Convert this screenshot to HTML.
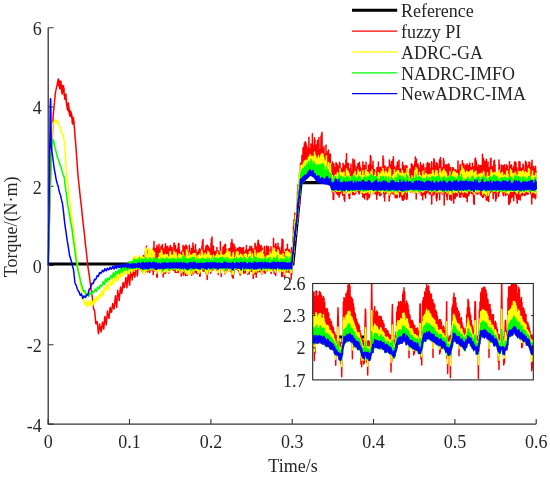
<!DOCTYPE html>
<html lang="en"><head><meta charset="utf-8"><title>Torque response</title>
<style>html,body{margin:0;padding:0;background:#fff}body{width:550px;height:477px;overflow:hidden}svg{display:block}</style></head>
<body>
<svg width="550" height="477" viewBox="0 0 550 477">
<style>text{font-family:"Liberation Serif","Times New Roman",serif;font-size:18px;fill:#262626}.ln{fill:none;stroke-width:1.5;stroke-linejoin:round}</style>
<rect width="550" height="477" fill="#fff"/>
<path d="M48.2 27.7V424.1H536.2" fill="none" stroke="#333" stroke-width="1.3"/>
<path d="M48.2 424.1v-5M129.5 424.1v-5M210.9 424.1v-5M292.2 424.1v-5M373.5 424.1v-5M454.9 424.1v-5M536.2 424.1v-5M48.2 27.7h5.4M48.2 107.0h5.4M48.2 186.3h5.4M48.2 265.5h5.4M48.2 344.8h5.4M48.2 424.1h5.4" fill="none" stroke="#333" stroke-width="1.1"/>
<polyline fill="none" stroke="#000" stroke-width="3.2" stroke-linejoin="miter" points="48.2,264.0 292.9,264.0 301.0,182.6 536.2,182.6"/>
<polyline class="ln" stroke="#ff0000" points="48.2,265.5 48.5,256.2 48.7,246.9 49.0,237.6 49.2,228.3 49.5,219.0 49.7,209.7 50.0,200.4 50.2,191.2 50.5,181.9 50.7,175.2 51.0,169.1 51.2,163.1 51.5,157.0 51.7,151.0 52.0,144.9 52.2,138.9 52.5,132.8 52.7,126.8 53.0,120.7 53.2,114.7 53.5,112.2 53.7,109.8 54.0,107.3 54.2,104.8 54.5,102.4 54.7,99.9 55.0,97.4 55.2,95.0 55.5,92.5 55.7,91.1 56.0,89.9 56.2,88.8 56.5,87.7 56.7,86.5 57.0,85.4 57.2,84.6 57.5,82.3 57.7,82.5 58.0,79.6 58.2,82.8 58.5,79.0 58.7,86.1 59.0,80.5 59.2,86.8 59.5,83.9 59.7,88.8 60.0,83.1 60.2,87.5 60.5,81.0 60.7,86.0 61.0,81.6 61.2,89.6 61.5,84.3 61.7,92.3 62.0,89.2 62.2,94.3 62.5,87.4 62.7,92.0 63.0,85.5 63.2,90.4 63.5,86.1 63.7,92.4 64.0,88.1 64.2,95.5 64.5,93.3 64.7,99.1 65.0,94.4 65.2,99.2 65.5,94.5 65.7,98.1 66.0,94.2 66.2,102.4 66.5,99.4 66.7,105.8 67.0,103.0 67.2,109.0 67.5,104.3 67.7,110.2 68.0,106.0 68.2,109.0 68.5,103.1 68.7,111.5 69.0,107.0 69.2,113.5 69.5,109.9 69.7,115.9 70.0,111.5 70.2,115.8 70.5,111.1 70.7,116.4 71.0,112.1 71.2,115.3 71.5,113.3 71.7,118.3 72.0,115.5 72.2,123.0 72.5,119.7 72.7,123.9 73.0,119.0 73.2,123.7 73.5,117.8 73.7,123.5 74.0,121.3 74.2,126.9 74.5,127.0 74.7,132.5 75.0,134.6 75.2,138.9 75.5,141.2 75.7,144.2 76.0,147.3 76.2,150.5 76.5,154.0 76.7,157.7 77.0,161.0 77.2,164.7 77.5,168.2 77.7,171.6 78.0,174.8 78.2,177.9 78.5,180.2 78.7,182.3 79.0,184.5 79.2,187.0 79.5,189.3 79.7,191.8 80.0,194.2 80.2,196.8 80.5,198.8 80.7,200.9 81.0,203.1 81.2,205.0 81.5,207.2 81.7,209.3 82.0,212.0 82.2,214.5 82.5,217.2 82.7,219.7 83.0,221.9 83.2,223.8 83.5,225.8 83.7,227.9 84.0,229.7 84.2,232.1 84.5,234.7 84.7,237.2 85.0,239.8 85.2,242.3 85.5,244.8 85.7,246.6 86.0,248.6 86.2,250.8 86.5,252.8 86.7,254.8 87.0,257.5 87.2,259.9 87.5,262.5 87.7,264.7 88.0,266.9 88.2,268.8 88.5,270.4 88.7,272.0 89.0,273.6 89.2,275.3 89.5,276.8 89.7,279.1 90.0,281.0 90.2,283.2 90.5,285.2 90.7,287.0 91.0,288.7 91.2,290.1 91.5,291.7 91.7,293.0 92.0,294.7 92.2,296.7 92.5,298.8 92.7,301.4 93.0,303.9 93.2,306.4 93.5,307.8 93.7,308.9 94.0,309.8 94.2,309.6 94.5,310.1 94.7,311.8 95.0,314.7 95.2,316.7 95.5,320.2 95.7,323.3 96.0,323.8 96.2,323.5 96.5,323.6 96.7,323.2 97.0,321.6 97.2,321.8 97.5,324.4 97.7,326.1 98.0,328.4 98.2,332.2 98.5,333.7 98.7,332.3 99.0,329.3 99.2,328.6 99.5,326.4 99.7,324.1 100.0,326.4 100.2,328.7 100.5,327.9 100.7,329.1 101.0,332.1 101.2,331.5 101.5,329.2 101.7,326.7 102.0,326.2 102.2,324.7 102.5,321.9 102.7,322.7 103.0,325.6 103.2,327.5 103.5,328.5 103.7,329.1 104.0,326.6 104.2,324.2 104.5,320.2 104.7,317.5 105.0,316.4 105.2,318.2 105.5,320.2 105.7,321.4 106.0,323.3 106.2,325.0 106.5,322.3 106.7,319.0 107.0,316.9 107.2,314.3 107.5,310.9 107.7,314.5 108.0,314.0 108.2,315.1 108.5,316.2 108.7,317.6 109.0,318.4 109.2,315.6 109.5,313.1 109.7,311.4 110.0,308.2 110.2,307.4 110.5,310.1 110.7,310.1 111.0,311.3 111.2,312.3 111.5,311.8 111.7,312.0 112.0,308.0 112.2,307.8 112.5,304.9 112.7,303.5 113.0,304.1 113.2,305.3 113.5,306.1 113.7,308.2 114.0,309.0 114.2,308.2 114.5,304.4 114.7,304.0 115.0,299.5 115.2,299.1 115.5,295.7 115.7,299.2 116.0,300.0 116.2,303.4 116.5,306.1 116.7,307.5 117.0,302.1 117.2,298.8 117.5,295.2 117.7,290.3 118.0,292.7 118.2,294.0 118.5,293.8 118.7,295.5 119.0,297.2 119.2,300.6 119.5,297.0 119.7,295.8 120.0,291.4 120.2,289.3 120.5,287.8 120.7,286.9 121.0,289.7 121.2,291.2 121.5,293.3 121.7,293.1 122.0,292.1 122.2,290.6 122.5,289.3 122.7,285.8 123.0,282.8 123.2,282.7 123.5,284.1 123.7,284.1 124.0,285.4 124.2,287.7 124.5,286.8 124.7,287.2 125.0,282.7 125.2,283.1 125.5,280.4 125.7,278.1 126.0,277.5 126.2,281.3 126.5,282.7 126.7,283.3 127.0,287.7 127.2,283.6 127.5,282.5 127.7,279.0 128.0,276.3 128.2,275.2 128.5,272.9 128.7,275.7 128.9,277.2 129.2,280.0 129.5,285.1 129.7,285.0 129.9,281.1 130.2,279.0 130.5,274.6 130.7,271.5 131.0,270.9 131.2,271.5 131.5,275.6 131.7,274.9 132.0,277.0 132.2,279.9 132.4,276.5 132.7,275.7 133.0,273.7 133.2,270.5 133.4,269.5 133.7,265.9 134.0,268.7 134.2,273.3 134.4,275.4 134.7,277.2 135.0,275.8 135.2,274.2 135.4,268.6 135.7,267.8 136.0,264.0 136.2,264.1 136.5,266.4 136.7,270.6 137.0,271.2 137.2,275.9 137.5,272.8 137.7,273.7 137.9,266.1 138.2,267.1 138.5,262.7 138.7,263.5 138.9,261.2 139.2,267.8 139.5,263.7 139.7,269.1 139.9,264.6 140.2,269.5 140.5,264.4 140.7,269.1 140.9,262.5 141.2,266.7 141.5,257.7 141.7,267.6 142.0,261.9 142.2,271.7 142.5,263.2 142.7,272.0 143.0,258.5 143.2,270.1 143.5,255.6 143.7,268.6 144.0,258.2 144.2,269.9 144.4,256.4 144.7,268.2 145.0,260.6 145.2,269.3 145.4,251.7 145.7,271.8 146.0,250.0 146.2,267.3 146.4,246.2 146.7,267.2 147.0,250.3 147.2,271.3 147.5,250.8 147.7,272.1 148.0,255.9 148.2,269.5 148.5,259.8 148.7,269.7 149.0,252.5 149.2,270.3 149.5,252.4 149.7,272.6 150.0,254.0 150.2,268.7 150.5,252.8 150.7,268.5 150.9,254.8 151.2,267.9 151.4,254.8 151.7,268.4 152.0,256.4 152.2,270.7 152.5,255.8 152.7,270.4 152.9,249.5 153.2,274.7 153.5,247.7 153.7,271.5 154.0,241.4 154.2,268.0 154.5,254.8 154.7,269.1 154.9,258.5 155.2,269.6 155.5,248.5 155.7,267.7 156.0,251.8 156.2,267.7 156.4,249.0 156.7,276.7 156.9,245.2 157.2,277.6 157.5,246.7 157.7,268.3 158.0,252.6 158.2,268.6 158.4,253.1 158.7,268.0 159.0,244.2 159.2,268.5 159.5,249.1 159.7,268.6 160.0,252.2 160.2,268.3 160.4,249.2 160.7,269.5 161.0,246.3 161.2,267.9 161.5,248.1 161.7,267.7 161.9,252.6 162.2,272.9 162.4,244.6 162.7,274.3 163.0,248.6 163.2,276.9 163.5,248.9 163.7,268.6 163.9,254.6 164.2,268.5 164.5,249.6 164.7,273.6 165.0,247.1 165.2,270.9 165.5,243.8 165.7,273.0 165.9,250.8 166.2,268.6 166.5,250.5 166.7,269.2 167.0,246.3 167.2,269.5 167.4,248.7 167.7,268.5 167.9,247.0 168.2,269.1 168.5,248.2 168.7,272.9 169.0,256.8 169.2,272.8 169.4,254.6 169.7,269.9 170.0,246.0 170.2,270.2 170.5,245.6 170.7,269.5 171.0,251.5 171.2,268.7 171.4,248.2 171.7,268.8 172.0,247.6 172.2,269.0 172.5,258.2 172.7,269.6 173.0,257.4 173.2,268.5 173.4,249.7 173.7,270.5 174.0,243.1 174.2,268.8 174.5,243.3 174.7,267.8 174.9,251.4 175.2,272.5 175.5,245.8 175.7,271.4 176.0,250.0 176.2,272.0 176.4,256.2 176.7,272.6 176.9,249.8 177.2,270.1 177.5,249.6 177.7,272.1 177.9,247.7 178.2,272.4 178.4,243.6 178.7,268.7 179.0,243.4 179.2,268.9 179.5,249.3 179.7,268.3 179.9,256.0 180.2,270.2 180.4,253.2 180.7,270.7 181.0,253.9 181.2,276.0 181.5,252.6 181.7,268.2 181.9,251.6 182.2,268.0 182.4,251.6 182.7,268.6 183.0,245.2 183.2,274.8 183.4,253.5 183.7,275.3 183.9,251.7 184.2,268.5 184.5,246.4 184.7,267.8 185.0,253.7 185.2,268.5 185.4,248.8 185.7,275.5 185.9,245.0 186.2,270.3 186.5,246.9 186.7,274.4 187.0,246.2 187.2,275.4 187.4,251.4 187.7,273.3 187.9,251.9 188.2,269.2 188.5,254.2 188.7,269.0 189.0,259.9 189.2,272.8 189.4,245.2 189.7,273.4 190.0,254.2 190.2,270.0 190.5,252.4 190.7,269.9 190.9,254.4 191.2,269.1 191.4,248.2 191.7,275.3 192.0,255.0 192.2,270.9 192.5,253.8 192.7,271.9 192.9,243.1 193.2,272.7 193.4,246.3 193.7,273.7 194.0,251.2 194.2,272.4 194.5,255.0 194.7,271.0 194.9,250.6 195.2,272.1 195.5,244.6 195.7,268.4 196.0,249.5 196.2,272.5 196.4,259.0 196.7,273.3 196.9,254.3 197.2,273.7 197.5,252.3 197.7,272.4 198.0,253.3 198.2,271.9 198.4,253.8 198.7,272.6 198.9,250.0 199.2,270.2 199.5,248.7 199.7,276.2 200.0,249.1 200.2,276.1 200.4,250.0 200.7,267.9 201.0,251.6 201.2,268.3 201.5,250.9 201.7,267.5 201.9,246.0 202.2,269.3 202.4,241.2 202.7,269.8 203.0,239.4 203.2,271.2 203.5,249.7 203.7,269.3 203.9,250.3 204.2,270.8 204.4,250.8 204.7,270.7 205.0,252.7 205.2,271.4 205.5,248.5 205.7,270.8 205.9,245.9 206.2,273.5 206.5,250.9 206.7,272.8 207.0,245.2 207.2,279.4 207.4,245.3 207.7,274.2 207.9,250.3 208.2,270.8 208.5,246.7 208.7,268.4 209.0,248.5 209.2,267.7 209.4,248.4 209.7,269.4 209.9,250.9 210.2,269.5 210.5,249.7 210.7,273.3 211.0,243.4 211.2,270.9 211.4,238.9 211.7,270.2 212.0,237.0 212.2,267.5 212.5,250.8 212.7,269.9 212.9,250.1 213.2,269.8 213.4,245.9 213.7,267.7 214.0,252.5 214.2,268.2 214.5,252.0 214.7,268.2 214.9,253.2 215.2,267.7 215.4,251.3 215.7,270.6 216.0,253.6 216.2,270.4 216.5,254.7 216.7,269.0 216.9,247.6 217.2,270.1 217.5,253.2 217.7,272.5 218.0,254.6 218.2,274.5 218.4,251.1 218.7,268.3 218.9,252.7 219.2,268.6 219.5,258.0 219.7,268.4 220.0,258.6 220.2,268.3 220.4,241.7 220.7,268.2 220.9,249.7 221.2,276.6 221.5,251.7 221.7,268.3 222.0,252.0 222.2,269.4 222.4,252.1 222.7,267.6 223.0,246.9 223.2,268.5 223.5,251.5 223.7,267.6 224.0,252.6 224.2,271.0 224.4,244.9 224.7,271.1 225.0,247.3 225.2,274.1 225.5,244.3 225.7,273.0 225.9,251.7 226.2,269.9 226.4,249.4 226.7,270.6 227.0,252.1 227.2,267.4 227.5,249.6 227.7,268.6 227.9,251.5 228.2,269.9 228.5,253.2 228.7,270.8 229.0,248.5 229.2,270.8 229.5,253.8 229.7,268.1 229.9,253.8 230.2,268.1 230.5,247.7 230.7,268.6 231.0,243.1 231.2,271.8 231.4,246.7 231.7,272.4 231.9,239.4 232.2,276.7 232.5,243.1 232.7,277.4 233.0,245.9 233.2,278.2 233.4,246.8 233.7,274.2 234.0,244.3 234.2,270.4 234.5,254.1 234.7,269.6 235.0,246.7 235.2,269.1 235.4,250.3 235.7,268.7 236.0,251.5 236.2,268.5 236.5,253.8 236.7,269.3 236.9,249.4 237.2,268.8 237.4,248.3 237.7,269.1 238.0,255.7 238.2,270.5 238.5,248.2 238.7,269.6 238.9,255.3 239.2,272.0 239.5,247.3 239.7,273.3 240.0,252.4 240.2,275.3 240.5,247.7 240.7,268.2 240.9,247.7 241.2,274.0 241.5,252.4 241.7,269.2 242.0,248.7 242.2,269.1 242.4,251.1 242.7,268.5 243.0,247.7 243.2,267.7 243.5,247.6 243.7,273.3 244.0,255.3 244.2,268.4 244.4,253.0 244.7,272.6 245.0,252.8 245.2,273.1 245.5,250.7 245.7,269.6 246.0,249.4 246.2,268.3 246.4,245.6 246.7,268.6 247.0,250.1 247.2,268.7 247.5,256.0 247.7,274.2 247.9,255.7 248.2,270.3 248.5,249.8 248.7,272.7 249.0,251.7 249.2,274.1 249.5,248.2 249.7,269.9 249.9,246.3 250.2,271.1 250.5,258.9 250.7,268.4 251.0,253.2 251.2,271.3 251.5,246.4 251.7,270.3 252.0,249.7 252.2,269.0 252.5,250.9 252.7,271.2 253.0,248.8 253.2,278.5 253.5,253.9 253.7,271.3 253.9,250.8 254.2,273.9 254.4,251.4 254.7,274.1 255.0,243.3 255.2,268.6 255.5,244.2 255.7,269.3 256.0,249.9 256.2,277.2 256.5,247.0 256.7,273.1 257.0,247.6 257.2,271.4 257.4,247.4 257.7,272.0 257.9,241.1 258.2,270.2 258.4,240.2 258.7,268.5 259.0,245.9 259.2,268.4 259.5,244.4 259.7,271.4 260.0,249.2 260.2,268.2 260.5,250.2 260.7,268.2 260.9,246.3 261.2,273.0 261.4,245.7 261.7,274.4 261.9,247.5 262.2,268.3 262.5,248.4 262.7,268.4 263.0,257.4 263.2,267.7 263.5,252.2 263.7,271.0 264.0,255.1 264.2,272.8 264.5,246.6 264.7,271.0 264.9,253.7 265.2,273.2 265.4,254.7 265.7,270.0 266.0,254.9 266.2,271.4 266.5,246.1 266.7,271.2 267.0,247.1 267.2,268.0 267.5,252.7 267.7,269.9 268.0,248.8 268.2,269.9 268.4,246.5 268.7,268.1 268.9,248.7 269.2,269.7 269.4,254.2 269.7,269.7 270.0,252.1 270.2,270.8 270.5,250.5 270.7,272.2 271.0,246.8 271.2,273.5 271.5,254.0 271.7,270.8 271.9,251.0 272.2,268.7 272.4,256.3 272.7,268.7 272.9,254.9 273.2,268.1 273.5,238.2 273.7,269.4 274.0,247.3 274.2,273.3 274.5,246.7 274.7,272.7 275.0,247.2 275.2,274.3 275.5,244.1 275.7,275.5 275.9,243.7 276.2,270.6 276.4,250.3 276.7,267.6 277.0,247.7 277.2,268.2 277.5,246.5 277.7,268.0 278.0,243.3 278.2,267.7 278.5,251.9 278.7,269.4 279.0,247.5 279.2,271.2 279.4,248.6 279.7,269.0 279.9,254.2 280.2,270.1 280.5,250.9 280.7,268.1 281.0,253.8 281.2,268.3 281.5,246.7 281.7,276.3 282.0,239.1 282.2,276.4 282.5,243.9 282.7,276.4 283.0,239.9 283.2,269.8 283.4,255.2 283.7,268.6 283.9,258.3 284.2,268.5 284.5,252.6 284.7,277.5 285.0,252.5 285.2,269.1 285.5,249.4 285.7,268.9 286.0,254.1 286.2,270.0 286.5,251.3 286.7,271.9 286.9,248.5 287.2,271.3 287.4,244.3 287.7,271.8 288.0,252.6 288.2,271.5 288.5,258.4 288.7,272.1 289.0,249.5 289.2,272.7 289.5,250.0 289.7,267.7 290.0,256.3 290.2,272.5 290.4,253.0 290.7,270.4 290.9,254.5 291.2,279.0 291.5,247.7 291.7,274.4 292.0,254.7 292.2,268.1 292.5,247.9 292.7,263.0 293.0,236.5 293.2,260.7 293.5,226.8 293.7,254.0 294.0,220.0 294.2,252.0 294.4,224.0 294.7,244.2 294.9,212.9 295.2,237.0 295.5,219.6 295.7,235.1 296.0,219.3 296.2,228.1 296.5,214.0 296.7,224.3 297.0,204.4 297.2,218.7 297.5,192.1 297.7,213.6 297.9,185.0 298.2,218.7 298.4,185.3 298.7,208.1 299.0,186.9 299.2,203.7 299.5,173.0 299.7,204.1 300.0,174.1 300.2,188.3 300.5,163.2 300.7,185.0 301.0,164.4 301.2,184.4 301.4,171.7 301.7,183.8 301.9,155.4 302.2,183.3 302.5,157.1 302.7,182.7 303.0,148.2 303.2,182.1 303.5,147.2 303.7,181.5 304.0,147.7 304.2,180.9 304.4,143.2 304.7,180.5 304.9,157.2 305.2,180.0 305.4,141.8 305.7,179.5 305.9,142.7 306.2,179.0 306.5,145.1 306.7,178.4 307.0,147.3 307.2,177.9 307.5,149.4 307.7,177.3 307.9,154.8 308.2,176.7 308.4,148.6 308.7,176.2 308.9,137.3 309.2,175.6 309.4,148.5 309.7,175.0 310.0,150.7 310.2,174.5 310.5,149.3 310.7,173.9 311.0,144.1 311.2,173.5 311.4,152.5 311.7,173.5 311.9,152.9 312.2,173.5 312.4,133.7 312.7,173.5 312.9,145.2 313.2,173.5 313.5,155.1 313.7,173.5 314.0,156.0 314.2,173.5 314.5,137.8 314.7,173.5 315.0,140.1 315.2,173.5 315.4,155.7 315.7,173.5 315.9,150.8 316.2,173.5 316.4,145.0 316.7,173.5 316.9,144.9 317.2,173.5 317.5,140.4 317.7,173.5 318.0,147.3 318.2,173.5 318.5,144.5 318.7,173.6 318.9,137.4 319.2,173.6 319.4,154.7 319.7,173.6 319.9,157.2 320.2,173.6 320.4,149.6 320.7,173.6 321.0,136.2 321.2,173.6 321.5,134.5 321.7,173.6 322.0,132.2 322.2,173.8 322.4,148.3 322.7,174.3 322.9,153.3 323.2,174.9 323.4,155.5 323.7,175.4 323.9,146.5 324.2,176.0 324.5,155.2 324.7,176.5 325.0,154.5 325.2,177.0 325.5,156.8 325.7,177.5 326.0,145.0 326.2,177.9 326.4,153.0 326.7,178.3 326.9,153.5 327.2,178.7 327.4,156.0 327.7,179.2 327.9,151.4 328.2,179.6 328.5,150.0 328.7,180.0 329.0,154.2 329.2,180.5 329.5,165.0 329.7,180.9 329.9,159.5 330.2,181.4 330.4,154.1 330.7,183.1 330.9,171.8 331.2,187.2 331.4,164.6 331.7,189.4 332.0,170.3 332.2,191.2 332.5,161.9 332.7,192.4 333.0,177.6 333.2,199.5 333.4,174.8 333.7,199.4 333.9,164.1 334.2,191.3 334.4,171.1 334.7,190.6 334.9,167.8 335.2,191.4 335.5,167.9 335.7,191.6 336.0,162.7 336.2,192.8 336.5,163.3 336.7,193.5 337.0,164.6 337.2,193.3 337.4,165.0 337.7,194.8 337.9,166.9 338.2,194.8 338.4,166.4 338.7,190.3 339.0,166.0 339.2,197.3 339.5,162.3 339.7,194.4 340.0,163.5 340.2,192.6 340.5,168.7 340.7,192.9 340.9,172.2 341.2,192.2 341.4,173.3 341.7,191.4 341.9,168.6 342.2,189.7 342.4,168.0 342.7,195.2 343.0,163.3 343.2,194.5 343.5,165.3 343.7,194.4 344.0,165.2 344.2,199.4 344.5,165.6 344.7,201.2 344.9,166.1 345.2,191.0 345.4,178.9 345.7,192.4 345.9,160.1 346.2,192.6 346.5,153.7 346.7,190.3 347.0,163.0 347.2,190.7 347.5,168.0 347.7,190.3 348.0,170.3 348.2,191.2 348.4,163.4 348.7,195.2 348.9,171.1 349.2,198.4 349.4,175.5 349.7,198.5 350.0,168.8 350.2,191.3 350.5,175.3 350.7,189.6 351.0,163.9 351.2,191.2 351.5,174.3 351.7,190.4 351.9,177.6 352.2,191.1 352.4,171.7 352.7,194.8 352.9,158.9 353.2,193.0 353.4,167.8 353.7,194.2 354.0,169.2 354.2,194.7 354.5,159.9 354.7,192.8 355.0,164.7 355.2,189.4 355.5,173.0 355.7,193.8 355.9,169.8 356.2,189.9 356.4,174.4 356.7,191.3 356.9,166.7 357.2,189.9 357.5,166.1 357.7,190.7 358.0,163.6 358.2,191.1 358.5,168.5 358.7,193.1 359.0,170.3 359.2,194.1 359.4,162.3 359.7,192.7 359.9,165.8 360.2,191.3 360.4,168.0 360.7,190.8 361.0,168.2 361.2,191.6 361.5,174.3 361.7,193.0 362.0,172.4 362.2,191.3 362.5,171.3 362.7,196.8 362.9,161.8 363.2,197.3 363.4,168.5 363.7,194.5 363.9,169.7 364.2,197.1 364.4,165.3 364.7,199.1 365.0,170.9 365.2,191.3 365.5,173.0 365.7,191.4 366.0,162.3 366.2,194.6 366.5,172.2 366.7,193.6 366.9,171.1 367.2,199.8 367.4,170.6 367.7,199.5 367.9,173.1 368.2,192.2 368.5,165.2 368.7,192.3 369.0,171.1 369.2,197.7 369.5,178.4 369.7,196.6 370.0,163.0 370.2,190.7 370.4,155.6 370.7,190.5 370.9,156.7 371.2,190.8 371.4,165.0 371.7,190.7 372.0,172.4 372.2,190.0 372.5,172.0 372.7,193.0 373.0,161.3 373.2,192.1 373.5,170.4 373.7,194.0 374.0,171.9 374.2,191.4 374.4,169.5 374.7,192.1 374.9,171.1 375.2,193.2 375.4,177.4 375.7,192.1 376.0,172.8 376.2,194.7 376.5,172.0 376.7,199.2 377.0,167.6 377.2,193.2 377.5,169.6 377.7,194.5 377.9,170.9 378.2,191.5 378.4,162.0 378.7,192.3 378.9,171.8 379.2,192.4 379.5,167.5 379.7,195.6 380.0,171.0 380.2,195.8 380.5,176.0 380.7,193.0 381.0,167.0 381.2,194.8 381.4,169.2 381.7,191.0 381.9,176.0 382.2,190.1 382.4,175.7 382.7,191.3 383.0,155.9 383.2,190.3 383.5,158.7 383.7,193.6 384.0,166.1 384.2,197.2 384.5,174.8 384.7,200.9 385.0,166.1 385.2,193.4 385.4,173.2 385.7,193.7 385.9,169.7 386.2,191.8 386.4,170.5 386.7,189.4 387.0,167.3 387.2,192.7 387.5,174.3 387.7,192.4 388.0,174.7 388.2,190.1 388.5,167.6 388.7,190.1 388.9,166.7 389.2,201.0 389.4,160.0 389.7,196.6 389.9,169.9 390.2,193.8 390.5,165.7 390.7,193.6 391.0,164.3 391.2,189.4 391.5,161.4 391.7,192.6 392.0,170.4 392.2,192.1 392.4,175.6 392.7,192.6 392.9,159.5 393.2,194.3 393.4,156.8 393.7,189.6 394.0,170.2 394.2,189.7 394.5,171.6 394.7,191.4 395.0,166.7 395.2,197.7 395.5,171.5 395.7,197.6 396.0,171.5 396.2,194.1 396.4,169.2 396.7,191.2 396.9,165.5 397.2,197.7 397.4,161.9 397.7,191.2 398.0,174.3 398.2,189.9 398.5,165.0 398.7,192.1 399.0,160.3 399.2,191.6 399.5,176.1 399.7,197.2 399.9,176.7 400.2,195.4 400.4,169.1 400.7,195.5 400.9,172.5 401.2,190.5 401.5,175.9 401.7,197.1 402.0,175.7 402.2,200.1 402.5,162.3 402.7,194.8 403.0,164.9 403.2,200.3 403.4,165.6 403.7,192.0 403.9,165.6 404.2,192.9 404.4,167.2 404.7,199.0 405.0,167.5 405.2,192.8 405.5,174.1 405.7,191.6 406.0,165.5 406.2,192.7 406.5,168.5 406.7,199.5 407.0,166.1 407.2,198.3 407.4,173.7 407.7,191.4 407.9,177.2 408.2,191.0 408.5,173.8 408.7,191.1 409.0,179.2 409.2,190.5 409.5,171.7 409.7,191.2 410.0,168.9 410.2,191.1 410.5,170.4 410.7,191.9 410.9,172.9 411.2,191.4 411.4,163.7 411.7,190.3 411.9,167.4 412.2,190.8 412.5,164.9 412.7,191.3 413.0,166.4 413.2,192.5 413.5,172.5 413.7,190.8 414.0,171.7 414.2,192.9 414.5,164.7 414.7,189.9 414.9,161.6 415.2,190.8 415.4,156.9 415.7,191.1 416.0,162.7 416.2,198.9 416.5,159.2 416.7,191.2 417.0,173.9 417.2,191.3 417.5,176.0 417.7,190.1 418.0,163.9 418.2,191.4 418.4,166.5 418.7,193.0 418.9,168.2 419.2,191.8 419.5,172.3 419.7,191.4 420.0,170.0 420.2,191.2 420.5,162.5 420.7,191.0 421.0,164.9 421.2,195.3 421.5,172.8 421.7,193.5 421.9,165.4 422.2,195.8 422.4,167.5 422.7,199.7 422.9,169.5 423.2,190.7 423.5,164.0 423.7,190.8 424.0,167.4 424.2,194.7 424.5,177.9 424.7,192.6 425.0,178.4 425.2,195.0 425.5,175.3 425.7,198.0 425.9,167.8 426.2,193.5 426.4,170.1 426.7,190.6 427.0,163.7 427.2,192.3 427.5,162.5 427.7,191.1 428.0,162.9 428.2,191.7 428.5,168.1 428.7,191.4 429.0,164.0 429.2,194.1 429.4,163.8 429.7,191.4 429.9,168.2 430.2,192.5 430.5,175.0 430.7,193.7 431.0,177.8 431.2,195.8 431.5,161.7 431.7,204.1 432.0,169.9 432.2,191.9 432.5,169.9 432.7,190.5 432.9,167.9 433.2,195.1 433.4,162.3 433.7,195.1 433.9,158.7 434.2,193.7 434.5,160.1 434.7,191.4 435.0,165.4 435.2,191.3 435.5,169.7 435.7,190.1 436.0,167.4 436.2,198.6 436.5,162.8 436.7,200.8 436.9,164.4 437.2,198.1 437.4,163.8 437.7,193.0 438.0,166.7 438.2,192.5 438.5,167.3 438.7,190.2 439.0,169.1 439.2,191.1 439.5,160.0 439.7,199.7 440.0,169.3 440.2,192.5 440.4,157.5 440.7,191.0 440.9,160.2 441.2,191.9 441.5,170.4 441.7,191.5 442.0,170.1 442.2,194.3 442.5,168.1 442.7,190.6 443.0,171.8 443.2,190.6 443.5,158.4 443.7,190.3 444.0,161.1 444.2,204.9 444.4,169.8 444.7,190.4 444.9,166.1 445.2,191.2 445.5,173.0 445.7,193.1 446.0,164.4 446.2,194.0 446.5,171.0 446.7,196.6 447.0,165.1 447.2,199.8 447.5,171.2 447.7,195.0 447.9,169.7 448.2,190.5 448.4,164.1 448.7,190.9 449.0,164.3 449.2,190.6 449.5,170.5 449.7,199.2 450.0,171.2 450.2,192.1 450.5,167.6 450.7,194.7 451.0,171.6 451.2,200.5 451.4,176.3 451.7,199.9 451.9,175.3 452.2,194.3 452.5,167.7 452.7,190.7 453.0,170.2 453.2,191.1 453.5,167.9 453.7,203.2 454.0,173.7 454.2,198.2 454.5,174.3 454.7,194.6 455.0,169.8 455.2,198.5 455.4,170.2 455.7,196.5 455.9,170.1 456.2,196.0 456.4,173.1 456.7,193.2 456.9,173.9 457.2,196.1 457.4,171.1 457.7,192.2 458.0,160.9 458.2,192.5 458.5,169.6 458.7,191.4 459.0,173.5 459.2,190.5 459.5,178.3 459.7,197.3 460.0,164.4 460.2,196.1 460.5,165.8 460.7,197.1 461.0,172.0 461.2,192.1 461.5,174.1 461.7,194.0 462.0,173.0 462.2,190.2 462.4,160.7 462.7,190.0 462.9,163.4 463.2,197.1 463.4,171.4 463.7,193.7 463.9,164.1 464.2,194.7 464.4,173.8 464.7,196.7 464.9,172.9 465.2,197.0 465.5,165.5 465.7,192.3 466.0,173.8 466.2,197.7 466.5,166.1 466.7,197.2 467.0,163.7 467.2,201.8 467.5,165.5 467.7,191.4 468.0,168.5 468.2,192.1 468.5,170.8 468.7,195.8 469.0,164.9 469.2,194.0 469.5,164.8 469.7,193.2 469.9,162.9 470.2,192.3 470.4,177.1 470.7,191.5 470.9,167.6 471.2,191.2 471.4,168.5 471.7,193.5 471.9,170.9 472.2,193.2 472.5,163.3 472.7,193.1 473.0,175.5 473.2,194.9 473.5,167.1 473.7,203.3 474.0,168.1 474.2,204.6 474.5,170.9 474.7,191.1 475.0,159.0 475.2,191.2 475.5,158.0 475.7,191.7 476.0,160.6 476.2,193.7 476.5,162.1 476.7,193.2 477.0,167.4 477.2,192.4 477.4,175.6 477.7,194.3 477.9,176.3 478.2,192.0 478.4,165.1 478.7,191.7 478.9,170.0 479.2,191.4 479.4,171.8 479.7,189.4 480.0,165.5 480.2,194.6 480.5,170.3 480.7,194.5 481.0,165.6 481.2,195.4 481.5,166.2 481.7,195.4 482.0,165.8 482.2,196.8 482.5,154.3 482.7,197.6 483.0,164.6 483.2,195.7 483.5,158.5 483.7,196.7 484.0,164.8 484.2,193.2 484.5,161.3 484.7,194.2 484.9,172.8 485.2,194.0 485.4,166.3 485.7,195.5 485.9,161.0 486.2,199.8 486.4,159.2 486.7,200.2 486.9,169.3 487.2,191.2 487.5,168.2 487.7,193.4 488.0,162.0 488.2,200.5 488.5,173.8 488.7,201.4 489.0,167.7 489.2,195.1 489.5,174.1 489.7,191.7 490.0,170.7 490.2,192.7 490.5,158.4 490.7,192.1 491.0,158.2 491.2,189.4 491.5,171.9 491.7,191.3 491.9,176.1 492.2,191.3 492.4,166.6 492.7,190.8 492.9,167.2 493.2,198.7 493.4,169.7 493.7,189.5 493.9,161.1 494.2,189.8 494.5,160.2 494.7,192.4 495.0,164.6 495.2,194.0 495.5,172.8 495.7,201.1 496.0,177.7 496.2,198.8 496.5,178.1 496.7,198.0 497.0,176.2 497.2,190.7 497.5,172.7 497.7,190.3 498.0,172.3 498.2,190.9 498.5,174.3 498.7,196.2 499.0,159.9 499.2,192.6 499.4,164.6 499.7,189.7 499.9,174.7 500.2,190.4 500.4,177.9 500.7,189.8 500.9,171.0 501.2,191.2 501.4,164.9 501.7,190.3 502.0,168.8 502.2,192.5 502.5,172.5 502.7,193.2 503.0,165.4 503.2,195.3 503.5,166.3 503.7,195.7 504.0,171.0 504.2,190.7 504.5,164.8 504.7,191.4 505.0,168.2 505.2,189.6 505.5,169.1 505.7,195.6 506.0,172.6 506.2,192.8 506.5,164.8 506.7,193.4 506.9,176.7 507.2,194.3 507.4,166.1 507.7,191.4 507.9,169.3 508.2,191.8 508.4,173.0 508.7,204.0 508.9,170.6 509.2,204.4 509.5,161.7 509.7,202.1 510.0,171.6 510.2,202.5 510.5,165.4 510.7,195.5 511.0,173.2 511.2,192.5 511.5,165.0 511.7,197.7 512.0,168.6 512.2,196.5 512.5,176.2 512.7,191.2 513.0,173.1 513.2,196.0 513.5,166.9 513.7,200.7 514.0,173.3 514.2,190.9 514.5,162.1 514.7,191.0 515.0,161.7 515.2,194.0 515.5,172.4 515.7,192.3 516.0,162.9 516.2,196.0 516.5,170.9 516.7,198.4 517.0,168.1 517.2,203.2 517.5,174.7 517.7,193.5 518.0,173.7 518.2,199.5 518.5,173.2 518.7,192.2 519.0,161.5 519.2,193.7 519.5,163.2 519.7,199.2 520.0,162.0 520.2,200.1 520.5,171.9 520.7,191.6 521.0,168.3 521.2,194.5 521.5,173.5 521.7,195.3 522.0,169.1 522.2,195.8 522.5,167.7 522.7,191.2 523.0,164.1 523.2,191.0 523.5,165.7 523.7,194.4 524.0,172.6 524.2,194.5 524.5,177.5 524.7,195.5 525.0,170.5 525.2,195.6 525.5,161.3 525.7,194.1 526.0,161.7 526.2,193.8 526.5,163.2 526.7,192.2 527.0,170.8 527.2,194.1 527.5,170.3 527.7,194.4 528.0,166.1 528.2,194.1 528.5,172.2 528.7,192.0 529.0,162.0 529.2,190.5 529.5,162.2 529.7,191.4 530.0,167.6 530.2,189.9 530.5,173.7 530.7,193.5 531.0,171.7 531.2,193.1 531.5,163.1 531.7,204.1 532.0,160.3 532.2,197.8 532.5,171.4 532.7,191.5 533.0,174.7 533.2,194.7 533.5,166.6 533.7,197.3 534.0,169.0 534.2,191.6 534.5,169.5 534.7,191.6 535.0,168.2 535.2,198.8 535.5,166.3 535.7,198.0 536.0,171.0 536.2,190.0"/>
<polyline class="ln" stroke="#ffff00" points="48.2,265.5 48.5,255.0 48.7,244.5 49.0,234.0 49.2,223.6 49.5,213.1 49.7,202.6 50.0,192.1 50.2,184.4 50.5,177.5 50.7,170.5 51.0,163.6 51.2,156.6 51.5,149.7 51.7,142.7 52.0,135.7 52.2,128.8 52.5,125.4 52.7,124.5 53.0,123.6 53.2,122.8 53.5,122.2 53.7,122.5 54.0,122.1 54.2,121.6 54.5,121.2 54.7,120.4 55.0,120.1 55.2,120.5 55.5,120.9 55.7,121.8 56.0,122.4 56.2,123.0 56.5,122.6 56.7,122.0 57.0,121.6 57.2,120.6 57.5,120.3 57.7,121.2 58.0,122.4 58.2,123.2 58.5,124.2 58.7,125.2 59.0,126.2 59.2,126.2 59.5,126.3 59.7,126.4 60.0,126.6 60.2,126.9 60.5,128.0 60.7,129.4 61.0,130.3 61.2,131.8 61.5,133.0 61.7,133.1 62.0,133.3 62.2,133.5 62.5,133.7 62.7,133.7 63.0,134.7 63.2,136.0 63.5,137.1 63.7,138.1 64.0,139.6 64.2,139.9 64.5,143.1 64.7,146.7 65.0,150.0 65.2,153.6 65.5,157.6 65.7,161.6 66.0,165.7 66.2,169.5 66.5,173.4 66.7,177.3 67.0,179.2 67.2,181.0 67.5,182.9 67.7,184.7 68.0,186.3 68.2,188.5 68.5,190.7 68.7,192.9 69.0,195.0 69.2,197.2 69.5,199.0 69.7,200.8 70.0,202.5 70.2,204.4 70.5,206.3 70.7,208.5 71.0,211.0 71.2,213.2 71.5,215.5 71.7,217.9 72.0,220.1 72.2,222.0 72.5,223.9 72.7,225.8 73.0,227.6 73.2,229.7 73.5,231.9 73.7,234.0 74.0,236.1 74.2,238.2 74.5,240.4 74.7,242.1 75.0,244.0 75.2,245.7 75.5,247.5 75.7,249.4 76.0,251.3 76.2,253.5 76.5,255.8 76.7,258.0 77.0,260.1 77.2,262.0 77.5,263.8 77.7,265.5 78.0,266.9 78.2,268.6 78.5,270.2 78.7,272.3 79.0,274.2 79.2,276.3 79.5,278.4 79.7,280.2 80.0,281.9 80.2,283.4 80.5,284.9 80.7,286.3 81.0,287.4 81.2,289.6 81.5,291.9 81.7,294.1 82.0,296.7 82.2,298.4 82.5,298.9 82.7,298.8 83.0,298.4 83.2,297.9 83.5,297.5 83.7,299.8 84.0,300.8 84.2,302.5 84.5,303.8 84.7,304.4 85.0,304.6 85.2,304.5 85.5,303.9 85.7,302.9 86.0,302.0 86.2,301.2 86.5,301.4 86.7,302.7 87.0,304.5 87.2,305.7 87.5,306.9 87.7,306.0 88.0,305.3 88.2,303.8 88.5,302.0 88.7,300.9 89.0,301.9 89.2,302.6 89.5,303.6 89.7,304.5 90.0,305.6 90.2,305.2 90.5,304.6 90.7,303.7 91.0,302.2 91.2,301.4 91.5,300.4 91.7,301.1 92.0,303.2 92.2,304.2 92.5,304.4 92.7,305.5 93.0,304.1 93.2,303.1 93.5,301.7 93.7,299.7 94.0,298.7 94.2,300.3 94.5,301.2 94.7,301.3 95.0,301.9 95.2,302.6 95.5,302.7 95.7,301.1 96.0,299.3 96.2,298.5 96.5,297.1 96.7,296.8 97.0,297.9 97.2,299.1 97.5,299.3 97.7,300.3 98.0,300.5 98.2,298.8 98.5,298.0 98.7,296.9 99.0,294.7 99.2,294.5 99.5,294.8 99.7,296.1 100.0,296.8 100.2,297.6 100.5,297.5 100.7,297.2 101.0,294.9 101.2,293.8 101.5,293.0 101.7,291.0 102.0,290.7 102.2,292.2 102.5,293.3 102.7,293.8 103.0,295.5 103.2,295.1 103.5,293.2 103.7,290.8 104.0,288.9 104.2,287.0 104.5,288.2 104.7,289.0 105.0,288.9 105.2,289.9 105.5,290.6 105.7,290.5 106.0,289.7 106.2,288.4 106.5,287.0 106.7,286.4 107.0,284.7 107.2,285.2 107.5,286.2 107.7,286.8 108.0,288.2 108.2,289.9 108.5,288.9 108.7,286.8 109.0,285.0 109.2,282.9 109.5,281.1 109.7,283.3 110.0,283.4 110.2,283.9 110.5,284.2 110.7,284.7 111.0,285.2 111.2,284.0 111.5,283.6 111.7,281.8 112.0,281.2 112.2,278.0 112.5,279.4 112.7,281.2 113.0,282.5 113.2,283.0 113.5,284.6 113.7,283.3 114.0,280.8 114.2,279.5 114.5,277.3 114.7,275.5 115.0,276.3 115.2,278.4 115.5,278.7 115.7,279.9 116.0,281.3 116.2,281.3 116.5,279.1 116.7,278.1 117.0,276.5 117.2,275.0 117.5,274.0 117.7,275.0 118.0,276.2 118.2,277.9 118.5,279.2 118.7,280.4 119.0,278.0 119.2,276.9 119.5,273.5 119.7,272.7 120.0,270.5 120.2,274.0 120.5,272.6 120.7,275.7 121.0,274.4 121.2,277.2 121.5,274.9 121.7,274.4 122.0,272.0 122.2,272.8 122.5,270.2 122.7,270.3 123.0,270.1 123.2,272.5 123.5,271.1 123.7,276.0 124.0,271.4 124.2,274.1 124.5,268.9 124.7,270.5 125.0,265.2 125.2,268.4 125.5,266.3 125.7,270.6 126.0,268.2 126.2,274.2 126.5,271.3 126.7,272.9 127.0,268.1 127.2,271.1 127.5,265.9 127.7,268.5 128.0,264.5 128.2,270.6 128.5,267.6 128.7,273.6 128.9,269.1 129.2,273.6 129.5,266.9 129.7,269.9 129.9,264.0 130.2,267.9 130.5,261.9 130.7,270.4 131.0,264.4 131.2,271.6 131.5,266.2 131.7,273.0 132.0,264.2 132.2,271.4 132.4,262.7 132.7,267.6 133.0,258.7 133.2,267.9 133.4,257.9 133.7,268.7 134.0,257.0 134.2,271.2 134.4,256.7 134.7,269.1 135.0,260.1 135.2,267.7 135.4,256.1 135.7,267.3 136.0,256.7 136.2,269.3 136.5,257.9 136.7,269.4 137.0,259.7 137.2,268.5 137.5,260.6 137.7,267.4 137.9,258.6 138.2,267.3 138.5,255.5 138.7,268.6 138.9,256.0 139.2,268.7 139.5,261.1 139.7,268.5 139.9,257.4 140.2,267.5 140.5,258.0 140.7,268.2 140.9,259.6 141.2,270.1 141.5,256.5 141.7,270.5 142.0,259.2 142.2,271.0 142.5,259.3 142.7,269.4 143.0,258.1 143.2,273.3 143.5,257.2 143.7,271.8 144.0,257.5 144.2,274.3 144.4,259.4 144.7,269.8 145.0,258.0 145.2,268.1 145.4,248.9 145.7,271.5 146.0,253.0 146.2,268.2 146.4,248.0 146.7,269.0 147.0,258.4 147.2,270.4 147.5,255.0 147.7,270.3 148.0,257.0 148.2,269.3 148.5,249.6 148.7,268.9 149.0,248.2 149.2,268.2 149.5,255.7 149.7,269.4 150.0,256.6 150.2,267.8 150.5,249.4 150.7,268.3 150.9,255.0 151.2,268.8 151.4,258.2 151.7,268.3 152.0,256.1 152.2,268.0 152.5,250.3 152.7,268.0 152.9,250.4 153.2,270.2 153.5,252.0 153.7,270.2 154.0,254.9 154.2,268.2 154.5,252.5 154.7,268.1 154.9,260.1 155.2,267.9 155.5,260.6 155.7,268.1 156.0,261.3 156.2,268.5 156.4,262.4 156.7,273.4 156.9,259.7 157.2,271.8 157.5,259.3 157.7,268.0 158.0,260.6 158.2,268.4 158.4,257.8 158.7,267.9 159.0,259.4 159.2,270.8 159.5,253.6 159.7,271.0 160.0,258.3 160.2,269.6 160.4,256.3 160.7,267.3 161.0,252.3 161.2,268.9 161.5,250.1 161.7,268.9 161.9,252.1 162.2,272.4 162.4,256.7 162.7,273.6 163.0,255.4 163.2,271.7 163.5,256.1 163.7,268.2 163.9,255.0 164.2,268.5 164.5,255.6 164.7,271.9 165.0,257.6 165.2,270.5 165.5,254.2 165.7,271.4 165.9,257.1 166.2,269.3 166.5,255.1 166.7,269.0 167.0,256.1 167.2,270.1 167.4,254.8 167.7,268.4 167.9,256.8 168.2,267.5 168.5,257.5 168.7,272.2 169.0,259.9 169.2,271.7 169.4,257.1 169.7,269.5 170.0,251.8 170.2,269.1 170.5,251.7 170.7,268.7 171.0,256.5 171.2,270.5 171.4,257.6 171.7,270.0 172.0,254.9 172.2,267.8 172.5,255.4 172.7,268.0 173.0,257.3 173.2,267.3 173.4,255.5 173.7,268.9 174.0,251.1 174.2,269.4 174.5,259.5 174.7,268.8 174.9,259.3 175.2,268.0 175.5,252.9 175.7,269.2 176.0,252.7 176.2,269.2 176.4,255.2 176.7,271.5 176.9,258.3 177.2,268.9 177.5,259.0 177.7,268.4 177.9,258.8 178.2,269.9 178.4,255.9 178.7,269.5 179.0,254.1 179.2,267.8 179.5,260.7 179.7,267.8 179.9,260.3 180.2,268.6 180.4,254.4 180.7,269.5 181.0,260.0 181.2,272.8 181.5,255.7 181.7,269.2 181.9,257.8 182.2,270.5 182.4,256.8 182.7,268.7 183.0,252.2 183.2,271.2 183.4,257.9 183.7,270.5 183.9,255.7 184.2,269.1 184.5,257.4 184.7,268.1 185.0,257.5 185.2,268.9 185.4,258.9 185.7,272.4 185.9,260.4 186.2,272.0 186.5,249.7 186.7,274.0 187.0,251.4 187.2,271.8 187.4,252.0 187.7,274.2 187.9,256.3 188.2,268.5 188.5,257.7 188.7,268.4 189.0,259.3 189.2,273.8 189.4,252.9 189.7,274.2 190.0,255.8 190.2,268.0 190.5,259.9 190.7,268.5 190.9,255.6 191.2,268.5 191.4,255.6 191.7,273.8 192.0,255.2 192.2,269.3 192.5,255.7 192.7,270.4 192.9,253.9 193.2,269.4 193.4,253.6 193.7,272.7 194.0,254.5 194.2,270.4 194.5,253.8 194.7,268.0 194.9,255.8 195.2,267.7 195.5,253.2 195.7,269.6 196.0,259.8 196.2,270.2 196.4,259.0 196.7,269.3 196.9,258.2 197.2,268.8 197.5,255.9 197.7,272.4 198.0,258.8 198.2,271.1 198.4,255.7 198.7,272.0 198.9,257.2 199.2,269.7 199.5,254.2 199.7,273.1 200.0,256.3 200.2,271.8 200.4,258.3 200.7,268.0 201.0,258.2 201.2,268.5 201.5,251.3 201.7,267.8 201.9,250.1 202.2,268.5 202.4,252.7 202.7,267.9 203.0,257.0 203.2,268.6 203.5,256.8 203.7,268.1 203.9,255.8 204.2,269.6 204.4,254.6 204.7,268.7 205.0,253.3 205.2,269.9 205.5,255.2 205.7,271.7 205.9,257.2 206.2,272.5 206.5,259.9 206.7,272.6 207.0,254.5 207.2,274.5 207.4,257.9 207.7,271.1 207.9,251.2 208.2,268.0 208.5,255.5 208.7,269.5 209.0,252.6 209.2,269.4 209.4,258.0 209.7,271.8 209.9,255.0 210.2,270.8 210.5,257.9 210.7,271.3 211.0,259.8 211.2,270.5 211.4,255.8 211.7,270.0 212.0,258.5 212.2,268.4 212.5,259.8 212.7,267.6 212.9,259.2 213.2,267.6 213.4,255.1 213.7,268.8 214.0,257.3 214.2,268.3 214.5,256.6 214.7,268.2 214.9,260.6 215.2,268.6 215.4,261.0 215.7,270.4 216.0,255.9 216.2,269.2 216.5,254.8 216.7,268.3 216.9,255.2 217.2,268.6 217.5,251.9 217.7,272.8 218.0,255.5 218.2,272.6 218.4,257.2 218.7,267.8 218.9,255.1 219.2,267.7 219.5,257.7 219.7,268.8 220.0,256.5 220.2,268.5 220.4,256.7 220.7,267.9 220.9,251.3 221.2,272.7 221.5,256.2 221.7,268.3 222.0,255.9 222.2,267.9 222.4,255.0 222.7,270.1 223.0,257.4 223.2,269.1 223.5,257.7 223.7,269.8 224.0,255.3 224.2,268.4 224.4,257.3 224.7,268.4 225.0,254.8 225.2,272.8 225.5,257.7 225.7,273.4 225.9,253.5 226.2,268.4 226.4,256.9 226.7,267.4 227.0,250.8 227.2,268.3 227.5,249.5 227.7,267.3 227.9,256.3 228.2,269.0 228.5,254.5 228.7,270.8 229.0,251.7 229.2,270.2 229.5,255.0 229.7,267.5 229.9,252.3 230.2,268.7 230.5,258.0 230.7,267.8 231.0,257.3 231.2,269.6 231.4,258.9 231.7,269.5 231.9,257.9 232.2,274.0 232.5,255.7 232.7,272.6 233.0,253.7 233.2,274.6 233.4,252.6 233.7,269.4 234.0,259.4 234.2,269.4 234.5,261.3 234.7,268.8 235.0,257.9 235.2,268.2 235.4,258.2 235.7,267.4 236.0,255.0 236.2,267.8 236.5,251.8 236.7,267.8 236.9,254.9 237.2,268.2 237.4,255.9 237.7,269.6 238.0,251.8 238.2,268.9 238.5,260.1 238.7,268.7 238.9,256.3 239.2,269.9 239.5,255.8 239.7,272.4 240.0,257.0 240.2,271.8 240.5,254.0 240.7,267.4 240.9,258.2 241.2,274.3 241.5,255.8 241.7,269.6 242.0,255.0 242.2,268.6 242.4,257.3 242.7,268.5 243.0,261.0 243.2,267.7 243.5,258.4 243.7,268.2 244.0,258.6 244.2,268.6 244.4,254.3 244.7,270.2 245.0,254.4 245.2,269.1 245.5,253.7 245.7,267.9 246.0,256.2 246.2,270.1 246.4,254.6 246.7,269.2 247.0,259.7 247.2,268.1 247.5,257.7 247.7,273.0 247.9,258.5 248.2,269.7 248.5,254.8 248.7,271.4 249.0,259.3 249.2,270.7 249.5,251.7 249.7,270.6 249.9,251.9 250.2,270.4 250.5,251.7 250.7,268.8 251.0,255.8 251.2,268.5 251.5,259.3 251.7,267.9 252.0,258.2 252.2,267.7 252.5,253.8 252.7,268.2 253.0,257.9 253.2,274.0 253.5,259.3 253.7,270.7 253.9,259.4 254.2,272.6 254.4,257.4 254.7,270.8 255.0,250.3 255.2,268.5 255.5,255.1 255.7,269.8 256.0,256.3 256.2,272.1 256.5,258.1 256.7,270.5 257.0,256.4 257.2,269.3 257.4,253.3 257.7,269.6 257.9,256.3 258.2,270.5 258.4,253.2 258.7,268.4 259.0,255.9 259.2,268.5 259.5,257.0 259.7,268.1 260.0,252.8 260.2,270.2 260.5,256.5 260.7,269.7 260.9,252.0 261.2,269.3 261.4,256.9 261.7,274.1 261.9,256.9 262.2,270.1 262.5,250.6 262.7,269.2 263.0,254.3 263.2,270.3 263.5,254.5 263.7,268.5 264.0,257.3 264.2,269.6 264.5,258.9 264.7,269.2 264.9,257.2 265.2,270.1 265.4,259.4 265.7,268.4 266.0,261.1 266.2,271.3 266.5,257.2 266.7,270.8 267.0,255.7 267.2,268.5 267.5,255.5 267.7,267.7 268.0,258.6 268.2,267.4 268.4,255.5 268.7,270.2 268.9,258.7 269.2,270.1 269.4,255.7 269.7,269.5 270.0,251.8 270.2,270.1 270.5,253.8 270.7,271.4 271.0,258.5 271.2,271.4 271.5,254.6 271.7,268.5 271.9,255.4 272.2,268.3 272.4,250.7 272.7,267.7 272.9,251.0 273.2,268.4 273.5,254.7 273.7,268.3 274.0,248.1 274.2,268.5 274.5,249.0 274.7,270.2 275.0,258.1 275.2,272.2 275.5,258.4 275.7,270.8 275.9,252.3 276.2,269.7 276.4,255.8 276.7,268.3 277.0,255.4 277.2,268.4 277.5,252.3 277.7,268.1 278.0,249.8 278.2,270.8 278.5,251.4 278.7,270.3 279.0,257.3 279.2,272.0 279.4,255.1 279.7,269.7 279.9,255.2 280.2,270.4 280.5,255.7 280.7,268.9 281.0,255.1 281.2,267.6 281.5,258.4 281.7,270.4 282.0,256.1 282.2,271.6 282.5,256.9 282.7,271.3 283.0,253.4 283.2,269.9 283.4,259.8 283.7,268.6 283.9,260.4 284.2,268.2 284.5,257.6 284.7,274.4 285.0,259.9 285.2,267.9 285.5,253.5 285.7,268.9 286.0,251.6 286.2,269.0 286.5,252.0 286.7,269.3 286.9,252.9 287.2,271.1 287.4,251.1 287.7,270.1 288.0,252.9 288.2,269.1 288.5,255.8 288.7,269.0 289.0,252.3 289.2,268.8 289.5,253.4 289.7,268.4 290.0,253.8 290.2,272.8 290.4,258.1 290.7,268.5 290.9,254.5 291.2,272.5 291.5,260.1 291.7,269.7 292.0,255.4 292.2,266.2 292.5,251.2 292.7,262.2 293.0,243.0 293.2,256.6 293.5,235.5 293.7,252.5 294.0,233.6 294.2,248.0 294.4,229.7 294.7,240.3 294.9,221.3 295.2,238.6 295.5,215.5 295.7,234.3 296.0,215.9 296.2,227.4 296.5,209.9 296.7,224.0 297.0,210.6 297.2,217.7 297.5,203.0 297.7,213.8 297.9,195.1 298.2,210.8 298.4,186.1 298.7,205.4 299.0,177.8 299.2,201.0 299.5,173.2 299.7,195.6 300.0,172.8 300.2,187.1 300.5,171.2 300.7,183.7 301.0,165.6 301.2,182.9 301.4,170.4 301.7,182.1 301.9,165.0 302.2,181.4 302.5,169.8 302.7,180.6 303.0,168.7 303.2,179.8 303.5,163.1 303.7,179.0 304.0,167.9 304.2,178.3 304.4,161.1 304.7,177.8 304.9,162.4 305.2,177.2 305.4,161.3 305.7,176.6 305.9,160.2 306.2,175.9 306.5,164.3 306.7,175.5 307.0,160.3 307.2,174.9 307.5,162.0 307.7,174.4 307.9,164.0 308.2,173.8 308.4,157.5 308.7,173.2 308.9,156.9 309.2,172.7 309.4,158.3 309.7,172.1 310.0,154.6 310.2,171.5 310.5,156.7 310.7,171.0 311.0,158.2 311.2,170.6 311.4,156.3 311.7,170.6 311.9,156.8 312.2,170.7 312.4,156.3 312.7,170.7 312.9,159.1 313.2,170.7 313.5,160.4 313.7,170.7 314.0,157.0 314.2,170.7 314.5,152.0 314.7,170.7 315.0,155.2 315.2,170.4 315.4,155.3 315.7,170.8 315.9,156.9 316.2,170.8 316.4,161.4 316.7,170.8 316.9,159.3 317.2,170.8 317.5,161.0 317.7,170.9 318.0,157.8 318.2,170.9 318.5,155.7 318.7,170.9 318.9,161.5 319.2,170.9 319.4,160.4 319.7,170.9 319.9,158.7 320.2,170.9 320.4,156.9 320.7,171.0 321.0,154.7 321.2,171.0 321.5,159.4 321.7,170.9 322.0,153.5 322.2,171.2 322.4,156.7 322.7,171.8 322.9,154.2 323.2,172.3 323.4,156.6 323.7,172.9 323.9,158.2 324.2,173.5 324.5,161.0 324.7,174.0 325.0,164.5 325.2,174.6 325.5,161.0 325.7,175.1 326.0,161.3 326.2,175.7 326.4,155.8 326.7,176.3 326.9,165.9 327.2,176.9 327.4,166.4 327.7,177.1 327.9,167.2 328.2,178.3 328.5,162.6 328.7,179.0 329.0,167.5 329.2,179.7 329.5,167.8 329.7,180.4 329.9,168.5 330.2,181.1 330.4,163.5 330.7,183.1 330.9,172.6 331.2,187.5 331.4,177.5 331.7,190.3 332.0,175.7 332.2,190.4 332.5,175.8 332.7,190.1 333.0,180.8 333.2,191.8 333.4,177.5 333.7,191.7 333.9,181.2 334.2,190.1 334.4,180.5 334.7,190.8 334.9,175.7 335.2,190.0 335.5,174.7 335.7,190.0 336.0,175.2 336.2,190.2 336.5,177.5 336.7,191.1 337.0,176.8 337.2,191.4 337.4,172.6 337.7,191.3 337.9,177.3 338.2,190.9 338.4,176.6 338.7,189.5 339.0,173.6 339.2,191.0 339.5,174.9 339.7,190.9 340.0,168.8 340.2,191.3 340.5,175.9 340.7,190.3 340.9,173.4 341.2,189.4 341.4,172.6 341.7,190.4 341.9,179.1 342.2,190.1 342.4,172.9 342.7,189.8 343.0,176.5 343.2,189.5 343.5,173.5 343.7,193.6 344.0,171.9 344.2,190.5 344.5,177.0 344.7,192.9 344.9,179.7 345.2,189.2 345.4,176.6 345.7,191.4 345.9,176.5 346.2,192.0 346.5,168.9 346.7,189.3 347.0,173.3 347.2,189.2 347.5,171.9 347.7,190.0 348.0,171.0 348.2,189.1 348.4,174.0 348.7,193.2 348.9,173.3 349.2,193.0 349.4,176.9 349.7,191.4 350.0,176.7 350.2,191.7 350.5,178.3 350.7,190.8 351.0,180.4 351.2,191.7 351.5,179.4 351.7,190.5 351.9,176.5 352.2,190.2 352.4,176.9 352.7,191.2 352.9,177.3 353.2,190.1 353.4,177.3 353.7,190.8 354.0,173.7 354.2,191.7 354.5,174.9 354.7,192.5 355.0,171.4 355.2,189.4 355.5,175.7 355.7,191.6 355.9,175.6 356.2,190.4 356.4,178.7 356.7,190.6 356.9,176.7 357.2,190.2 357.5,174.2 357.7,189.3 358.0,169.7 358.2,189.7 358.5,175.0 358.7,190.1 359.0,172.6 359.2,190.1 359.4,176.1 359.7,189.6 359.9,172.6 360.2,189.6 360.4,171.7 360.7,189.2 361.0,180.4 361.2,192.4 361.5,175.8 361.7,191.0 362.0,180.5 362.2,190.3 362.5,175.2 362.7,192.3 362.9,170.8 363.2,192.7 363.4,175.7 363.7,189.8 363.9,175.9 364.2,193.2 364.4,176.0 364.7,192.6 365.0,175.1 365.2,189.9 365.5,170.0 365.7,189.1 366.0,169.7 366.2,192.5 366.5,171.8 366.7,191.2 366.9,181.9 367.2,191.8 367.4,178.9 367.7,191.3 367.9,172.1 368.2,190.6 368.5,173.4 368.7,189.6 369.0,174.8 369.2,193.4 369.5,177.4 369.7,192.1 370.0,175.8 370.2,189.5 370.4,174.0 370.7,190.4 370.9,171.9 371.2,189.4 371.4,175.5 371.7,192.0 372.0,169.7 372.2,190.1 372.5,176.2 372.7,192.4 373.0,177.7 373.2,189.8 373.5,178.2 373.7,194.1 374.0,176.6 374.2,189.3 374.4,178.9 374.7,189.7 374.9,175.1 375.2,191.5 375.4,172.2 375.7,191.3 376.0,178.4 376.2,190.5 376.5,178.8 376.7,190.5 377.0,178.7 377.2,190.3 377.5,179.9 377.7,190.3 377.9,176.7 378.2,190.4 378.4,172.5 378.7,191.0 378.9,174.9 379.2,190.8 379.5,177.9 379.7,191.1 380.0,174.1 380.2,191.4 380.5,174.2 380.7,190.7 381.0,179.1 381.2,193.0 381.4,171.4 381.7,190.6 381.9,173.4 382.2,192.1 382.4,175.9 382.7,190.5 383.0,168.6 383.2,191.3 383.5,174.6 383.7,190.4 384.0,171.9 384.2,189.9 384.5,176.7 384.7,192.1 385.0,178.2 385.2,188.9 385.4,174.3 385.7,190.5 385.9,171.0 386.2,190.6 386.4,173.5 386.7,190.4 387.0,173.1 387.2,192.3 387.5,173.5 387.7,192.5 388.0,178.8 388.2,190.6 388.5,178.7 388.7,190.4 388.9,171.2 389.2,194.8 389.4,167.9 389.7,192.3 389.9,177.1 390.2,190.6 390.5,169.5 390.7,192.6 391.0,181.2 391.2,190.4 391.5,181.3 391.7,189.9 392.0,181.9 392.2,190.4 392.4,176.2 392.7,191.7 392.9,177.0 393.2,192.0 393.4,174.4 393.7,189.4 394.0,175.3 394.2,189.2 394.5,169.8 394.7,190.2 395.0,173.0 395.2,193.5 395.5,175.6 395.7,194.1 396.0,172.4 396.2,190.6 396.4,172.5 396.7,189.8 396.9,174.0 397.2,194.3 397.4,170.7 397.7,190.5 398.0,171.6 398.2,190.5 398.5,170.4 398.7,188.9 399.0,178.2 399.2,190.5 399.5,177.5 399.7,191.5 399.9,173.1 400.2,191.5 400.4,175.0 400.7,190.2 400.9,174.1 401.2,189.8 401.5,179.2 401.7,191.3 402.0,173.2 402.2,195.1 402.5,171.0 402.7,192.9 403.0,179.1 403.2,193.7 403.4,174.2 403.7,189.6 403.9,173.8 404.2,189.9 404.4,178.5 404.7,192.0 405.0,176.1 405.2,189.6 405.5,173.2 405.7,190.0 406.0,176.7 406.2,190.1 406.5,175.1 406.7,192.6 407.0,168.4 407.2,191.1 407.4,172.6 407.7,191.0 407.9,176.4 408.2,190.4 408.5,172.7 408.7,191.4 409.0,176.3 409.2,190.4 409.5,179.6 409.7,191.6 410.0,181.5 410.2,190.6 410.5,179.2 410.7,191.3 410.9,179.2 411.2,190.9 411.4,178.8 411.7,190.4 411.9,175.7 412.2,189.8 412.5,177.8 412.7,190.3 413.0,180.5 413.2,192.4 413.5,181.9 413.7,190.9 414.0,180.4 414.2,192.9 414.5,175.8 414.7,190.6 414.9,170.8 415.2,189.4 415.4,171.7 415.7,189.5 416.0,167.6 416.2,192.4 416.5,170.8 416.7,190.8 417.0,169.0 417.2,189.4 417.5,177.0 417.7,190.7 418.0,177.4 418.2,192.5 418.4,178.3 418.7,191.9 418.9,175.4 419.2,191.4 419.5,172.3 419.7,189.5 420.0,178.8 420.2,189.8 420.5,175.7 420.7,190.0 421.0,177.8 421.2,191.3 421.5,179.7 421.7,191.1 421.9,176.3 422.2,191.2 422.4,176.0 422.7,192.2 422.9,171.0 423.2,191.7 423.5,175.7 423.7,191.5 424.0,176.1 424.2,189.1 424.5,175.6 424.7,189.8 425.0,178.9 425.2,190.5 425.5,173.2 425.7,189.2 425.9,176.1 426.2,189.1 426.4,174.1 426.7,190.1 427.0,181.7 427.2,189.9 427.5,178.3 427.7,190.5 428.0,175.1 428.2,190.3 428.5,177.7 428.7,189.6 429.0,174.6 429.2,190.0 429.4,174.8 429.7,191.6 429.9,179.2 430.2,190.0 430.5,176.8 430.7,189.7 431.0,174.3 431.2,191.4 431.5,176.2 431.7,193.7 432.0,174.2 432.2,190.3 432.5,171.0 432.7,190.3 432.9,170.3 433.2,191.4 433.4,173.7 433.7,190.7 433.9,175.8 434.2,190.6 434.5,176.9 434.7,190.2 435.0,175.3 435.2,190.6 435.5,172.0 435.7,189.6 436.0,170.5 436.2,191.9 436.5,175.2 436.7,191.3 436.9,170.7 437.2,192.2 437.4,174.2 437.7,190.6 438.0,177.9 438.2,191.4 438.5,177.5 438.7,191.5 439.0,179.5 439.2,189.9 439.5,172.4 439.7,192.1 440.0,168.7 440.2,191.7 440.4,173.3 440.7,190.5 440.9,171.7 441.2,191.5 441.5,173.5 441.7,190.7 442.0,181.1 442.2,193.0 442.5,180.5 442.7,190.5 443.0,170.8 443.2,190.3 443.5,170.8 443.7,189.0 444.0,169.2 444.2,191.6 444.4,173.1 444.7,189.7 444.9,172.2 445.2,191.4 445.5,171.4 445.7,189.3 446.0,174.4 446.2,190.0 446.5,173.4 446.7,189.5 447.0,178.8 447.2,193.1 447.5,180.0 447.7,191.8 447.9,177.0 448.2,189.0 448.4,178.3 448.7,190.6 449.0,176.2 449.2,189.7 449.5,178.5 449.7,194.2 450.0,171.6 450.2,189.9 450.5,175.6 450.7,189.6 451.0,176.4 451.2,194.3 451.4,177.4 451.7,194.6 451.9,176.7 452.2,189.2 452.5,173.7 452.7,190.3 453.0,172.2 453.2,190.5 453.5,171.3 453.7,192.3 454.0,171.0 454.2,192.4 454.5,176.1 454.7,192.4 455.0,174.2 455.2,191.7 455.4,172.3 455.7,189.3 455.9,175.4 456.2,190.9 456.4,176.8 456.7,192.6 456.9,173.6 457.2,192.6 457.4,173.7 457.7,189.4 458.0,178.7 458.2,189.3 458.5,176.9 458.7,189.3 459.0,176.5 459.2,188.9 459.5,179.2 459.7,191.8 460.0,175.7 460.2,190.8 460.5,172.7 460.7,192.1 461.0,170.8 461.2,190.1 461.5,170.5 461.7,189.8 462.0,166.3 462.2,190.2 462.4,172.3 462.7,192.1 462.9,172.1 463.2,192.7 463.4,168.9 463.7,190.3 463.9,169.7 464.2,190.5 464.4,172.1 464.7,191.5 464.9,173.9 465.2,191.7 465.5,176.3 465.7,192.3 466.0,172.7 466.2,191.0 466.5,171.2 466.7,190.3 467.0,171.9 467.2,193.1 467.5,172.2 467.7,189.9 468.0,172.0 468.2,190.2 468.5,174.5 468.7,190.6 469.0,174.1 469.2,190.7 469.5,172.2 469.7,190.6 469.9,173.4 470.2,189.9 470.4,171.1 470.7,190.7 470.9,170.5 471.2,190.3 471.4,174.3 471.7,191.3 471.9,172.5 472.2,190.5 472.5,169.9 472.7,191.8 473.0,174.4 473.2,191.9 473.5,173.9 473.7,192.0 474.0,173.0 474.2,194.2 474.5,175.5 474.7,189.0 475.0,172.1 475.2,189.7 475.5,175.0 475.7,191.3 476.0,171.1 476.2,191.8 476.5,174.6 476.7,190.1 477.0,175.1 477.2,192.2 477.4,180.3 477.7,190.9 477.9,178.0 478.2,190.7 478.4,178.4 478.7,189.7 478.9,174.3 479.2,191.6 479.4,175.9 479.7,189.8 480.0,173.7 480.2,189.0 480.5,175.9 480.7,190.3 481.0,175.0 481.2,189.7 481.5,173.0 481.7,188.9 482.0,174.6 482.2,191.7 482.5,175.8 482.7,194.4 483.0,179.4 483.2,191.0 483.5,171.3 483.7,191.8 484.0,172.7 484.2,192.8 484.5,175.4 484.7,193.3 484.9,176.4 485.2,191.8 485.4,178.8 485.7,194.3 485.9,178.9 486.2,195.1 486.4,177.5 486.7,195.7 486.9,177.7 487.2,190.4 487.5,172.5 487.7,189.7 488.0,180.9 488.2,192.1 488.5,181.0 488.7,195.1 489.0,176.5 489.2,189.4 489.5,178.1 489.7,191.8 490.0,176.6 490.2,189.4 490.5,175.1 490.7,189.6 491.0,169.7 491.2,188.9 491.5,171.2 491.7,189.1 491.9,172.4 492.2,190.6 492.4,174.2 492.7,189.6 492.9,175.7 493.2,191.5 493.4,173.1 493.7,190.4 493.9,174.5 494.2,191.0 494.5,176.6 494.7,189.2 495.0,172.5 495.2,190.6 495.5,172.4 495.7,190.2 496.0,177.8 496.2,191.6 496.5,172.7 496.7,191.8 497.0,181.1 497.2,190.6 497.5,172.6 497.7,191.4 498.0,176.2 498.2,191.3 498.5,177.7 498.7,190.1 499.0,170.2 499.2,190.2 499.4,170.8 499.7,189.6 499.9,177.7 500.2,190.6 500.4,173.8 500.7,190.6 500.9,175.2 501.2,191.3 501.4,180.1 501.7,192.9 502.0,172.5 502.2,190.3 502.5,172.6 502.7,190.8 503.0,176.6 503.2,190.3 503.5,179.2 503.7,191.4 504.0,175.8 504.2,189.9 504.5,175.0 504.7,190.8 505.0,175.8 505.2,190.0 505.5,177.2 505.7,191.6 506.0,178.2 506.2,192.7 506.5,172.7 506.7,192.4 506.9,171.1 507.2,192.9 507.4,171.1 507.7,189.9 507.9,174.3 508.2,189.8 508.4,180.7 508.7,194.0 508.9,181.0 509.2,192.7 509.5,179.4 509.7,189.9 510.0,177.2 510.2,191.1 510.5,169.3 510.7,191.1 511.0,171.0 511.2,189.4 511.5,170.8 511.7,191.3 512.0,174.4 512.2,191.5 512.5,174.8 512.7,189.0 513.0,173.5 513.2,190.7 513.5,178.5 513.7,190.2 514.0,177.5 514.2,189.2 514.5,174.0 514.7,190.1 515.0,173.3 515.2,191.2 515.5,172.0 515.7,191.8 516.0,178.5 516.2,190.5 516.5,179.1 516.7,192.5 517.0,175.2 517.2,193.6 517.5,180.8 517.7,190.1 518.0,181.1 518.2,190.6 518.5,172.0 518.7,190.7 519.0,173.0 519.2,189.8 519.5,171.4 519.7,191.4 520.0,178.0 520.2,194.3 520.5,171.7 520.7,189.0 521.0,175.1 521.2,192.6 521.5,172.0 521.7,192.0 522.0,181.3 522.2,192.1 522.5,176.2 522.7,189.8 523.0,170.6 523.2,190.4 523.5,171.7 523.7,193.1 524.0,176.3 524.2,192.8 524.5,173.6 524.7,192.2 525.0,177.7 525.2,191.1 525.5,171.6 525.7,191.6 526.0,179.0 526.2,189.8 526.5,182.2 526.7,190.6 527.0,172.9 527.2,190.4 527.5,178.9 527.7,191.5 528.0,178.0 528.2,192.2 528.5,168.3 528.7,190.4 529.0,169.6 529.2,189.3 529.5,169.5 529.7,189.5 530.0,176.7 530.2,189.0 530.5,177.6 530.7,190.8 531.0,178.5 531.2,191.7 531.5,179.3 531.7,192.9 532.0,174.9 532.2,191.2 532.5,170.9 532.7,190.6 533.0,176.4 533.2,191.2 533.5,176.2 533.7,192.3 534.0,176.0 534.2,191.9 534.5,178.6 534.7,191.4 535.0,175.8 535.2,193.0 535.5,179.5 535.7,193.4 536.0,173.1 536.2,191.1"/>
<polyline class="ln" stroke="#00ff00" points="48.2,265.5 48.5,253.8 48.7,242.1 49.0,230.4 49.2,218.7 49.5,207.1 49.7,197.3 50.0,190.1 50.2,183.0 50.5,175.8 50.7,168.6 51.0,161.4 51.2,154.4 51.5,147.4 51.7,145.4 52.0,144.5 52.2,143.9 52.5,143.0 52.7,141.9 53.0,140.8 53.2,139.8 53.5,140.7 53.7,141.8 54.0,143.0 54.2,144.3 54.5,145.5 54.7,146.8 55.0,147.9 55.2,148.7 55.5,149.5 55.7,150.4 56.0,151.3 56.2,152.1 56.5,153.4 56.7,154.5 57.0,155.5 57.2,156.6 57.5,157.5 57.7,158.1 58.0,158.6 58.2,158.9 58.5,159.6 58.7,160.0 59.0,161.0 59.2,161.9 59.5,163.1 59.7,164.1 60.0,164.9 60.2,165.7 60.5,166.1 60.7,166.6 61.0,167.1 61.2,167.6 61.5,168.6 61.7,169.5 62.0,170.6 62.2,171.5 62.5,172.5 62.7,173.5 63.0,174.2 63.2,174.7 63.5,175.4 63.7,176.0 64.0,176.5 64.2,177.6 64.5,179.7 64.7,181.9 65.0,184.1 65.2,186.2 65.5,187.9 65.7,189.6 66.0,191.2 66.2,193.0 66.5,194.5 66.7,196.3 67.0,198.5 67.2,200.8 67.5,203.0 67.7,204.9 68.0,206.3 68.2,207.6 68.5,208.7 68.7,209.9 69.0,211.1 69.2,212.6 69.5,214.3 69.7,216.0 70.0,217.7 70.2,219.4 70.5,221.2 70.7,222.4 71.0,223.5 71.2,224.8 71.5,226.1 71.7,227.5 72.0,229.2 72.2,231.1 72.5,233.4 72.7,235.4 73.0,237.4 73.2,239.2 73.5,240.9 73.7,242.2 74.0,243.8 74.2,245.3 74.5,247.2 74.7,249.1 75.0,251.4 75.2,253.4 75.5,255.4 75.7,257.3 76.0,259.0 76.2,260.6 76.5,262.0 76.7,263.6 77.0,265.0 77.2,266.4 77.5,267.8 77.7,269.0 78.0,270.2 78.2,271.7 78.5,272.4 78.7,273.3 79.0,274.0 79.2,275.0 79.5,275.8 79.7,277.0 80.0,278.3 80.2,279.4 80.5,280.7 80.7,281.8 81.0,283.1 81.2,283.8 81.5,284.9 81.7,285.4 82.0,286.4 82.2,286.3 82.5,287.2 82.7,288.3 83.0,289.0 83.2,290.2 83.5,291.4 83.7,291.2 84.0,291.3 84.2,290.6 84.5,290.9 84.7,290.5 85.0,291.7 85.2,292.3 85.5,293.6 85.7,294.4 86.0,296.0 86.2,295.9 86.5,294.9 86.7,294.6 87.0,294.3 87.2,293.4 87.5,293.9 87.7,294.2 88.0,294.7 88.2,295.3 88.5,296.0 88.7,296.4 89.0,295.6 89.2,294.7 89.5,294.3 89.7,293.4 90.0,292.8 90.2,293.0 90.5,293.3 90.7,294.0 91.0,294.2 91.2,294.8 91.5,294.4 91.7,293.3 92.0,292.9 92.2,291.8 92.5,291.1 92.7,291.1 93.0,291.6 93.2,292.1 93.5,292.5 93.7,292.3 94.0,292.3 94.2,291.4 94.5,290.9 94.7,290.5 95.0,289.2 95.2,289.2 95.5,289.6 95.7,289.6 96.0,290.4 96.2,290.8 96.5,291.3 96.7,290.2 97.0,289.3 97.2,288.8 97.5,287.6 97.7,286.9 98.0,287.3 98.2,288.0 98.5,288.0 98.7,288.3 99.0,288.6 99.2,288.4 99.5,287.4 99.7,286.8 100.0,286.2 100.2,285.2 100.5,285.7 100.7,285.3 101.0,285.4 101.2,286.2 101.5,286.1 101.7,285.8 102.0,285.6 102.2,284.7 102.5,284.3 102.7,283.4 103.0,281.7 103.2,282.6 103.5,282.6 103.7,283.1 104.0,283.6 104.2,284.6 104.5,283.8 104.7,282.4 105.0,281.5 105.2,280.2 105.5,279.6 105.7,278.9 106.0,280.3 106.2,280.8 106.5,281.2 106.7,281.9 107.0,281.8 107.2,280.7 107.5,280.2 107.7,278.6 108.0,277.8 108.2,278.0 108.5,278.2 108.7,278.3 109.0,279.3 109.2,279.5 109.5,279.8 109.7,279.0 110.0,278.0 110.2,277.2 110.5,277.0 110.7,275.7 111.0,275.9 111.2,276.4 111.5,276.5 111.7,277.3 112.0,278.1 112.2,277.7 112.5,276.4 112.7,275.4 113.0,274.6 113.2,273.4 113.5,272.9 113.7,274.1 114.0,274.4 114.2,275.8 114.5,275.8 114.7,276.7 115.0,274.6 115.2,274.2 115.5,272.3 115.7,272.0 116.0,271.4 116.2,272.5 116.5,272.0 116.7,273.7 117.0,272.5 117.2,273.9 117.5,272.6 117.7,272.7 118.0,271.0 118.2,271.7 118.5,270.1 118.7,271.2 119.0,270.1 119.2,272.4 119.5,270.8 119.7,273.7 120.0,270.7 120.2,272.4 120.5,268.8 120.7,270.5 121.0,267.4 121.2,268.3 121.5,266.6 121.7,270.3 122.0,268.3 122.2,272.5 122.5,269.8 122.7,271.6 123.0,268.6 123.2,269.1 123.5,265.6 123.7,267.0 124.0,264.5 124.2,268.3 124.5,266.6 124.7,269.8 125.0,268.6 125.2,270.3 125.5,266.5 125.7,268.8 126.0,264.4 126.2,266.3 126.5,264.2 126.7,267.4 127.0,264.2 127.2,269.9 127.5,267.0 127.7,270.6 128.0,266.4 128.2,269.0 128.5,265.0 128.7,267.0 128.9,261.7 129.2,267.0 129.5,263.0 129.7,268.6 129.9,263.4 130.2,269.2 130.5,265.0 130.7,268.5 131.0,261.6 131.2,267.5 131.5,261.4 131.7,265.7 132.0,261.8 132.2,268.2 132.4,263.4 132.7,267.8 133.0,262.4 133.2,268.3 133.4,260.5 133.7,266.6 134.0,259.0 134.2,267.1 134.4,260.1 134.7,266.8 135.0,259.7 135.2,268.2 135.4,260.2 135.7,268.1 136.0,260.2 136.2,266.9 136.5,260.2 136.7,267.0 137.0,261.0 137.2,268.1 137.5,262.5 137.7,267.9 137.9,259.6 138.2,268.2 138.5,259.3 138.7,267.3 138.9,260.7 139.2,266.9 139.5,257.6 139.7,267.7 139.9,260.5 140.2,267.7 140.5,260.4 140.7,267.2 140.9,260.8 141.2,268.0 141.5,259.1 141.7,267.9 142.0,260.5 142.2,269.4 142.5,259.3 142.7,269.9 143.0,259.1 143.2,269.5 143.5,261.5 143.7,268.1 144.0,259.2 144.2,269.6 144.4,262.2 144.7,268.8 145.0,259.1 145.2,268.4 145.4,257.7 145.7,269.6 146.0,257.8 146.2,267.7 146.4,259.9 146.7,268.0 147.0,260.1 147.2,268.5 147.5,260.7 147.7,267.9 148.0,260.2 148.2,268.9 148.5,260.2 148.7,269.5 149.0,259.7 149.2,268.4 149.5,257.9 149.7,268.1 150.0,260.1 150.2,268.2 150.5,260.8 150.7,268.1 150.9,258.3 151.2,268.5 151.4,259.8 151.7,268.0 152.0,260.8 152.2,267.4 152.5,261.6 152.7,267.7 152.9,260.5 153.2,269.6 153.5,257.7 153.7,268.9 154.0,257.9 154.2,268.5 154.5,260.7 154.7,268.3 154.9,258.9 155.2,267.2 155.5,259.7 155.7,267.9 156.0,259.7 156.2,268.3 156.4,260.7 156.7,268.8 156.9,258.3 157.2,269.5 157.5,258.9 157.7,267.2 158.0,260.3 158.2,268.3 158.4,259.6 158.7,268.2 159.0,259.1 159.2,267.9 159.5,261.3 159.7,268.1 160.0,262.2 160.2,268.5 160.4,261.4 160.7,268.4 161.0,258.2 161.2,268.6 161.5,258.7 161.7,268.5 161.9,259.8 162.2,268.3 162.4,259.2 162.7,270.7 163.0,258.5 163.2,270.8 163.5,262.6 163.7,268.6 163.9,260.0 164.2,268.7 164.5,261.3 164.7,268.6 165.0,259.4 165.2,268.7 165.5,258.7 165.7,268.6 165.9,260.8 166.2,267.9 166.5,260.8 166.7,268.2 167.0,257.8 167.2,269.1 167.4,258.9 167.7,267.5 167.9,261.7 168.2,268.5 168.5,259.4 168.7,270.3 169.0,262.1 169.2,270.3 169.4,259.0 169.7,268.3 170.0,259.0 170.2,268.7 170.5,261.0 170.7,268.4 171.0,260.3 171.2,268.4 171.4,260.0 171.7,267.9 172.0,258.3 172.2,267.4 172.5,259.1 172.7,268.3 173.0,262.0 173.2,268.0 173.4,260.2 173.7,268.2 174.0,258.2 174.2,267.9 174.5,259.7 174.7,267.5 174.9,259.4 175.2,269.7 175.5,259.4 175.7,269.4 176.0,259.4 176.2,268.7 176.4,261.0 176.7,268.4 176.9,259.6 177.2,268.4 177.5,259.2 177.7,267.6 177.9,261.4 178.2,268.6 178.4,258.2 178.7,267.9 179.0,258.2 179.2,267.8 179.5,261.7 179.7,268.7 179.9,260.0 180.2,267.3 180.4,259.1 180.7,268.2 181.0,259.3 181.2,268.5 181.5,260.2 181.7,268.1 181.9,260.3 182.2,268.2 182.4,259.9 182.7,268.9 183.0,255.7 183.2,269.6 183.4,256.8 183.7,269.7 183.9,258.7 184.2,268.1 184.5,257.0 184.7,267.9 185.0,257.9 185.2,268.1 185.4,259.3 185.7,269.0 185.9,258.8 186.2,269.5 186.5,258.4 186.7,269.8 187.0,262.4 187.2,268.5 187.4,259.6 187.7,270.3 187.9,259.4 188.2,268.0 188.5,259.9 188.7,268.4 189.0,259.1 189.2,269.4 189.4,258.9 189.7,268.6 190.0,259.4 190.2,268.4 190.5,257.9 190.7,268.3 190.9,260.6 191.2,268.2 191.4,261.4 191.7,270.5 192.0,258.8 192.2,268.1 192.5,257.8 192.7,269.1 192.9,260.4 193.2,268.9 193.4,259.2 193.7,269.5 194.0,257.2 194.2,269.3 194.5,257.9 194.7,268.7 194.9,259.6 195.2,268.0 195.5,261.3 195.7,268.1 196.0,260.3 196.2,267.4 196.4,261.5 196.7,267.8 196.9,260.5 197.2,267.7 197.5,258.7 197.7,268.6 198.0,258.5 198.2,268.9 198.4,261.0 198.7,269.0 198.9,260.9 199.2,269.3 199.5,262.6 199.7,269.6 200.0,259.9 200.2,268.7 200.4,260.3 200.7,267.9 201.0,258.9 201.2,267.9 201.5,259.1 201.7,267.6 201.9,260.2 202.2,268.0 202.4,258.4 202.7,268.0 203.0,258.3 203.2,267.7 203.5,258.8 203.7,267.5 203.9,262.2 204.2,269.4 204.4,262.9 204.7,268.3 205.0,259.8 205.2,268.5 205.5,259.0 205.7,268.7 205.9,259.6 206.2,268.9 206.5,261.4 206.7,269.3 207.0,259.7 207.2,268.3 207.4,261.6 207.7,269.8 207.9,257.8 208.2,268.0 208.5,260.2 208.7,267.9 209.0,259.4 209.2,268.3 209.4,259.1 209.7,269.3 209.9,260.4 210.2,268.6 210.5,260.9 210.7,268.8 211.0,260.6 211.2,267.7 211.4,260.0 211.7,268.4 212.0,258.7 212.2,268.3 212.5,260.9 212.7,267.9 212.9,261.9 213.2,268.3 213.4,260.3 213.7,268.1 214.0,258.0 214.2,267.5 214.5,256.9 214.7,268.4 214.9,260.7 215.2,268.4 215.4,258.6 215.7,268.7 216.0,260.0 216.2,268.4 216.5,259.4 216.7,267.3 216.9,258.1 217.2,267.5 217.5,260.8 217.7,269.2 218.0,259.5 218.2,269.2 218.4,262.0 218.7,268.0 218.9,259.2 219.2,268.2 219.5,258.7 219.7,268.0 220.0,257.9 220.2,268.3 220.4,257.8 220.7,267.4 220.9,258.4 221.2,268.7 221.5,259.5 221.7,268.2 222.0,257.0 222.2,267.3 222.4,257.2 222.7,268.5 223.0,258.1 223.2,268.7 223.5,261.2 223.7,268.1 224.0,259.2 224.2,267.7 224.4,259.7 224.7,268.6 225.0,258.0 225.2,270.3 225.5,259.1 225.7,269.9 225.9,259.8 226.2,268.9 226.4,260.2 226.7,267.6 227.0,259.2 227.2,267.8 227.5,257.6 227.7,268.2 227.9,258.0 228.2,267.8 228.5,261.7 228.7,267.9 229.0,260.8 229.2,268.5 229.5,261.7 229.7,267.7 229.9,259.3 230.2,267.9 230.5,261.2 230.7,267.9 231.0,261.6 231.2,269.0 231.4,261.3 231.7,269.1 231.9,259.5 232.2,270.2 232.5,260.6 232.7,270.6 233.0,260.5 233.2,270.2 233.4,258.4 233.7,268.8 234.0,261.0 234.2,267.6 234.5,261.2 234.7,267.9 235.0,258.7 235.2,268.6 235.4,260.9 235.7,267.8 236.0,260.7 236.2,267.4 236.5,257.6 236.7,268.3 236.9,259.8 237.2,268.7 237.4,260.0 237.7,268.3 238.0,259.0 238.2,267.7 238.5,259.3 238.7,268.3 238.9,262.0 239.2,268.1 239.5,258.8 239.7,268.2 240.0,261.1 240.2,268.6 240.5,257.3 240.7,268.2 240.9,261.1 241.2,270.5 241.5,258.2 241.7,267.4 242.0,261.4 242.2,267.9 242.4,258.7 242.7,268.0 243.0,260.4 243.2,267.5 243.5,261.9 243.7,269.2 244.0,259.2 244.2,267.9 244.4,257.7 244.7,268.2 245.0,260.4 245.2,269.5 245.5,258.1 245.7,267.4 246.0,260.6 246.2,269.0 246.4,260.6 246.7,267.9 247.0,259.9 247.2,267.6 247.5,261.6 247.7,268.8 247.9,261.6 248.2,267.9 248.5,258.4 248.7,268.3 249.0,257.8 249.2,268.4 249.5,258.7 249.7,269.2 249.9,256.5 250.2,268.1 250.5,258.2 250.7,268.3 251.0,260.2 251.2,268.7 251.5,258.7 251.7,268.1 252.0,260.7 252.2,268.7 252.5,260.9 252.7,268.3 253.0,262.5 253.2,269.3 253.5,259.5 253.7,268.5 253.9,258.4 254.2,269.1 254.4,256.3 254.7,268.8 255.0,260.1 255.2,267.7 255.5,257.4 255.7,268.6 256.0,259.3 256.2,268.2 256.5,257.5 256.7,268.9 257.0,258.4 257.2,268.7 257.4,261.1 257.7,268.5 257.9,261.4 258.2,268.7 258.4,260.4 258.7,268.6 259.0,259.3 259.2,267.7 259.5,258.3 259.7,268.2 260.0,261.0 260.2,267.8 260.5,263.1 260.7,267.5 260.9,259.5 261.2,268.8 261.4,259.5 261.7,270.2 261.9,258.8 262.2,267.8 262.5,259.5 262.7,268.4 263.0,261.6 263.2,268.7 263.5,262.2 263.7,268.1 264.0,259.0 264.2,269.3 264.5,258.7 264.7,268.2 264.9,260.6 265.2,267.9 265.4,257.7 265.7,268.1 266.0,261.1 266.2,268.1 266.5,261.2 266.7,268.6 267.0,261.7 267.2,268.0 267.5,259.0 267.7,268.9 268.0,261.2 268.2,269.1 268.4,260.7 268.7,268.5 268.9,257.7 269.2,268.8 269.4,260.5 269.7,267.9 270.0,257.4 270.2,268.8 270.5,261.6 270.7,268.8 271.0,261.2 271.2,268.1 271.5,262.2 271.7,268.1 271.9,260.1 272.2,268.4 272.4,261.2 272.7,268.5 272.9,261.3 273.2,268.9 273.5,258.1 273.7,268.8 274.0,257.9 274.2,267.9 274.5,261.6 274.7,268.1 275.0,258.5 275.2,268.8 275.5,260.2 275.7,268.2 275.9,258.8 276.2,268.1 276.4,259.5 276.7,267.7 277.0,257.1 277.2,267.4 277.5,255.7 277.7,267.9 278.0,262.0 278.2,268.2 278.5,261.2 278.7,268.8 279.0,261.3 279.2,269.7 279.4,261.9 279.7,268.3 279.9,260.2 280.2,267.9 280.5,261.6 280.7,268.9 281.0,258.6 281.2,267.6 281.5,261.9 281.7,268.9 282.0,260.6 282.2,268.4 282.5,259.5 282.7,269.4 283.0,259.8 283.2,268.9 283.4,260.1 283.7,268.1 283.9,259.0 284.2,269.0 284.5,261.5 284.7,269.1 285.0,260.0 285.2,268.2 285.5,259.4 285.7,267.4 286.0,256.8 286.2,268.2 286.5,257.2 286.7,269.2 286.9,256.8 287.2,269.6 287.4,261.4 287.7,269.1 288.0,263.3 288.2,269.4 288.5,260.5 288.7,268.6 289.0,261.9 289.2,268.4 289.5,258.1 289.7,267.8 290.0,259.6 290.2,268.8 290.4,260.1 290.7,268.8 290.9,256.4 291.2,269.6 291.5,258.7 291.7,268.2 292.0,253.4 292.2,262.7 292.5,250.6 292.7,258.0 293.0,248.7 293.2,254.9 293.5,245.2 293.7,248.8 294.0,237.2 294.2,244.2 294.4,231.5 294.7,240.1 294.9,228.9 295.2,235.9 295.5,223.3 295.7,232.5 296.0,223.4 296.2,227.3 296.5,218.2 296.7,222.3 297.0,211.4 297.2,218.5 297.5,206.6 297.7,213.3 297.9,200.5 298.2,208.3 298.4,191.8 298.7,204.7 299.0,192.2 299.2,199.7 299.5,183.0 299.7,194.2 300.0,180.1 300.2,188.2 300.5,174.4 300.7,185.0 301.0,172.5 301.2,184.4 301.4,172.3 301.7,183.8 301.9,169.8 302.2,183.2 302.5,172.1 302.7,182.6 303.0,168.6 303.2,182.0 303.5,169.7 303.7,181.2 304.0,169.8 304.2,180.9 304.4,166.5 304.7,180.4 304.9,170.2 305.2,179.9 305.4,167.9 305.7,179.1 305.9,169.6 306.2,178.2 306.5,163.7 306.7,178.3 307.0,166.9 307.2,177.9 307.5,167.5 307.7,177.4 307.9,164.8 308.2,176.9 308.4,161.6 308.7,176.4 308.9,167.1 309.2,175.9 309.4,166.4 309.7,175.4 310.0,164.0 310.2,174.8 310.5,160.9 310.7,174.0 311.0,159.3 311.2,174.1 311.4,161.4 311.7,174.3 311.9,164.9 312.2,174.6 312.4,166.6 312.7,174.8 312.9,166.1 313.2,174.3 313.5,161.5 313.7,174.8 314.0,164.7 314.2,174.9 314.5,163.5 314.7,175.4 315.0,163.8 315.2,175.9 315.4,164.9 315.7,176.1 315.9,165.5 316.2,176.3 316.4,167.0 316.7,176.5 316.9,165.4 317.2,176.2 317.5,168.0 317.7,176.7 318.0,164.6 318.2,177.2 318.5,165.5 318.7,177.4 318.9,167.3 319.2,177.6 319.4,165.7 319.7,177.9 319.9,164.8 320.2,178.1 320.4,166.0 320.7,177.8 321.0,164.6 321.2,178.7 321.5,165.7 321.7,179.0 322.0,167.9 322.2,179.2 322.4,163.4 322.7,179.5 322.9,165.0 323.2,179.8 323.4,164.5 323.7,180.1 323.9,166.3 324.2,180.4 324.5,171.0 324.7,180.3 325.0,171.5 325.2,180.8 325.5,171.8 325.7,181.2 326.0,170.4 326.2,181.4 326.4,166.4 326.7,181.7 326.9,174.1 327.2,182.0 327.4,173.2 327.7,182.2 327.9,169.5 328.2,182.8 328.5,171.1 328.7,183.2 329.0,172.7 329.2,183.6 329.5,175.2 329.7,184.0 329.9,173.1 330.2,184.4 330.4,173.5 330.7,185.6 330.9,177.8 331.2,188.0 331.4,176.1 331.7,189.4 332.0,178.8 332.2,188.9 332.5,182.3 332.7,190.6 333.0,181.0 333.2,190.2 333.4,180.5 333.7,190.3 333.9,178.7 334.2,189.3 334.4,177.2 334.7,190.2 334.9,177.3 335.2,190.1 335.5,176.8 335.7,188.9 336.0,180.5 336.2,189.2 336.5,181.8 336.7,189.3 337.0,182.2 337.2,190.2 337.4,182.7 337.7,190.3 337.9,178.7 338.2,189.9 338.4,181.2 338.7,189.8 339.0,173.9 339.2,189.1 339.5,175.8 339.7,190.2 340.0,180.4 340.2,189.0 340.5,179.0 340.7,189.5 340.9,176.5 341.2,189.3 341.4,178.5 341.7,190.2 341.9,176.9 342.2,189.4 342.4,179.8 342.7,190.4 343.0,181.6 343.2,189.1 343.5,177.3 343.7,190.5 344.0,178.9 344.2,191.4 344.5,180.6 344.7,191.4 344.9,180.8 345.2,188.8 345.4,177.4 345.7,189.6 345.9,179.6 346.2,190.1 346.5,179.7 346.7,189.4 347.0,176.1 347.2,189.6 347.5,181.3 347.7,190.1 348.0,177.1 348.2,189.2 348.4,178.1 348.7,190.0 348.9,177.4 349.2,190.8 349.4,178.9 349.7,191.1 350.0,181.0 350.2,189.6 350.5,182.6 350.7,189.2 351.0,180.4 351.2,189.2 351.5,176.8 351.7,190.6 351.9,181.1 352.2,190.0 352.4,176.1 352.7,190.4 352.9,176.6 353.2,190.2 353.4,179.9 353.7,189.6 354.0,175.4 354.2,190.2 354.5,176.3 354.7,190.5 355.0,180.9 355.2,189.2 355.5,177.9 355.7,190.6 355.9,179.8 356.2,188.8 356.4,181.5 356.7,189.0 356.9,178.8 357.2,189.1 357.5,177.8 357.7,189.5 358.0,179.4 358.2,189.7 358.5,176.0 358.7,190.0 359.0,178.0 359.2,189.9 359.4,176.5 359.7,189.5 359.9,181.0 360.2,190.5 360.4,177.2 360.7,190.6 361.0,179.7 361.2,189.4 361.5,179.5 361.7,189.4 362.0,180.7 362.2,189.9 362.5,179.9 362.7,190.9 362.9,179.7 363.2,190.5 363.4,177.9 363.7,190.5 363.9,180.0 364.2,189.4 364.4,177.5 364.7,191.1 365.0,177.1 365.2,189.1 365.5,175.7 365.7,189.3 366.0,180.9 366.2,189.8 366.5,180.5 366.7,189.7 366.9,179.1 367.2,190.5 367.4,177.8 367.7,190.5 367.9,176.7 368.2,189.5 368.5,181.2 368.7,189.9 369.0,180.8 369.2,189.3 369.5,176.2 369.7,190.3 370.0,182.1 370.2,189.4 370.4,174.3 370.7,189.0 370.9,176.0 371.2,189.1 371.4,174.7 371.7,188.9 372.0,178.5 372.2,189.8 372.5,176.8 372.7,188.9 373.0,175.9 373.2,188.8 373.5,176.4 373.7,189.4 374.0,179.7 374.2,190.0 374.4,181.4 374.7,189.9 374.9,176.7 375.2,189.4 375.4,181.5 375.7,191.0 376.0,176.4 376.2,191.0 376.5,178.6 376.7,189.7 377.0,177.8 377.2,189.1 377.5,180.5 377.7,190.2 377.9,179.1 378.2,190.2 378.4,180.2 378.7,188.7 378.9,180.4 379.2,190.5 379.5,179.4 379.7,190.6 380.0,179.8 380.2,189.3 380.5,176.6 380.7,189.3 381.0,179.4 381.2,190.2 381.4,177.5 381.7,189.7 381.9,177.0 382.2,189.5 382.4,179.6 382.7,189.6 383.0,176.3 383.2,188.8 383.5,178.1 383.7,190.4 384.0,180.7 384.2,189.3 384.5,181.4 384.7,190.4 385.0,179.4 385.2,188.7 385.4,177.2 385.7,190.1 385.9,176.4 386.2,190.2 386.4,178.4 386.7,190.1 387.0,180.8 387.2,191.0 387.5,183.1 387.7,190.6 388.0,181.7 388.2,190.2 388.5,177.4 388.7,188.7 388.9,176.7 389.2,191.5 389.4,181.7 389.7,190.9 389.9,180.4 390.2,190.3 390.5,180.4 390.7,190.4 391.0,178.8 391.2,190.2 391.5,177.4 391.7,189.8 392.0,178.8 392.2,189.9 392.4,178.7 392.7,190.8 392.9,180.5 393.2,190.8 393.4,182.2 393.7,190.0 394.0,181.1 394.2,190.5 394.5,181.7 394.7,189.8 395.0,178.7 395.2,190.4 395.5,177.6 395.7,189.3 396.0,177.8 396.2,190.5 396.4,181.5 396.7,189.9 396.9,178.6 397.2,191.5 397.4,177.9 397.7,190.4 398.0,174.0 398.2,190.2 398.5,176.2 398.7,189.8 399.0,178.3 399.2,189.2 399.5,177.1 399.7,189.5 399.9,175.8 400.2,189.8 400.4,176.0 400.7,190.5 400.9,178.9 401.2,190.2 401.5,178.3 401.7,189.4 402.0,178.5 402.2,191.0 402.5,176.2 402.7,191.7 403.0,177.6 403.2,191.3 403.4,179.5 403.7,190.2 403.9,177.8 404.2,189.5 404.4,179.2 404.7,190.7 405.0,179.1 405.2,189.4 405.5,183.8 405.7,190.6 406.0,179.6 406.2,189.8 406.5,174.1 406.7,190.4 407.0,179.1 407.2,191.2 407.4,179.0 407.7,189.1 407.9,176.0 408.2,189.8 408.5,182.5 408.7,189.7 409.0,181.7 409.2,189.7 409.5,181.0 409.7,189.4 410.0,182.5 410.2,190.0 410.5,182.0 410.7,189.3 410.9,182.5 411.2,188.7 411.4,178.2 411.7,189.6 411.9,180.6 412.2,189.4 412.5,179.1 412.7,189.3 413.0,177.4 413.2,189.2 413.5,180.7 413.7,190.7 414.0,181.0 414.2,190.7 414.5,178.7 414.7,189.6 414.9,180.3 415.2,189.1 415.4,178.6 415.7,190.1 416.0,174.3 416.2,190.8 416.5,177.4 416.7,190.1 417.0,179.1 417.2,189.7 417.5,178.1 417.7,189.3 418.0,177.5 418.2,190.0 418.4,180.9 418.7,191.5 418.9,176.9 419.2,191.3 419.5,176.7 419.7,189.1 420.0,177.1 420.2,188.8 420.5,178.2 420.7,190.2 421.0,180.5 421.2,190.1 421.5,177.8 421.7,190.5 421.9,181.8 422.2,189.4 422.4,179.6 422.7,189.3 422.9,179.8 423.2,189.9 423.5,179.5 423.7,189.8 424.0,178.6 424.2,189.2 424.5,179.9 424.7,190.1 425.0,180.2 425.2,189.9 425.5,178.8 425.7,189.9 425.9,180.7 426.2,190.3 426.4,179.8 426.7,189.7 427.0,176.7 427.2,189.2 427.5,180.8 427.7,189.6 428.0,180.9 428.2,189.1 428.5,179.6 428.7,189.4 429.0,180.0 429.2,190.2 429.4,177.6 429.7,190.2 429.9,181.0 430.2,189.2 430.5,182.4 430.7,190.8 431.0,180.9 431.2,190.6 431.5,177.8 431.7,191.6 432.0,176.6 432.2,189.6 432.5,176.5 432.7,190.9 432.9,177.4 433.2,190.4 433.4,178.0 433.7,189.7 433.9,177.5 434.2,189.7 434.5,177.3 434.7,189.7 435.0,177.2 435.2,189.5 435.5,178.2 435.7,189.9 436.0,181.0 436.2,189.6 436.5,178.2 436.7,191.1 436.9,176.5 437.2,191.1 437.4,180.4 437.7,190.0 438.0,177.3 438.2,189.2 438.5,178.8 438.7,189.8 439.0,176.8 439.2,190.2 439.5,176.0 439.7,189.8 440.0,180.5 440.2,189.3 440.4,179.7 440.7,189.4 440.9,181.0 441.2,189.8 441.5,182.4 441.7,189.9 442.0,177.2 442.2,191.4 442.5,180.9 442.7,190.4 443.0,178.9 443.2,189.9 443.5,177.8 443.7,190.1 444.0,178.6 444.2,191.3 444.4,176.3 444.7,189.6 444.9,178.4 445.2,190.3 445.5,178.7 445.7,190.4 446.0,179.7 446.2,188.9 446.5,180.1 446.7,190.2 447.0,179.0 447.2,191.0 447.5,177.8 447.7,190.8 447.9,179.1 448.2,189.3 448.4,177.9 448.7,190.2 449.0,176.9 449.2,189.7 449.5,179.4 449.7,189.8 450.0,178.7 450.2,190.0 450.5,175.8 450.7,189.3 451.0,177.4 451.2,190.6 451.4,179.4 451.7,191.9 451.9,176.9 452.2,190.2 452.5,177.1 452.7,189.5 453.0,177.8 453.2,189.5 453.5,177.0 453.7,190.5 454.0,179.2 454.2,190.4 454.5,181.0 454.7,190.2 455.0,177.4 455.2,189.4 455.4,179.0 455.7,189.3 455.9,181.3 456.2,190.5 456.4,178.9 456.7,190.3 456.9,179.7 457.2,190.6 457.4,179.1 457.7,190.0 458.0,176.6 458.2,189.9 458.5,176.2 458.7,189.7 459.0,179.9 459.2,190.2 459.5,176.3 459.7,190.7 460.0,177.4 460.2,190.0 460.5,180.5 460.7,189.1 461.0,181.0 461.2,188.9 461.5,174.2 461.7,188.9 462.0,177.5 462.2,190.4 462.4,179.5 462.7,190.4 462.9,180.8 463.2,190.3 463.4,181.9 463.7,189.6 463.9,181.6 464.2,190.4 464.4,182.0 464.7,190.0 464.9,179.4 465.2,189.0 465.5,180.1 465.7,190.5 466.0,180.9 466.2,190.2 466.5,178.8 466.7,190.9 467.0,180.5 467.2,189.7 467.5,180.7 467.7,189.6 468.0,176.9 468.2,190.4 468.5,179.1 468.7,189.7 469.0,180.6 469.2,190.0 469.5,179.7 469.7,189.0 469.9,178.9 470.2,189.5 470.4,179.7 470.7,190.2 470.9,180.8 471.2,189.9 471.4,180.1 471.7,189.8 471.9,176.9 472.2,189.8 472.5,178.1 472.7,190.6 473.0,175.9 473.2,190.6 473.5,178.7 473.7,191.8 474.0,179.4 474.2,191.9 474.5,181.8 474.7,189.3 475.0,180.7 475.2,189.6 475.5,180.2 475.7,188.8 476.0,179.6 476.2,189.0 476.5,177.7 476.7,190.7 477.0,177.4 477.2,190.6 477.4,181.5 477.7,189.6 477.9,180.8 478.2,189.1 478.4,178.4 478.7,189.8 478.9,177.0 479.2,190.0 479.4,177.6 479.7,190.2 480.0,178.5 480.2,189.3 480.5,181.3 480.7,190.0 481.0,181.5 481.2,190.1 481.5,181.1 481.7,190.2 482.0,177.1 482.2,190.8 482.5,177.8 482.7,190.1 483.0,178.3 483.2,190.1 483.5,179.4 483.7,189.7 484.0,175.5 484.2,189.1 484.5,181.8 484.7,189.1 484.9,180.7 485.2,190.0 485.4,177.7 485.7,191.0 485.9,179.7 486.2,190.9 486.4,178.8 486.7,191.4 486.9,179.9 487.2,189.9 487.5,180.9 487.7,189.8 488.0,180.4 488.2,190.8 488.5,180.4 488.7,189.9 489.0,177.7 489.2,189.0 489.5,179.3 489.7,190.1 490.0,176.6 490.2,188.9 490.5,179.9 490.7,190.2 491.0,178.0 491.2,189.9 491.5,180.7 491.7,190.5 491.9,177.2 492.2,189.3 492.4,182.5 492.7,189.4 492.9,180.0 493.2,190.7 493.4,175.4 493.7,190.2 493.9,175.0 494.2,188.8 494.5,177.0 494.7,189.2 495.0,175.7 495.2,190.9 495.5,180.6 495.7,189.4 496.0,176.8 496.2,190.9 496.5,176.8 496.7,190.9 497.0,180.8 497.2,188.8 497.5,177.5 497.7,189.8 498.0,181.9 498.2,190.4 498.5,181.0 498.7,188.8 499.0,180.4 499.2,189.8 499.4,180.0 499.7,188.8 499.9,180.9 500.2,190.0 500.4,178.2 500.7,190.0 500.9,177.8 501.2,191.4 501.4,180.8 501.7,190.6 502.0,178.6 502.2,189.9 502.5,177.8 502.7,190.2 503.0,177.8 503.2,190.8 503.5,179.7 503.7,189.7 504.0,179.5 504.2,189.9 504.5,180.4 504.7,190.2 505.0,176.9 505.2,189.4 505.5,178.7 505.7,191.1 506.0,179.0 506.2,190.7 506.5,178.1 506.7,189.5 506.9,178.8 507.2,191.0 507.4,178.4 507.7,190.2 507.9,178.9 508.2,190.0 508.4,181.5 508.7,190.4 508.9,182.7 509.2,190.5 509.5,177.4 509.7,189.1 510.0,180.3 510.2,189.9 510.5,176.7 510.7,190.1 511.0,178.2 511.2,190.6 511.5,179.9 511.7,190.2 512.0,177.6 512.2,189.5 512.5,180.2 512.7,189.7 513.0,182.3 513.2,190.3 513.5,182.5 513.7,191.2 514.0,180.7 514.2,188.9 514.5,178.0 514.7,189.9 515.0,175.5 515.2,189.7 515.5,180.6 515.7,189.1 516.0,181.6 516.2,189.5 516.5,176.2 516.7,190.4 517.0,180.4 517.2,190.0 517.5,179.5 517.7,190.1 518.0,179.1 518.2,189.9 518.5,176.6 518.7,189.6 519.0,178.4 519.2,189.0 519.5,180.8 519.7,191.5 520.0,177.3 520.2,189.8 520.5,177.8 520.7,188.7 521.0,181.3 521.2,191.4 521.5,180.7 521.7,190.0 522.0,181.9 522.2,189.2 522.5,177.4 522.7,190.0 523.0,181.3 523.2,189.5 523.5,181.2 523.7,190.9 524.0,176.7 524.2,190.9 524.5,182.8 524.7,190.3 525.0,181.1 525.2,189.4 525.5,181.4 525.7,190.7 526.0,178.0 526.2,190.0 526.5,181.5 526.7,190.1 527.0,180.6 527.2,190.2 527.5,179.7 527.7,189.9 528.0,179.0 528.2,190.1 528.5,176.4 528.7,190.2 529.0,176.5 529.2,190.0 529.5,178.7 529.7,190.0 530.0,176.6 530.2,190.9 530.5,178.4 530.7,190.7 531.0,181.5 531.2,190.4 531.5,181.1 531.7,190.8 532.0,180.6 532.2,189.3 532.5,181.3 532.7,189.2 533.0,180.0 533.2,189.5 533.5,180.6 533.7,190.2 534.0,180.4 534.2,190.4 534.5,178.2 534.7,189.8 535.0,177.3 535.2,191.5 535.5,178.0 535.7,189.5 536.0,182.0 536.2,189.6"/>
<polyline class="ln" stroke="#0000ff" points="48.2,265.5 48.5,247.7 48.7,229.9 49.0,212.1 49.2,194.3 49.5,175.5 49.7,153.0 50.0,130.4 50.2,107.8 50.5,98.8 50.7,99.0 51.0,122.8 51.2,146.6 51.5,148.6 51.7,150.4 52.0,152.1 52.2,153.7 52.5,155.5 52.7,157.2 53.0,159.0 53.2,160.9 53.5,162.9 53.7,164.9 54.0,166.8 54.2,168.5 54.5,169.9 54.7,171.3 55.0,172.6 55.2,174.0 55.5,175.3 55.7,177.1 56.0,178.5 56.2,179.6 56.5,180.7 56.7,181.8 57.0,182.6 57.2,183.5 57.5,184.3 57.7,184.9 58.0,185.7 58.2,186.8 58.5,187.8 58.7,189.1 59.0,190.2 59.2,191.2 59.5,192.2 59.7,192.9 60.0,193.8 60.2,194.5 60.5,195.3 60.7,196.1 61.0,197.2 61.2,198.4 61.5,199.5 61.7,200.7 62.0,201.8 62.2,202.6 62.5,203.6 62.7,205.5 63.0,207.4 63.2,209.4 63.5,211.6 63.7,213.8 64.0,216.2 64.2,218.6 64.5,220.8 64.7,222.9 65.0,224.9 65.2,226.8 65.5,228.5 65.7,230.1 66.0,231.6 66.2,233.5 66.5,235.3 66.7,237.1 67.0,239.0 67.2,240.7 67.5,242.1 67.7,243.5 68.0,244.8 68.2,246.3 68.5,247.9 68.7,249.6 69.0,251.4 69.2,253.1 69.5,254.8 69.7,256.1 70.0,256.8 70.2,257.6 70.5,258.3 70.7,258.9 71.0,259.8 71.2,260.5 71.5,261.7 71.7,262.7 72.0,263.8 72.2,265.0 72.5,266.1 72.7,266.9 73.0,267.8 73.2,268.6 73.5,269.4 73.7,271.3 74.0,273.5 74.2,275.9 74.5,278.2 74.7,280.5 75.0,282.9 75.2,283.6 75.5,284.1 75.7,284.5 76.0,284.9 76.2,285.2 76.5,285.9 76.7,286.9 77.0,287.7 77.2,288.5 77.5,289.4 77.7,289.8 78.0,290.4 78.2,290.8 78.5,291.1 78.7,291.5 79.0,291.7 79.2,292.5 79.5,293.0 79.7,294.1 80.0,294.8 80.2,295.3 80.5,295.2 80.7,294.6 81.0,294.7 81.2,294.1 81.5,293.9 81.7,295.1 82.0,295.6 82.2,296.5 82.5,297.3 82.7,298.3 83.0,298.0 83.2,297.8 83.5,296.7 83.7,296.5 84.0,295.9 84.2,296.2 84.5,296.5 84.7,296.9 85.0,297.0 85.2,297.2 85.5,297.5 85.7,297.1 86.0,296.2 86.2,295.7 86.5,295.6 86.7,294.7 87.0,295.3 87.2,295.2 87.5,295.4 87.7,295.0 88.0,295.0 88.2,293.9 88.5,292.5 88.7,291.3 89.0,290.1 89.2,289.2 89.5,289.2 89.7,288.9 90.0,288.6 90.2,288.3 90.5,287.9 90.7,287.0 91.0,286.2 91.2,285.3 91.5,284.8 91.7,284.1 92.0,283.2 92.2,283.2 92.5,283.3 92.7,283.7 93.0,283.7 93.2,283.6 93.5,282.8 93.7,281.8 94.0,281.1 94.2,280.0 94.5,279.4 94.7,279.8 95.0,279.6 95.2,279.3 95.5,279.6 95.7,279.4 96.0,278.8 96.2,278.1 96.5,277.6 96.7,276.9 97.0,276.5 97.2,275.5 97.5,275.6 97.7,276.2 98.0,276.5 98.2,276.2 98.5,276.0 98.7,275.4 99.0,274.6 99.2,273.7 99.5,272.8 99.7,272.6 100.0,272.5 100.2,272.5 100.5,273.0 100.7,273.1 101.0,273.4 101.2,272.7 101.5,272.4 101.7,272.0 102.0,271.2 102.2,270.6 102.5,270.4 102.7,270.7 103.0,271.3 103.2,271.6 103.5,271.8 103.7,271.7 104.0,271.2 104.2,270.5 104.5,269.5 104.7,268.9 105.0,268.7 105.2,269.4 105.5,269.8 105.7,270.3 106.0,270.6 106.2,270.8 106.5,270.4 106.7,269.6 107.0,269.2 107.2,268.3 107.5,268.2 107.7,268.5 108.0,268.9 108.2,269.5 108.5,269.1 108.7,269.7 109.0,269.0 109.2,269.2 109.5,268.5 109.7,268.4 110.0,267.3 110.2,267.8 110.5,267.7 110.7,268.7 111.0,268.1 111.2,269.2 111.5,268.5 111.7,268.6 112.0,267.9 112.2,268.0 112.5,266.7 112.7,266.6 113.0,266.3 113.2,267.5 113.5,267.5 113.7,268.8 114.0,268.4 114.2,268.9 114.5,267.2 114.7,267.5 115.0,266.0 115.2,266.0 115.5,265.5 115.7,267.1 116.0,266.3 116.2,268.1 116.5,267.4 116.7,268.3 117.0,266.7 117.2,267.0 117.5,265.4 117.7,266.2 118.0,265.2 118.2,266.8 118.5,265.9 118.7,267.5 119.0,266.5 119.2,267.5 119.5,266.5 119.7,267.3 120.0,265.0 120.2,266.4 120.5,264.5 120.7,266.8 121.0,265.6 121.2,267.0 121.5,265.8 121.7,267.4 122.0,265.5 122.2,266.9 122.5,265.3 122.7,266.7 123.0,264.3 123.2,266.3 123.5,264.3 123.7,266.2 124.0,265.0 124.2,266.9 124.5,265.2 124.7,266.9 125.0,264.1 125.2,266.5 125.5,264.2 125.7,265.8 126.0,264.0 126.2,266.2 126.5,264.8 126.7,267.0 127.0,264.8 127.2,267.6 127.5,264.9 127.7,266.8 128.0,264.0 128.2,266.2 128.5,264.0 128.7,266.7 128.9,264.7 129.2,267.7 129.5,264.3 129.7,266.9 129.9,265.0 130.2,266.6 130.5,264.6 130.7,267.1 131.0,264.0 131.2,267.2 131.5,264.8 131.7,268.0 132.0,264.5 132.2,268.3 132.4,264.2 132.7,267.1 133.0,263.6 133.2,266.4 133.4,263.9 133.7,266.7 134.0,263.9 134.2,267.9 134.4,264.6 134.7,267.3 135.0,264.6 135.2,266.9 135.4,263.7 135.7,266.6 136.0,264.6 136.2,266.9 136.5,264.6 136.7,266.7 137.0,264.0 137.2,267.0 137.5,263.5 137.7,267.1 137.9,263.4 138.2,266.7 138.5,263.1 138.7,267.2 138.9,264.1 139.2,266.9 139.5,263.2 139.7,267.3 139.9,263.8 140.2,267.4 140.5,264.3 140.7,268.0 140.9,264.0 141.2,268.2 141.5,263.0 141.7,267.4 142.0,264.1 142.2,268.2 142.5,263.3 142.7,269.0 143.0,262.6 143.2,268.1 143.5,262.6 143.7,268.4 144.0,263.2 144.2,267.9 144.4,264.0 144.7,267.5 145.0,263.4 145.2,267.1 145.4,263.2 145.7,268.5 146.0,263.2 146.2,267.3 146.4,262.6 146.7,266.9 147.0,263.3 147.2,268.7 147.5,263.7 147.7,268.7 148.0,263.3 148.2,268.1 148.5,263.1 148.7,268.4 149.0,262.4 149.2,268.1 149.5,262.5 149.7,268.0 150.0,263.7 150.2,267.0 150.5,262.7 150.7,267.0 150.9,263.1 151.2,267.8 151.4,263.8 151.7,267.1 152.0,263.4 152.2,267.1 152.5,262.7 152.7,267.0 152.9,263.0 153.2,267.8 153.5,262.6 153.7,268.1 154.0,263.5 154.2,267.6 154.5,262.6 154.7,267.9 154.9,263.4 155.2,267.4 155.5,263.9 155.7,268.9 156.0,263.0 156.2,268.0 156.4,263.3 156.7,269.2 156.9,263.1 157.2,268.2 157.5,264.5 157.7,267.7 158.0,264.3 158.2,267.1 158.4,264.0 158.7,267.8 159.0,263.6 159.2,268.4 159.5,263.4 159.7,267.3 160.0,264.3 160.2,268.4 160.4,264.3 160.7,267.6 161.0,264.2 161.2,267.9 161.5,264.1 161.7,267.3 161.9,263.3 162.2,268.2 162.4,263.9 162.7,268.6 163.0,263.7 163.2,268.1 163.5,262.9 163.7,267.6 163.9,263.2 164.2,267.5 164.5,264.1 164.7,268.4 165.0,262.7 165.2,267.8 165.5,262.9 165.7,267.7 165.9,263.5 166.2,268.0 166.5,263.7 166.7,267.1 167.0,264.0 167.2,267.5 167.4,264.0 167.7,267.4 167.9,263.1 168.2,267.3 168.5,264.0 168.7,267.4 169.0,264.2 169.2,267.8 169.4,263.1 169.7,267.7 170.0,262.7 170.2,268.4 170.5,263.2 170.7,267.5 171.0,264.0 171.2,267.6 171.4,263.0 171.7,267.6 172.0,263.0 172.2,267.6 172.5,263.7 172.7,268.0 173.0,263.8 173.2,268.0 173.4,263.6 173.7,267.2 174.0,262.5 174.2,267.5 174.5,263.8 174.7,267.1 174.9,263.0 175.2,267.6 175.5,263.7 175.7,267.4 176.0,263.8 176.2,267.5 176.4,262.8 176.7,267.6 176.9,263.0 177.2,267.4 177.5,263.2 177.7,268.2 177.9,262.9 178.2,267.6 178.4,263.8 178.7,267.8 179.0,263.2 179.2,267.3 179.5,262.7 179.7,267.4 179.9,262.2 180.2,267.7 180.4,262.9 180.7,268.1 181.0,263.0 181.2,268.6 181.5,262.9 181.7,267.6 181.9,263.1 182.2,267.2 182.4,263.4 182.7,267.2 183.0,263.8 183.2,268.3 183.4,263.8 183.7,268.6 183.9,262.5 184.2,267.2 184.5,263.3 184.7,267.2 185.0,263.9 185.2,267.4 185.4,264.1 185.7,268.5 185.9,263.3 186.2,267.6 186.5,264.2 186.7,268.3 187.0,264.4 187.2,268.2 187.4,263.7 187.7,269.4 187.9,263.4 188.2,267.1 188.5,263.5 188.7,267.1 189.0,263.2 189.2,268.6 189.4,263.5 189.7,268.0 190.0,262.6 190.2,267.3 190.5,263.6 190.7,267.1 190.9,263.9 191.2,267.6 191.4,262.7 191.7,267.8 192.0,263.9 192.2,267.5 192.5,264.1 192.7,267.9 192.9,263.1 193.2,267.2 193.4,262.2 193.7,268.3 194.0,264.0 194.2,267.7 194.5,263.9 194.7,267.9 194.9,262.6 195.2,268.0 195.5,262.9 195.7,267.1 196.0,263.9 196.2,267.7 196.4,264.2 196.7,267.7 196.9,263.9 197.2,268.2 197.5,263.3 197.7,267.9 198.0,263.6 198.2,268.3 198.4,263.7 198.7,267.8 198.9,263.4 199.2,268.6 199.5,263.6 199.7,268.4 200.0,263.5 200.2,268.9 200.4,263.8 200.7,266.9 201.0,263.3 201.2,267.2 201.5,264.1 201.7,267.4 201.9,263.2 202.2,267.4 202.4,263.9 202.7,267.4 203.0,263.6 203.2,267.3 203.5,263.9 203.7,267.7 203.9,263.4 204.2,268.1 204.4,263.7 204.7,268.3 205.0,264.0 205.2,268.0 205.5,263.1 205.7,268.2 205.9,263.9 206.2,268.7 206.5,263.8 206.7,269.1 207.0,262.5 207.2,267.8 207.4,263.2 207.7,267.7 207.9,263.5 208.2,266.8 208.5,263.2 208.7,267.3 209.0,263.3 209.2,267.3 209.4,262.8 209.7,268.0 209.9,263.2 210.2,267.2 210.5,262.8 210.7,268.7 211.0,263.8 211.2,267.5 211.4,263.2 211.7,267.9 212.0,262.7 212.2,267.3 212.5,262.7 212.7,267.6 212.9,263.9 213.2,267.6 213.4,264.7 213.7,267.6 214.0,262.4 214.2,267.3 214.5,262.8 214.7,267.7 214.9,263.3 215.2,267.8 215.4,262.7 215.7,267.5 216.0,263.2 216.2,267.9 216.5,263.2 216.7,266.8 216.9,263.9 217.2,267.2 217.5,263.6 217.7,268.9 218.0,263.0 218.2,268.9 218.4,263.2 218.7,267.3 218.9,264.3 219.2,267.7 219.5,263.1 219.7,267.8 220.0,264.6 220.2,267.8 220.4,263.7 220.7,267.2 220.9,263.6 221.2,267.6 221.5,263.4 221.7,267.7 222.0,264.1 222.2,267.5 222.4,264.2 222.7,267.7 223.0,263.5 223.2,267.5 223.5,263.9 223.7,267.5 224.0,262.3 224.2,267.4 224.4,262.4 224.7,267.6 225.0,261.9 225.2,267.4 225.5,262.6 225.7,268.1 225.9,262.7 226.2,267.5 226.4,263.1 226.7,267.5 227.0,263.1 227.2,267.6 227.5,263.8 227.7,267.2 227.9,263.9 228.2,267.5 228.5,263.4 228.7,268.1 229.0,263.0 229.2,267.7 229.5,263.1 229.7,267.7 229.9,264.0 230.2,267.4 230.5,264.6 230.7,267.9 231.0,263.4 231.2,267.6 231.4,263.6 231.7,267.7 231.9,263.9 232.2,269.1 232.5,262.5 232.7,269.6 233.0,264.2 233.2,269.5 233.4,263.1 233.7,267.6 234.0,263.7 234.2,267.0 234.5,263.8 234.7,267.2 235.0,264.3 235.2,267.7 235.4,263.8 235.7,267.3 236.0,264.0 236.2,267.4 236.5,262.5 236.7,267.5 236.9,263.5 237.2,267.0 237.4,262.9 237.7,268.1 238.0,264.1 238.2,267.3 238.5,263.8 238.7,267.9 238.9,263.1 239.2,267.3 239.5,264.1 239.7,267.9 240.0,263.3 240.2,268.3 240.5,263.1 240.7,267.5 240.9,262.4 241.2,269.6 241.5,262.6 241.7,267.9 242.0,262.6 242.2,267.0 242.4,262.8 242.7,266.9 243.0,264.7 243.2,267.2 243.5,264.5 243.7,268.2 244.0,262.8 244.2,267.8 244.4,262.4 244.7,268.4 245.0,262.6 245.2,267.4 245.5,262.4 245.7,267.6 246.0,264.0 246.2,267.1 246.4,264.0 246.7,268.0 247.0,264.2 247.2,267.9 247.5,264.1 247.7,267.8 247.9,264.6 248.2,268.1 248.5,263.4 248.7,267.4 249.0,262.6 249.2,268.5 249.5,263.6 249.7,268.5 249.9,262.7 250.2,268.1 250.5,263.4 250.7,267.7 251.0,263.3 251.2,268.2 251.5,263.9 251.7,267.8 252.0,263.6 252.2,267.7 252.5,263.0 252.7,267.4 253.0,263.5 253.2,268.1 253.5,264.0 253.7,268.5 253.9,263.4 254.2,268.5 254.4,262.0 254.7,269.1 255.0,262.4 255.2,267.3 255.5,263.2 255.7,267.8 256.0,262.5 256.2,268.8 256.5,262.9 256.7,268.8 257.0,263.6 257.2,267.5 257.4,263.9 257.7,267.9 257.9,263.9 258.2,268.2 258.4,262.4 258.7,266.8 259.0,262.8 259.2,267.1 259.5,262.7 259.7,267.8 260.0,262.7 260.2,267.3 260.5,263.4 260.7,266.9 260.9,264.2 261.2,269.0 261.4,263.1 261.7,269.1 261.9,261.9 262.2,267.2 262.5,263.0 262.7,267.1 263.0,263.5 263.2,267.4 263.5,264.4 263.7,267.4 264.0,263.1 264.2,267.5 264.5,262.9 264.7,268.0 264.9,262.6 265.2,267.1 265.4,262.5 265.7,267.7 266.0,262.9 266.2,267.4 266.5,263.4 266.7,268.1 267.0,262.8 267.2,267.3 267.5,263.0 267.7,267.7 268.0,263.6 268.2,266.9 268.4,264.0 268.7,267.6 268.9,263.0 269.2,267.6 269.4,263.7 269.7,267.9 270.0,264.0 270.2,267.9 270.5,263.6 270.7,268.2 271.0,263.8 271.2,268.5 271.5,262.9 271.7,267.8 271.9,263.1 272.2,267.4 272.4,263.3 272.7,267.5 272.9,262.2 273.2,268.2 273.5,262.8 273.7,268.4 274.0,262.3 274.2,267.8 274.5,262.8 274.7,267.6 275.0,263.0 275.2,268.5 275.5,262.5 275.7,267.7 275.9,264.3 276.2,268.9 276.4,263.3 276.7,267.4 277.0,262.7 277.2,267.3 277.5,262.2 277.7,267.3 278.0,262.7 278.2,267.5 278.5,262.4 278.7,267.9 279.0,262.7 279.2,268.1 279.4,263.2 279.7,267.2 279.9,263.3 280.2,268.1 280.5,262.6 280.7,267.6 281.0,262.8 281.2,267.3 281.5,263.1 281.7,268.9 282.0,262.6 282.2,268.3 282.5,263.7 282.7,268.6 283.0,263.3 283.2,267.6 283.4,262.6 283.7,268.1 283.9,263.2 284.2,268.3 284.5,262.8 284.7,268.9 285.0,264.2 285.2,267.9 285.5,263.7 285.7,268.0 286.0,262.4 286.2,267.3 286.5,263.7 286.7,268.8 286.9,263.4 287.2,267.9 287.4,264.1 287.7,268.3 288.0,263.2 288.2,267.6 288.5,263.9 288.7,268.2 289.0,263.5 289.2,268.6 289.5,263.0 289.7,267.2 290.0,263.0 290.2,268.2 290.4,262.8 290.7,267.1 290.9,263.4 291.2,268.7 291.5,262.5 291.7,267.9 292.0,259.7 292.2,262.4 292.5,254.8 292.7,257.0 293.0,250.8 293.2,253.4 293.5,247.2 293.7,248.9 294.0,242.0 294.2,245.4 294.4,237.1 294.7,239.0 294.9,231.3 295.2,236.3 295.5,229.1 295.7,230.7 296.0,223.4 296.2,227.1 296.5,219.9 296.7,222.1 297.0,215.4 297.2,217.7 297.5,208.9 297.7,212.8 297.9,202.9 298.2,208.2 298.4,198.3 298.7,203.7 299.0,195.4 299.2,198.6 299.5,189.3 299.7,193.6 300.0,185.5 300.2,187.2 300.5,179.2 300.7,184.6 301.0,178.9 301.2,184.1 301.4,179.8 301.7,183.7 301.9,178.6 302.2,183.1 302.5,177.8 302.7,182.5 303.0,177.1 303.2,181.7 303.5,177.5 303.7,180.8 304.0,176.3 304.2,180.6 304.4,176.7 304.7,179.7 304.9,175.3 305.2,179.7 305.4,175.9 305.7,179.0 305.9,175.2 306.2,178.2 306.5,174.8 306.7,178.1 307.0,174.8 307.2,177.9 307.5,174.4 307.7,177.5 307.9,172.2 308.2,176.7 308.4,172.9 308.7,176.1 308.9,171.3 309.2,176.0 309.4,170.7 309.7,175.0 310.0,169.7 310.2,175.2 310.5,170.3 310.7,175.2 311.0,172.3 311.2,175.4 311.4,171.5 311.7,175.6 311.9,171.9 312.2,176.1 312.4,171.5 312.7,176.3 312.9,170.5 313.2,176.7 313.5,172.3 313.7,177.0 314.0,173.7 314.2,177.1 314.5,173.9 314.7,177.9 315.0,174.3 315.2,178.9 315.4,174.1 315.7,179.7 315.9,176.5 316.2,180.3 316.4,176.8 316.7,180.4 316.9,176.4 317.2,181.3 317.5,175.9 317.7,181.8 318.0,178.4 318.2,182.5 318.5,178.2 318.7,182.5 318.9,176.0 319.2,182.6 319.4,178.5 319.7,182.3 319.9,179.3 320.2,182.4 320.4,179.0 320.7,182.9 321.0,178.7 321.2,182.3 321.5,178.1 321.7,183.0 322.0,177.5 322.2,183.1 322.4,178.4 322.7,183.2 322.9,178.5 323.2,182.8 323.4,178.6 323.7,183.4 323.9,179.7 324.2,183.3 324.5,179.6 324.7,183.6 325.0,179.2 325.2,183.7 325.5,179.1 325.7,183.8 326.0,178.0 326.2,184.0 326.4,179.6 326.7,183.6 326.9,176.4 327.2,184.0 327.4,178.4 327.7,183.7 327.9,177.5 328.2,184.1 328.5,179.5 328.7,184.4 329.0,179.6 329.2,184.9 329.5,179.7 329.7,185.1 329.9,180.3 330.2,184.4 330.4,178.5 330.7,186.2 330.9,181.8 331.2,187.5 331.4,183.8 331.7,189.4 332.0,183.7 332.2,188.5 332.5,182.9 332.7,189.5 333.0,183.2 333.2,189.6 333.4,182.7 333.7,189.9 333.9,182.9 334.2,188.5 334.4,182.9 334.7,189.5 334.9,181.1 335.2,189.1 335.5,179.1 335.7,189.0 336.0,181.7 336.2,189.2 336.5,179.4 336.7,188.7 337.0,181.1 337.2,189.3 337.4,182.2 337.7,190.1 337.9,183.0 338.2,190.0 338.4,182.8 338.7,189.4 339.0,179.3 339.2,189.1 339.5,182.4 339.7,189.3 340.0,183.3 340.2,188.8 340.5,182.9 340.7,188.8 340.9,183.6 341.2,190.3 341.4,182.5 341.7,188.7 341.9,182.7 342.2,188.6 342.4,183.2 342.7,189.9 343.0,184.4 343.2,189.9 343.5,182.4 343.7,189.3 344.0,181.2 344.2,190.1 344.5,182.8 344.7,190.4 344.9,182.4 345.2,188.3 345.4,183.4 345.7,189.0 345.9,183.5 346.2,188.7 346.5,182.0 346.7,189.3 347.0,183.3 347.2,189.3 347.5,182.5 347.7,189.8 348.0,182.8 348.2,189.8 348.4,182.2 348.7,189.6 348.9,181.4 349.2,190.3 349.4,183.4 349.7,189.6 350.0,182.5 350.2,189.2 350.5,182.4 350.7,188.2 351.0,181.8 351.2,188.4 351.5,184.4 351.7,189.4 351.9,181.1 352.2,188.2 352.4,183.8 352.7,189.9 352.9,183.7 353.2,189.2 353.4,183.3 353.7,188.9 354.0,183.7 354.2,189.4 354.5,184.2 354.7,188.7 355.0,181.2 355.2,189.1 355.5,183.6 355.7,189.6 355.9,184.3 356.2,188.3 356.4,183.3 356.7,188.5 356.9,183.4 357.2,189.3 357.5,181.4 357.7,189.4 358.0,183.0 358.2,189.1 358.5,183.1 358.7,189.7 359.0,183.4 359.2,189.0 359.4,182.3 359.7,188.5 359.9,181.7 360.2,189.3 360.4,182.0 360.7,188.7 361.0,182.7 361.2,189.3 361.5,182.5 361.7,188.5 362.0,182.3 362.2,188.8 362.5,180.5 362.7,189.2 362.9,182.8 363.2,189.7 363.4,180.4 363.7,189.4 363.9,183.1 364.2,189.5 364.4,181.9 364.7,188.4 365.0,182.9 365.2,188.5 365.5,183.4 365.7,189.2 366.0,182.3 366.2,189.9 366.5,183.3 366.7,189.0 366.9,182.0 367.2,189.3 367.4,182.4 367.7,188.9 367.9,182.5 368.2,189.0 368.5,180.7 368.7,189.2 369.0,183.1 369.2,189.3 369.5,180.9 369.7,189.2 370.0,181.7 370.2,188.8 370.4,181.9 370.7,189.3 370.9,183.4 371.2,188.3 371.4,183.5 371.7,189.3 372.0,183.6 372.2,189.0 372.5,183.3 372.7,189.5 373.0,182.9 373.2,188.9 373.5,182.6 373.7,190.5 374.0,182.0 374.2,189.5 374.4,183.2 374.7,189.3 374.9,183.5 375.2,189.4 375.4,181.1 375.7,189.2 376.0,181.1 376.2,189.3 376.5,179.9 376.7,190.1 377.0,183.9 377.2,188.7 377.5,182.8 377.7,189.0 377.9,182.8 378.2,189.3 378.4,184.6 378.7,189.8 378.9,183.7 379.2,189.2 379.5,181.7 379.7,189.2 380.0,182.3 380.2,189.0 380.5,183.2 380.7,189.9 381.0,184.0 381.2,189.9 381.4,182.9 381.7,189.3 381.9,182.0 382.2,189.1 382.4,182.3 382.7,189.4 383.0,181.8 383.2,189.0 383.5,180.9 383.7,188.8 384.0,181.0 384.2,189.9 384.5,181.7 384.7,190.1 385.0,181.9 385.2,189.5 385.4,181.8 385.7,188.9 385.9,181.5 386.2,188.8 386.4,182.1 386.7,188.7 387.0,182.8 387.2,189.8 387.5,183.7 387.7,189.4 388.0,184.0 388.2,189.0 388.5,183.7 388.7,188.8 388.9,183.0 389.2,190.1 389.4,183.2 389.7,188.8 389.9,183.8 390.2,189.5 390.5,184.2 390.7,189.9 391.0,181.2 391.2,189.3 391.5,180.9 391.7,189.2 392.0,182.3 392.2,189.3 392.4,183.8 392.7,188.7 392.9,180.4 393.2,189.6 393.4,181.0 393.7,188.6 394.0,182.2 394.2,188.6 394.5,181.9 394.7,189.2 395.0,183.1 395.2,190.2 395.5,183.4 395.7,189.7 396.0,183.1 396.2,188.8 396.4,183.9 396.7,188.7 396.9,182.5 397.2,189.9 397.4,182.6 397.7,189.1 398.0,183.5 398.2,189.5 398.5,183.2 398.7,188.2 399.0,183.2 399.2,189.0 399.5,182.9 399.7,189.5 399.9,179.8 400.2,190.2 400.4,184.4 400.7,189.4 400.9,184.5 401.2,189.4 401.5,182.5 401.7,190.5 402.0,183.4 402.2,189.5 402.5,182.6 402.7,190.8 403.0,184.2 403.2,189.4 403.4,180.8 403.7,189.6 403.9,182.9 404.2,189.6 404.4,183.6 404.7,190.4 405.0,182.0 405.2,189.4 405.5,183.6 405.7,188.8 406.0,183.4 406.2,189.2 406.5,183.1 406.7,188.7 407.0,182.6 407.2,189.8 407.4,181.3 407.7,189.1 407.9,182.5 408.2,189.5 408.5,183.8 408.7,189.7 409.0,182.6 409.2,189.7 409.5,183.6 409.7,188.4 410.0,181.4 410.2,188.2 410.5,181.7 410.7,189.1 410.9,183.1 411.2,188.8 411.4,183.1 411.7,189.3 411.9,183.8 412.2,189.6 412.5,183.4 412.7,189.6 413.0,183.7 413.2,189.4 413.5,183.8 413.7,189.2 414.0,182.9 414.2,189.5 414.5,181.7 414.7,188.8 414.9,181.4 415.2,189.1 415.4,181.7 415.7,189.2 416.0,181.9 416.2,189.1 416.5,180.8 416.7,189.1 417.0,182.6 417.2,189.3 417.5,182.6 417.7,188.9 418.0,181.8 418.2,189.1 418.4,182.4 418.7,189.8 418.9,180.9 419.2,189.0 419.5,182.7 419.7,189.0 420.0,181.4 420.2,189.2 420.5,183.5 420.7,189.0 421.0,181.6 421.2,189.2 421.5,183.0 421.7,188.8 421.9,182.7 422.2,189.9 422.4,181.9 422.7,189.6 422.9,183.6 423.2,189.7 423.5,182.5 423.7,189.7 424.0,184.4 424.2,189.1 424.5,183.5 424.7,188.9 425.0,185.0 425.2,189.6 425.5,182.6 425.7,188.7 425.9,182.3 426.2,189.4 426.4,184.2 426.7,189.3 427.0,180.9 427.2,189.1 427.5,182.4 427.7,189.7 428.0,182.4 428.2,188.7 428.5,181.6 428.7,190.0 429.0,181.4 429.2,189.7 429.4,182.8 429.7,189.4 429.9,183.2 430.2,188.3 430.5,181.5 430.7,188.5 431.0,183.1 431.2,189.4 431.5,183.5 431.7,190.0 432.0,183.8 432.2,189.3 432.5,181.3 432.7,189.3 432.9,184.2 433.2,189.9 433.4,183.2 433.7,189.8 433.9,183.1 434.2,188.7 434.5,183.9 434.7,188.5 435.0,184.2 435.2,189.3 435.5,183.5 435.7,189.6 436.0,181.9 436.2,189.4 436.5,181.3 436.7,190.2 436.9,182.2 437.2,190.3 437.4,183.5 437.7,189.4 438.0,183.1 438.2,188.9 438.5,183.8 438.7,189.4 439.0,183.0 439.2,188.5 439.5,183.8 439.7,188.6 440.0,181.7 440.2,189.4 440.4,181.3 440.7,189.4 440.9,182.2 441.2,189.1 441.5,182.9 441.7,188.3 442.0,183.3 442.2,190.2 442.5,182.2 442.7,189.6 443.0,182.7 443.2,189.0 443.5,181.0 443.7,189.2 444.0,181.0 444.2,190.8 444.4,183.1 444.7,188.6 444.9,182.2 445.2,189.4 445.5,181.9 445.7,188.7 446.0,183.9 446.2,188.5 446.5,183.8 446.7,189.0 447.0,184.5 447.2,190.2 447.5,183.6 447.7,188.9 447.9,183.1 448.2,189.3 448.4,182.2 448.7,188.3 449.0,181.4 449.2,189.3 449.5,181.7 449.7,190.4 450.0,181.3 450.2,189.0 450.5,181.5 450.7,189.5 451.0,183.2 451.2,190.2 451.4,182.8 451.7,190.0 451.9,184.2 452.2,189.3 452.5,184.7 452.7,188.3 453.0,182.3 453.2,188.3 453.5,183.7 453.7,189.2 454.0,181.5 454.2,189.2 454.5,181.1 454.7,189.4 455.0,182.5 455.2,189.9 455.4,181.7 455.7,189.0 455.9,182.4 456.2,189.6 456.4,180.8 456.7,190.0 456.9,180.9 457.2,189.7 457.4,183.5 457.7,189.6 458.0,183.4 458.2,188.9 458.5,182.6 458.7,188.9 459.0,184.5 459.2,189.0 459.5,183.8 459.7,190.1 460.0,181.4 460.2,188.8 460.5,182.1 460.7,189.0 461.0,180.9 461.2,189.6 461.5,182.8 461.7,189.6 462.0,181.8 462.2,188.6 462.4,181.8 462.7,189.3 462.9,182.2 463.2,190.2 463.4,182.7 463.7,189.6 463.9,181.3 464.2,189.2 464.4,183.6 464.7,189.1 464.9,182.3 465.2,188.9 465.5,181.6 465.7,189.4 466.0,182.8 466.2,189.5 466.5,183.1 466.7,188.8 467.0,181.1 467.2,189.1 467.5,182.2 467.7,189.2 468.0,182.3 468.2,188.2 468.5,183.3 468.7,188.4 469.0,183.4 469.2,188.8 469.5,181.9 469.7,188.8 469.9,181.4 470.2,189.5 470.4,183.2 470.7,189.6 470.9,182.1 471.2,188.8 471.4,182.9 471.7,190.2 471.9,182.1 472.2,189.3 472.5,183.4 472.7,188.8 473.0,182.3 473.2,189.6 473.5,182.4 473.7,191.0 474.0,183.1 474.2,191.0 474.5,181.7 474.7,188.3 475.0,180.1 475.2,188.6 475.5,181.8 475.7,188.8 476.0,182.8 476.2,189.6 476.5,183.7 476.7,188.9 477.0,182.3 477.2,188.7 477.4,180.0 477.7,189.1 477.9,182.9 478.2,188.8 478.4,184.6 478.7,189.4 478.9,183.7 479.2,188.8 479.4,183.5 479.7,189.3 480.0,183.9 480.2,189.9 480.5,182.4 480.7,189.9 481.0,183.4 481.2,189.2 481.5,182.7 481.7,189.4 482.0,180.4 482.2,190.4 482.5,179.6 482.7,189.0 483.0,182.0 483.2,189.2 483.5,182.2 483.7,188.7 484.0,183.9 484.2,189.1 484.5,183.9 484.7,189.5 484.9,182.7 485.2,189.7 485.4,183.9 485.7,189.4 485.9,182.4 486.2,190.1 486.4,183.5 486.7,189.9 486.9,181.4 487.2,188.3 487.5,182.4 487.7,188.9 488.0,183.5 488.2,189.4 488.5,182.0 488.7,188.8 489.0,182.6 489.2,189.9 489.5,184.3 489.7,188.3 490.0,184.8 490.2,188.5 490.5,180.6 490.7,188.8 491.0,182.9 491.2,189.9 491.5,184.6 491.7,189.4 491.9,182.9 492.2,188.3 492.4,184.2 492.7,189.4 492.9,183.0 493.2,188.5 493.4,181.7 493.7,189.5 493.9,181.6 494.2,188.6 494.5,182.3 494.7,189.2 495.0,182.0 495.2,188.6 495.5,182.4 495.7,189.1 496.0,182.2 496.2,190.0 496.5,183.5 496.7,188.7 497.0,181.3 497.2,188.6 497.5,182.3 497.7,189.0 498.0,182.1 498.2,189.4 498.5,182.0 498.7,189.7 499.0,182.3 499.2,189.8 499.4,181.7 499.7,189.0 499.9,182.7 500.2,188.7 500.4,183.7 500.7,189.4 500.9,182.7 501.2,189.1 501.4,182.7 501.7,189.2 502.0,181.4 502.2,189.2 502.5,182.9 502.7,188.6 503.0,182.3 503.2,189.9 503.5,180.7 503.7,189.4 504.0,182.8 504.2,189.2 504.5,184.0 504.7,189.2 505.0,181.3 505.2,188.7 505.5,182.7 505.7,189.8 506.0,183.2 506.2,189.8 506.5,181.4 506.7,189.1 506.9,182.2 507.2,189.9 507.4,184.6 507.7,188.9 507.9,183.0 508.2,188.5 508.4,182.2 508.7,189.4 508.9,183.5 509.2,188.7 509.5,180.1 509.7,189.2 510.0,182.9 510.2,190.0 510.5,182.2 510.7,189.1 511.0,183.2 511.2,188.4 511.5,184.4 511.7,188.8 512.0,184.1 512.2,189.9 512.5,184.2 512.7,188.4 513.0,183.8 513.2,189.9 513.5,182.4 513.7,189.1 514.0,182.2 514.2,189.8 514.5,180.6 514.7,189.8 515.0,183.6 515.2,190.3 515.5,182.5 515.7,189.8 516.0,181.7 516.2,188.9 516.5,180.9 516.7,189.4 517.0,184.1 517.2,189.4 517.5,183.0 517.7,188.9 518.0,182.0 518.2,188.8 518.5,181.3 518.7,189.4 519.0,181.3 519.2,189.1 519.5,182.0 519.7,190.1 520.0,182.4 520.2,189.5 520.5,184.3 520.7,188.8 521.0,183.4 521.2,190.3 521.5,184.2 521.7,190.0 522.0,183.4 522.2,189.5 522.5,182.1 522.7,189.5 523.0,183.7 523.2,189.7 523.5,181.9 523.7,189.9 524.0,183.4 524.2,190.0 524.5,182.6 524.7,189.2 525.0,181.8 525.2,189.1 525.5,183.1 525.7,189.2 526.0,183.6 526.2,188.8 526.5,182.5 526.7,188.9 527.0,182.3 527.2,189.2 527.5,183.4 527.7,188.4 528.0,182.7 528.2,189.3 528.5,181.4 528.7,188.5 529.0,182.2 529.2,188.9 529.5,183.1 529.7,189.1 530.0,181.8 530.2,189.0 530.5,183.7 530.7,189.3 531.0,180.4 531.2,189.5 531.5,182.6 531.7,189.9 532.0,181.9 532.2,190.2 532.5,180.5 532.7,189.4 533.0,183.4 533.2,188.6 533.5,184.1 533.7,190.1 534.0,184.8 534.2,189.3 534.5,183.0 534.7,189.4 535.0,183.2 535.2,189.3 535.5,180.2 535.7,189.3 536.0,181.5 536.2,189.2"/>
<text x="48.2" y="448.3" text-anchor="middle">0</text>
<text x="129.5" y="448.3" text-anchor="middle">0.1</text>
<text x="210.9" y="448.3" text-anchor="middle">0.2</text>
<text x="292.2" y="448.3" text-anchor="middle">0.3</text>
<text x="373.5" y="448.3" text-anchor="middle">0.4</text>
<text x="454.9" y="448.3" text-anchor="middle">0.5</text>
<text x="536.2" y="448.3" text-anchor="middle">0.6</text>
<text x="41.8" y="35.1" text-anchor="end">6</text>
<text x="41.8" y="114.4" text-anchor="end">4</text>
<text x="41.8" y="193.7" text-anchor="end">2</text>
<text x="41.8" y="272.9" text-anchor="end">0</text>
<text x="41.8" y="352.2" text-anchor="end">-2</text>
<text x="41.8" y="431.5" text-anchor="end">-4</text>
<text x="293" y="472.2" text-anchor="middle">Time/s</text>
<text transform="translate(17.4 226.8) rotate(-90)" text-anchor="middle">Torque/(N·m)</text>
<line x1="352" x2="397.2" y1="10.2" y2="10.2" stroke="#000" stroke-width="3.0"/>
<text x="400.9" y="16.9">Reference</text>
<line x1="352" x2="397.2" y1="31.1" y2="31.1" stroke="#ff0000" stroke-width="1.2"/>
<text x="400.9" y="37.8">fuzzy PI</text>
<line x1="352" x2="397.2" y1="51.9" y2="51.9" stroke="#ffff00" stroke-width="1.2"/>
<text x="400.9" y="58.6">ADRC-GA</text>
<line x1="352" x2="397.2" y1="72.8" y2="72.8" stroke="#00ff00" stroke-width="1.2"/>
<text x="400.9" y="79.5">NADRC-IMFO</text>
<line x1="352" x2="397.2" y1="93.6" y2="93.6" stroke="#0000ff" stroke-width="1.2"/>
<text x="400.9" y="100.3">NewADRC-IMA</text>
<clipPath id="ic"><rect x="312.7" y="283.5" width="220.6" height="96.4"/></clipPath>
<rect x="312.7" y="283.5" width="220.6" height="96.4" fill="#fff"/>
<g clip-path="url(#ic)">
<line x1="335.5" x2="342.5" y1="337.1" y2="337.1" stroke="#000" stroke-width="3"/><line x1="356.0" x2="366.0" y1="337.1" y2="337.1" stroke="#000" stroke-width="3"/>
<polyline class="ln" stroke="#ff0000" points="311.7,343.1 312.0,301.8 312.4,342.4 312.7,298.4 313.0,341.8 313.4,292.2 313.7,342.9 314.0,292.1 314.4,360.6 314.7,299.6 315.0,353.2 315.4,296.5 315.7,341.5 316.0,290.9 316.4,341.4 316.7,291.2 317.0,342.0 317.4,299.6 317.7,343.4 318.0,297.1 318.4,341.2 318.7,295.4 319.0,343.0 319.4,291.4 319.7,341.4 320.0,291.9 320.4,340.5 320.7,292.9 321.0,343.3 321.4,295.5 321.7,343.0 322.0,298.6 322.4,342.6 322.7,299.5 323.0,344.3 323.4,296.5 323.7,343.3 324.0,297.9 324.4,342.4 324.7,302.2 325.0,345.7 325.4,308.5 325.7,346.0 326.0,308.4 326.4,345.4 326.7,312.4 327.0,346.6 327.4,309.0 327.7,345.1 328.0,312.3 328.4,346.0 328.7,313.3 329.0,347.4 329.4,318.8 329.7,347.5 330.0,318.9 330.4,347.4 330.7,322.2 331.0,348.7 331.4,321.4 331.7,348.5 332.0,325.0 332.4,348.7 332.7,326.4 333.0,349.1 333.4,327.8 333.7,349.8 334.0,331.4 334.4,352.7 334.7,332.7 335.0,355.1 335.4,334.7 335.7,365.2 336.0,336.3 336.4,356.0 336.7,339.6 337.0,352.5 337.4,336.9 337.7,320.8 338.0,307.7 338.4,324.3 338.7,341.0 339.0,359.7 339.4,341.0 339.7,357.8 340.0,342.4 340.4,360.3 340.7,343.3 341.0,363.8 341.4,342.4 341.7,376.7 342.0,339.1 342.4,354.4 342.7,333.7 343.0,349.9 343.4,302.0 343.7,345.1 344.0,297.4 344.4,343.9 344.7,298.9 345.0,341.9 345.4,298.8 345.7,342.1 346.0,293.4 346.4,341.9 346.7,293.9 347.0,341.1 347.4,290.8 347.7,340.7 348.0,285.0 348.4,339.5 348.7,286.6 349.0,339.8 349.4,282.6 349.7,340.0 350.0,286.2 350.4,339.0 350.7,296.5 351.0,341.4 351.4,297.4 351.7,343.3 352.0,298.2 352.4,358.8 352.7,299.4 353.0,347.4 353.4,303.7 353.7,344.8 354.0,307.6 354.4,344.3 354.7,312.5 355.0,345.7 355.4,313.9 355.7,346.8 356.0,318.2 356.4,346.5 356.7,319.5 357.0,348.1 357.4,321.9 357.7,348.4 358.0,323.7 358.4,348.2 358.7,324.6 359.0,348.8 359.4,325.9 359.7,350.0 360.0,330.5 360.4,350.4 360.7,333.5 361.0,364.0 361.4,336.6 361.7,366.8 362.0,339.2 362.4,357.3 362.7,339.9 363.0,357.6 363.4,341.0 363.7,363.9 364.0,340.6 364.4,362.7 364.7,341.9 365.0,326.9 365.4,308.9 365.7,312.5 366.0,330.5 366.4,348.8 366.7,342.9 367.0,362.4 367.4,342.0 367.7,375.0 368.0,340.8 368.4,359.5 368.7,340.9 369.0,360.2 369.4,341.7 369.7,359.9 370.0,343.0 370.4,359.3 370.7,342.3 371.0,331.0 371.4,306.7 371.7,282.4 372.0,305.2 372.4,326.7 372.7,332.8 373.0,351.3 373.4,317.3 373.7,348.0 374.0,310.1 374.4,346.7 374.7,306.8 375.0,346.3 375.4,312.0 375.7,347.7 376.0,312.1 376.4,345.9 376.7,310.9 377.0,346.7 377.4,311.9 377.7,347.7 378.0,315.9 378.4,346.9 378.7,316.5 379.0,348.3 379.4,316.8 379.7,348.5 380.0,318.3 380.4,348.0 380.7,316.3 381.0,346.9 381.4,316.9 381.7,348.6 382.0,321.2 382.4,347.9 382.7,320.5 383.0,349.4 383.4,322.9 383.7,349.0 384.0,323.9 384.4,349.7 384.7,328.7 385.0,351.9 385.4,329.9 385.7,351.8 386.0,328.5 386.4,351.1 386.7,331.2 387.0,350.4 387.4,330.4 387.7,350.4 388.0,331.2 388.4,352.2 388.7,333.5 389.0,351.7 389.4,335.1 389.7,353.6 390.0,334.7 390.4,354.1 390.7,335.6 391.0,372.1 391.4,337.8 391.7,361.8 392.0,321.2 392.4,304.5 392.7,318.6 393.0,336.1 393.4,341.8 393.7,357.4 394.0,340.2 394.4,356.9 394.7,340.8 395.0,355.2 395.4,335.0 395.7,351.0 396.0,332.3 396.4,349.4 396.7,312.0 397.0,347.8 397.4,307.5 397.7,344.5 398.0,306.0 398.4,343.6 398.7,301.7 399.0,343.8 399.4,303.3 399.7,343.6 400.0,302.5 400.4,342.2 400.7,301.4 401.0,341.8 401.4,304.9 401.7,342.0 402.0,302.1 402.4,343.1 402.7,293.9 403.0,340.6 403.4,291.0 403.7,341.3 404.0,287.7 404.4,340.4 404.7,292.0 405.0,340.7 405.4,304.0 405.7,344.5 406.0,306.6 406.4,344.4 406.7,300.9 407.0,343.0 407.4,303.2 407.7,343.3 408.0,304.9 408.4,344.8 408.7,309.8 409.0,357.8 409.4,314.2 409.7,346.2 410.0,315.8 410.4,345.4 410.7,320.2 411.0,347.5 411.4,321.3 411.7,346.7 412.0,320.3 412.4,345.5 412.7,321.3 413.0,347.8 413.4,323.8 413.7,354.9 414.0,326.5 414.4,353.6 414.7,325.4 415.0,349.7 415.4,328.5 415.7,350.4 416.0,328.6 416.4,348.8 416.7,330.1 417.0,347.6 417.4,328.1 417.7,348.9 418.0,330.8 418.4,353.0 418.7,335.5 419.0,352.0 419.4,336.9 419.7,323.1 420.0,304.0 420.4,304.1 420.7,323.9 421.0,358.9 421.4,335.0 421.7,365.1 422.0,331.8 422.4,345.7 422.7,300.8 423.0,343.3 423.4,297.4 423.7,339.3 424.0,297.8 424.4,339.5 424.7,292.0 425.0,339.8 425.4,296.9 425.7,339.4 426.0,288.4 426.4,339.1 426.7,284.6 427.0,337.8 427.4,289.7 427.7,337.8 428.0,286.9 428.4,338.3 428.7,285.8 429.0,338.7 429.4,291.5 429.7,337.8 430.0,293.5 430.4,338.4 430.7,296.5 431.0,339.7 431.4,294.3 431.7,339.6 432.0,299.9 432.4,341.9 432.7,299.8 433.0,357.6 433.4,303.3 433.7,341.7 434.0,303.4 434.4,340.7 434.7,305.0 435.0,341.6 435.4,311.1 435.7,342.2 436.0,310.4 436.4,344.0 436.7,312.2 437.0,344.5 437.4,316.0 437.7,343.8 438.0,320.7 438.4,346.1 438.7,320.4 439.0,344.7 439.4,319.5 439.7,353.9 440.0,320.4 440.4,352.0 440.7,319.8 441.0,345.9 441.4,322.3 441.7,347.3 442.0,327.2 442.4,348.1 442.7,327.8 443.0,347.9 443.4,326.1 443.7,348.0 444.0,327.5 444.4,349.2 444.7,330.5 445.0,349.0 445.4,332.7 445.7,352.5 446.0,334.1 446.4,318.2 446.7,301.7 447.0,358.6 447.4,334.7 447.7,373.5 448.0,337.8 448.4,354.3 448.7,338.1 449.0,353.4 449.4,336.2 449.7,354.0 450.0,335.7 450.4,377.6 450.7,335.8 451.0,354.8 451.4,331.5 451.7,346.9 452.0,307.7 452.4,344.8 452.7,305.1 453.0,342.3 453.4,297.3 453.7,339.2 454.0,293.2 454.4,339.3 454.7,298.1 455.0,340.9 455.4,297.7 455.7,340.3 456.0,302.9 456.4,340.9 456.7,307.3 457.0,342.5 457.4,308.2 457.7,341.6 458.0,311.3 458.4,343.6 458.7,311.2 459.0,355.7 459.4,313.3 459.7,343.7 460.0,318.7 460.4,346.0 460.7,319.5 461.0,345.4 461.4,317.7 461.7,346.2 462.0,322.4 462.4,345.8 462.7,325.5 463.0,347.9 463.4,328.4 463.7,349.2 464.0,328.1 464.4,349.0 464.7,331.8 465.0,349.8 465.4,330.6 465.7,347.6 466.0,328.5 466.4,347.0 466.7,314.7 467.0,346.4 467.4,307.7 467.7,342.5 468.0,299.2 468.4,342.3 468.7,301.3 469.0,342.5 469.4,307.8 469.7,343.2 470.0,312.9 470.4,345.3 470.7,315.8 471.0,344.9 471.4,320.3 471.7,346.9 472.0,324.9 472.4,347.1 472.7,326.8 473.0,347.3 473.4,329.8 473.7,349.5 474.0,333.4 474.4,339.8 474.7,320.2 475.0,301.6 475.4,301.8 475.7,320.9 476.0,336.4 476.4,352.5 476.7,336.8 477.0,354.2 477.4,337.1 477.7,354.3 478.0,335.7 478.4,378.6 478.7,331.4 479.0,351.3 479.4,310.0 479.7,344.0 480.0,302.0 480.4,339.0 480.7,293.1 481.0,337.3 481.4,291.4 481.7,336.4 482.0,288.2 482.4,337.0 482.7,288.7 483.0,335.8 483.4,287.4 483.7,337.0 484.0,292.1 484.4,337.4 484.7,286.9 485.0,335.5 485.4,289.2 485.7,336.6 486.0,290.2 486.4,337.2 486.7,293.4 487.0,336.8 487.4,298.7 487.7,338.7 488.0,299.7 488.4,340.3 488.7,304.2 489.0,357.6 489.4,309.3 489.7,340.6 490.0,304.5 490.4,339.4 490.7,309.6 491.0,342.5 491.4,313.9 491.7,341.5 492.0,314.9 492.4,341.3 492.7,314.9 493.0,341.5 493.4,314.7 493.7,344.3 494.0,322.4 494.4,345.7 494.7,323.0 495.0,344.6 495.4,321.3 495.7,343.6 496.0,323.2 496.4,345.3 496.7,326.9 497.0,348.5 497.4,329.3 497.7,349.0 498.0,333.8 498.4,361.7 498.7,334.5 499.0,369.4 499.4,335.3 499.7,353.3 500.0,335.1 500.4,352.1 500.7,334.3 501.0,327.2 501.4,304.8 501.7,282.4 502.0,304.8 502.4,327.2 502.7,335.9 503.0,352.9 503.4,336.7 503.7,365.0 504.0,337.5 504.4,363.0 504.7,336.2 505.0,332.0 505.4,320.2 505.7,322.5 506.0,334.1 506.4,344.1 506.7,334.1 507.0,350.1 507.4,330.7 507.7,345.2 508.0,297.7 508.4,339.4 508.7,286.9 509.0,334.6 509.4,290.7 509.7,334.7 510.0,286.4 510.4,336.2 510.7,286.8 511.0,336.6 511.4,284.3 511.7,336.0 512.0,285.3 512.4,334.8 512.7,277.7 513.0,334.7 513.4,272.4 513.7,333.3 514.0,271.8 514.4,333.0 514.7,275.6 515.0,334.5 515.4,276.3 515.7,333.1 516.0,279.0 516.4,335.2 516.7,285.5 517.0,335.6 517.4,293.4 517.7,336.9 518.0,294.0 518.4,336.1 518.7,287.2 519.0,337.1 519.4,289.2 519.7,337.5 520.0,299.3 520.4,339.5 520.7,300.2 521.0,337.5 521.4,297.5 521.7,347.8 522.0,302.5 522.4,346.9 522.7,309.3 523.0,341.4 523.4,307.9 523.7,341.8 524.0,308.8 524.4,342.0 524.7,311.4 525.0,340.4 525.4,314.4 525.7,341.7 526.0,314.5 526.4,345.2 526.7,321.3 527.0,344.0 527.4,323.7 527.7,345.0 528.0,323.1 528.4,345.7 528.7,325.7 529.0,346.7 529.4,328.1 529.7,347.6 530.0,331.3 530.4,350.3 530.7,335.1 531.0,353.1 531.4,335.1 531.7,370.7 532.0,337.5 532.4,368.3 532.7,335.8 533.0,353.1 533.4,333.9 533.7,353.3 534.0,337.1"/>
<polyline class="ln" stroke="#ffff00" points="311.7,344.3 312.0,319.4 312.4,342.5 312.7,319.5 313.0,341.0 313.4,314.7 313.7,342.3 314.0,315.4 314.4,351.3 314.7,318.6 315.0,347.1 315.4,316.6 315.7,341.9 316.0,312.4 316.4,341.0 316.7,313.8 317.0,343.3 317.4,317.4 317.7,342.5 318.0,317.4 318.4,342.4 318.7,315.0 319.0,341.2 319.4,313.7 319.7,341.5 320.0,314.5 320.4,342.4 320.7,313.5 321.0,342.5 321.4,318.4 321.7,343.7 322.0,319.1 322.4,342.5 322.7,318.2 323.0,342.5 323.4,314.6 323.7,342.9 324.0,318.7 324.4,342.5 324.7,322.1 325.0,345.6 325.4,323.9 325.7,345.8 326.0,324.9 326.4,345.9 326.7,326.4 327.0,346.4 327.4,325.4 327.7,344.7 328.0,325.7 328.4,347.2 328.7,327.2 329.0,346.8 329.4,329.9 329.7,347.1 330.0,331.0 330.4,347.9 330.7,330.8 331.0,348.1 331.4,332.8 331.7,349.3 332.0,334.1 332.4,348.7 332.7,333.8 333.0,349.1 333.4,335.3 333.7,350.7 334.0,338.7 334.4,351.3 334.7,339.7 335.0,352.9 335.4,342.0 335.7,359.3 336.0,343.8 336.4,354.6 336.7,345.1 337.0,353.1 337.4,344.1 337.7,334.5 338.0,327.0 338.4,337.0 338.7,347.0 339.0,359.4 339.4,347.0 339.7,358.5 340.0,347.3 340.4,361.1 340.7,348.4 341.0,361.3 341.4,348.3 341.7,366.6 342.0,344.1 342.4,354.0 342.7,339.7 343.0,349.6 343.4,321.0 343.7,344.3 344.0,317.6 344.4,342.9 344.7,320.8 345.0,343.2 345.4,319.9 345.7,343.0 346.0,315.6 346.4,341.8 346.7,315.4 347.0,341.1 347.4,314.0 347.7,341.7 348.0,311.7 348.4,339.8 348.7,313.3 349.0,340.1 349.4,311.3 349.7,338.9 350.0,312.0 350.4,339.9 350.7,317.3 351.0,341.6 351.4,316.8 351.7,342.5 352.0,317.5 352.4,349.9 352.7,320.1 353.0,343.9 353.4,321.4 353.7,343.6 354.0,323.6 354.4,344.3 354.7,325.6 355.0,345.7 355.4,327.6 355.7,346.7 356.0,329.5 356.4,348.3 356.7,332.1 357.0,349.0 357.4,333.1 357.7,349.0 358.0,333.4 358.4,348.4 358.7,332.4 359.0,349.6 359.4,334.2 359.7,349.2 360.0,337.7 360.4,351.3 360.7,339.6 361.0,357.8 361.4,341.2 361.7,360.2 362.0,343.9 362.4,356.0 362.7,346.5 363.0,357.6 363.4,347.7 363.7,359.9 364.0,346.5 364.4,359.2 364.7,346.7 365.0,338.4 365.4,327.6 365.7,329.8 366.0,340.5 366.4,351.7 366.7,346.5 367.0,359.5 367.4,347.2 367.7,366.3 368.0,346.6 368.4,358.8 368.7,347.5 369.0,359.2 369.4,347.9 369.7,360.2 370.0,346.4 370.4,358.0 370.7,347.0 371.0,340.7 371.4,326.1 371.7,310.5 372.0,323.4 372.4,335.6 372.7,339.1 373.0,351.4 373.4,330.0 373.7,349.5 374.0,326.3 374.4,347.2 374.7,324.2 375.0,346.3 375.4,325.1 375.7,345.8 376.0,326.0 376.4,346.3 376.7,326.8 377.0,346.5 377.4,326.9 377.7,347.0 378.0,328.9 378.4,348.5 378.7,330.0 379.0,347.8 379.4,330.7 379.7,348.7 380.0,330.7 380.4,348.4 380.7,327.7 381.0,348.0 381.4,329.0 381.7,348.2 382.0,331.6 382.4,347.8 382.7,331.5 383.0,348.0 383.4,332.6 383.7,348.2 384.0,333.4 384.4,349.6 384.7,336.3 385.0,350.7 385.4,336.9 385.7,352.5 386.0,337.4 386.4,350.5 386.7,338.4 387.0,351.3 387.4,336.9 387.7,351.6 388.0,337.6 388.4,352.6 388.7,339.7 389.0,352.0 389.4,340.2 389.7,352.1 390.0,340.3 390.4,354.2 390.7,340.2 391.0,362.5 391.4,343.3 391.7,357.5 392.0,333.9 392.4,324.9 392.7,333.3 393.0,343.8 393.4,346.3 393.7,356.3 394.0,344.5 394.4,358.0 394.7,344.9 395.0,354.1 395.4,341.8 395.7,352.5 396.0,338.2 396.4,350.0 396.7,326.6 397.0,346.3 397.4,322.9 397.7,344.6 398.0,320.8 398.4,342.5 398.7,321.7 399.0,343.3 399.4,321.0 399.7,343.2 400.0,320.7 400.4,342.6 400.7,318.5 401.0,343.6 401.4,320.8 401.7,343.8 402.0,319.6 402.4,341.6 402.7,313.4 403.0,340.6 403.4,313.6 403.7,340.7 404.0,313.0 404.4,339.6 404.7,315.4 405.0,341.3 405.4,320.3 405.7,344.4 406.0,322.5 406.4,343.9 406.7,318.4 407.0,343.2 407.4,319.4 407.7,343.1 408.0,322.8 408.4,344.3 408.7,324.8 409.0,350.3 409.4,328.4 409.7,345.2 410.0,329.2 410.4,345.4 410.7,328.7 411.0,347.6 411.4,330.1 411.7,346.4 412.0,329.1 412.4,346.5 412.7,331.0 413.0,348.6 413.4,333.7 413.7,350.6 414.0,334.9 414.4,349.9 414.7,334.8 415.0,349.1 415.4,334.4 415.7,350.4 416.0,335.7 416.4,348.7 416.7,337.7 417.0,347.5 417.4,336.1 417.7,349.3 418.0,337.5 418.4,352.7 418.7,341.4 419.0,353.1 419.4,342.3 419.7,334.7 420.0,323.5 420.4,323.9 420.7,335.7 421.0,355.0 421.4,338.7 421.7,356.8 422.0,336.0 422.4,346.5 422.7,321.6 423.0,342.4 423.4,316.6 423.7,340.0 424.0,315.9 424.4,338.7 424.7,314.4 425.0,340.8 425.4,316.6 425.7,340.3 426.0,311.5 426.4,337.0 426.7,309.2 427.0,337.4 427.4,313.9 427.7,339.2 428.0,311.6 428.4,339.0 428.7,310.8 429.0,337.3 429.4,313.3 429.7,339.1 430.0,313.5 430.4,338.4 430.7,314.5 431.0,339.7 431.4,316.9 431.7,339.5 432.0,317.9 432.4,340.3 432.7,318.0 433.0,348.6 433.4,320.0 433.7,342.0 434.0,319.7 434.4,342.0 434.7,320.5 435.0,341.3 435.4,324.1 435.7,343.2 436.0,325.3 436.4,344.1 436.7,324.8 437.0,343.7 437.4,327.1 437.7,343.5 438.0,330.3 438.4,345.0 438.7,331.0 439.0,346.2 439.4,330.2 439.7,348.9 440.0,330.3 440.4,347.5 440.7,329.8 441.0,345.9 441.4,330.8 441.7,347.0 442.0,334.3 442.4,348.8 442.7,333.6 443.0,346.5 443.4,333.4 443.7,347.1 444.0,335.2 444.4,347.2 444.7,336.4 445.0,348.7 445.4,338.9 445.7,352.0 446.0,340.6 446.4,331.3 446.7,321.8 447.0,355.3 447.4,341.3 447.7,363.4 448.0,342.9 448.4,353.7 448.7,342.6 449.0,354.0 449.4,342.8 449.7,353.5 450.0,341.2 450.4,365.4 450.7,340.2 451.0,351.9 451.4,337.5 451.7,348.2 452.0,325.8 452.4,344.7 452.7,321.3 453.0,341.8 453.4,315.3 453.7,340.5 454.0,314.2 454.4,338.7 454.7,316.2 455.0,340.3 455.4,318.5 455.7,340.7 456.0,320.2 456.4,342.3 456.7,322.6 457.0,342.8 457.4,323.4 457.7,342.1 458.0,324.2 458.4,344.4 458.7,324.2 459.0,348.7 459.4,325.0 459.7,343.6 460.0,329.8 460.4,344.8 460.7,330.5 461.0,345.3 461.4,328.5 461.7,344.0 462.0,329.7 462.4,344.7 462.7,332.8 463.0,348.2 463.4,334.2 463.7,348.3 464.0,335.5 464.4,349.6 464.7,335.9 465.0,349.7 465.4,336.3 465.7,347.4 466.0,333.6 466.4,347.5 466.7,327.2 467.0,345.0 467.4,323.2 467.7,343.2 468.0,318.1 468.4,342.0 468.7,320.8 469.0,344.5 469.4,324.9 469.7,343.5 470.0,326.5 470.4,344.5 470.7,327.3 471.0,344.8 471.4,330.1 471.7,347.1 472.0,333.2 472.4,346.7 472.7,334.6 473.0,347.5 473.4,335.5 473.7,348.9 474.0,338.2 474.4,343.7 474.7,331.5 475.0,320.7 475.4,321.1 475.7,332.5 476.0,341.2 476.4,354.6 476.7,342.1 477.0,353.0 477.4,341.6 477.7,352.9 478.0,340.9 478.4,364.6 478.7,336.5 479.0,348.0 479.4,324.2 479.7,343.9 480.0,318.6 480.4,339.0 480.7,311.8 481.0,337.4 481.4,311.7 481.7,335.2 482.0,310.4 482.4,335.8 482.7,309.6 483.0,335.8 483.4,310.7 483.7,336.4 484.0,310.6 484.4,336.4 484.7,311.0 485.0,336.4 485.4,312.6 485.7,337.2 486.0,311.6 486.4,337.6 486.7,313.0 487.0,337.6 487.4,314.8 487.7,338.7 488.0,316.6 488.4,338.5 488.7,321.3 489.0,348.5 489.4,321.5 489.7,340.1 490.0,320.5 490.4,340.8 490.7,322.5 491.0,342.4 491.4,325.6 491.7,341.3 492.0,326.3 492.4,341.7 492.7,325.3 493.0,341.7 493.4,327.3 493.7,344.4 494.0,330.2 494.4,344.5 494.7,332.2 495.0,345.1 495.4,329.7 495.7,345.2 496.0,331.5 496.4,346.2 496.7,332.9 497.0,348.6 497.4,335.2 497.7,350.2 498.0,339.2 498.4,355.5 498.7,340.6 499.0,360.2 499.4,341.3 499.7,352.9 500.0,341.1 500.4,351.7 500.7,340.0 501.0,336.1 501.4,322.7 501.7,309.3 502.0,322.7 502.4,336.1 502.7,340.6 503.0,354.0 503.4,341.8 503.7,358.6 504.0,341.2 504.4,357.5 504.7,341.7 505.0,339.5 505.4,332.2 505.7,333.6 506.0,340.5 506.4,345.8 506.7,339.7 507.0,348.5 507.4,336.1 507.7,345.6 508.0,315.4 508.4,338.4 508.7,311.2 509.0,336.4 509.4,310.5 509.7,335.2 510.0,309.9 510.4,335.6 510.7,308.9 511.0,336.1 511.4,308.2 511.7,336.3 512.0,305.8 512.4,335.1 512.7,306.9 513.0,334.5 513.4,301.6 513.7,333.6 514.0,302.3 514.4,332.1 514.7,301.7 515.0,334.5 515.4,303.2 515.7,334.4 516.0,305.4 516.4,335.2 516.7,308.3 517.0,335.9 517.4,312.6 517.7,337.1 518.0,313.7 518.4,336.6 518.7,310.3 519.0,335.2 519.4,311.5 519.7,338.8 520.0,315.9 520.4,338.3 520.7,317.3 521.0,338.0 521.4,316.5 521.7,342.2 522.0,319.4 522.4,342.4 522.7,321.0 523.0,339.6 523.4,323.2 523.7,339.6 524.0,322.7 524.4,340.9 524.7,323.6 525.0,342.0 525.4,324.2 525.7,341.7 526.0,324.9 526.4,344.5 526.7,330.6 527.0,344.9 527.4,330.1 527.7,345.5 528.0,331.7 528.4,345.8 528.7,332.0 529.0,346.7 529.4,333.4 529.7,347.8 530.0,337.6 530.4,350.0 530.7,339.2 531.0,351.2 531.4,340.1 531.7,361.4 532.0,342.2 532.4,360.4 532.7,340.2 533.0,352.9 533.4,340.3 533.7,352.5 534.0,342.6"/>
<polyline class="ln" stroke="#00ff00" points="311.7,343.4 312.0,330.7 312.4,343.9 312.7,330.4 313.0,342.5 313.4,327.9 313.7,342.1 314.0,327.7 314.4,344.0 314.7,328.6 315.0,342.4 315.4,328.6 315.7,342.3 316.0,325.8 316.4,341.5 316.7,325.2 317.0,342.7 317.4,329.7 317.7,342.6 318.0,329.2 318.4,341.4 318.7,328.5 319.0,341.3 319.4,328.6 319.7,342.1 320.0,325.9 320.4,340.4 320.7,326.3 321.0,341.5 321.4,327.9 321.7,342.2 322.0,328.6 322.4,344.2 322.7,330.5 323.0,342.7 323.4,328.2 323.7,343.0 324.0,328.2 324.4,343.6 324.7,331.5 325.0,345.3 325.4,333.4 325.7,344.6 326.0,334.4 326.4,346.9 326.7,334.0 327.0,346.5 327.4,333.7 327.7,344.8 328.0,334.6 328.4,345.4 328.7,335.5 329.0,346.7 329.4,335.6 329.7,348.3 330.0,337.3 330.4,347.6 330.7,337.8 331.0,349.3 331.4,337.5 331.7,348.9 332.0,339.2 332.4,348.6 332.7,340.2 333.0,349.0 333.4,340.1 333.7,350.5 334.0,342.9 334.4,352.8 334.7,343.3 335.0,353.9 335.4,344.7 335.7,354.7 336.0,345.8 336.4,355.0 336.7,346.8 337.0,353.6 337.4,348.2 337.7,344.9 338.0,341.5 338.4,346.5 338.7,349.3 339.0,358.3 339.4,350.4 339.7,358.7 340.0,350.4 340.4,361.3 340.7,352.1 341.0,360.6 341.4,350.7 341.7,358.8 342.0,346.9 342.4,354.2 342.7,342.9 343.0,348.6 343.4,334.6 343.7,345.7 344.0,329.8 344.4,342.5 344.7,330.3 345.0,342.3 345.4,328.4 345.7,342.0 346.0,328.2 346.4,342.2 346.7,327.8 347.0,341.5 347.4,325.5 347.7,340.3 348.0,324.4 348.4,340.5 348.7,325.0 349.0,341.1 349.4,323.6 349.7,338.7 350.0,325.1 350.4,340.3 350.7,327.5 351.0,340.9 351.4,328.6 351.7,342.5 352.0,329.0 352.4,343.0 352.7,329.4 353.0,343.8 353.4,331.1 353.7,344.9 354.0,331.5 354.4,344.2 354.7,332.9 355.0,345.3 355.4,335.3 355.7,347.0 356.0,336.0 356.4,347.1 356.7,337.0 357.0,348.4 357.4,337.3 357.7,347.5 358.0,338.4 358.4,350.0 358.7,338.8 359.0,347.6 359.4,338.7 359.7,348.2 360.0,340.5 360.4,350.9 360.7,342.6 361.0,353.0 361.4,345.0 361.7,355.6 362.0,347.4 362.4,357.7 362.7,348.0 363.0,357.4 363.4,350.8 363.7,358.5 364.0,348.7 364.4,357.1 364.7,348.5 365.0,347.0 365.4,341.6 365.7,342.7 366.0,348.1 366.4,353.9 366.7,350.5 367.0,359.1 367.4,349.6 367.7,359.5 368.0,349.0 368.4,358.5 368.7,350.2 369.0,359.7 369.4,350.0 369.7,359.1 370.0,349.8 370.4,358.6 370.7,349.9 371.0,348.0 371.4,340.7 371.7,331.5 372.0,337.1 372.4,342.2 372.7,340.2 373.0,352.2 373.4,339.2 373.7,349.3 374.0,335.9 374.4,347.1 374.7,333.5 375.0,344.7 375.4,333.5 375.7,345.8 376.0,334.3 376.4,346.8 376.7,334.1 377.0,345.7 377.4,334.1 377.7,346.7 378.0,336.5 378.4,347.2 378.7,337.1 379.0,347.3 379.4,337.8 379.7,348.8 380.0,337.5 380.4,349.5 380.7,335.1 381.0,347.5 381.4,335.6 381.7,347.0 382.0,337.3 382.4,348.8 382.7,337.4 383.0,348.4 383.4,337.3 383.7,348.6 384.0,338.7 384.4,349.2 384.7,340.5 385.0,351.8 385.4,341.8 385.7,352.7 386.0,342.4 386.4,350.5 386.7,342.7 387.0,349.6 387.4,341.7 387.7,349.6 388.0,341.3 388.4,352.5 388.7,343.4 389.0,352.9 389.4,344.1 389.7,352.4 390.0,344.0 390.4,353.5 390.7,343.2 391.0,355.0 391.4,345.8 391.7,354.2 392.0,343.5 392.4,340.2 392.7,344.4 393.0,349.6 393.4,348.7 393.7,357.5 394.0,348.7 394.4,358.4 394.7,348.1 395.0,356.1 395.4,344.1 395.7,352.2 396.0,340.9 396.4,349.3 396.7,336.3 397.0,348.1 397.4,332.3 397.7,343.7 398.0,331.9 398.4,343.9 398.7,330.4 399.0,344.1 399.4,330.1 399.7,342.8 400.0,330.4 400.4,342.3 400.7,330.6 401.0,341.9 401.4,330.1 401.7,342.7 402.0,329.3 402.4,342.9 402.7,326.1 403.0,341.5 403.4,327.0 403.7,341.1 404.0,326.2 404.4,341.1 404.7,327.4 405.0,340.7 405.4,331.9 405.7,344.0 406.0,332.0 406.4,344.5 406.7,328.8 407.0,342.3 407.4,330.3 407.7,342.7 408.0,330.9 408.4,343.0 408.7,331.2 409.0,344.9 409.4,333.9 409.7,346.9 410.0,335.2 410.4,346.3 410.7,335.1 411.0,347.0 411.4,336.6 411.7,348.3 412.0,335.5 412.4,345.6 412.7,336.3 413.0,347.4 413.4,337.9 413.7,348.9 414.0,338.4 414.4,349.3 414.7,337.9 415.0,349.1 415.4,339.4 415.7,350.1 416.0,340.1 416.4,350.7 416.7,340.2 417.0,348.3 417.4,338.8 417.7,349.0 418.0,341.4 418.4,352.4 418.7,343.8 419.0,353.3 419.4,345.1 419.7,343.3 420.0,338.1 420.4,338.7 420.7,344.6 421.0,351.9 421.4,342.2 421.7,350.3 422.0,339.5 422.4,347.3 422.7,330.9 423.0,343.9 423.4,326.9 423.7,340.3 424.0,326.7 424.4,339.3 424.7,325.4 425.0,341.5 425.4,327.7 425.7,340.8 426.0,324.0 426.4,338.7 426.7,322.9 427.0,337.4 427.4,325.5 427.7,339.2 428.0,324.9 428.4,338.6 428.7,323.5 429.0,339.1 429.4,324.7 429.7,338.5 430.0,325.6 430.4,339.6 430.7,325.5 431.0,340.4 431.4,327.3 431.7,340.7 432.0,326.8 432.4,340.7 432.7,327.5 433.0,340.0 433.4,327.9 433.7,340.7 434.0,328.2 434.4,342.3 434.7,330.4 435.0,340.8 435.4,332.0 435.7,342.3 436.0,331.8 436.4,342.8 436.7,332.9 437.0,344.4 437.4,333.1 437.7,345.2 438.0,335.8 438.4,344.7 438.7,336.2 439.0,345.1 439.4,334.5 439.7,346.0 440.0,335.4 440.4,344.4 440.7,334.5 441.0,345.8 441.4,334.8 441.7,346.7 442.0,338.0 442.4,347.4 442.7,338.2 443.0,347.6 443.4,338.2 443.7,348.4 444.0,337.4 444.4,348.3 444.7,340.1 445.0,349.9 445.4,340.7 445.7,352.8 446.0,344.6 446.4,341.2 446.7,336.8 447.0,352.6 447.4,345.9 447.7,355.6 448.0,344.5 448.4,355.0 448.7,345.1 449.0,355.2 449.4,346.0 449.7,352.8 450.0,345.3 450.4,355.9 450.7,343.4 451.0,351.0 451.4,340.5 451.7,346.7 452.0,335.2 452.4,346.3 452.7,330.2 453.0,341.4 453.4,326.4 453.7,340.6 454.0,324.6 454.4,339.3 454.7,327.2 455.0,341.0 455.4,326.9 455.7,341.3 456.0,329.3 456.4,341.2 456.7,329.8 457.0,342.2 457.4,331.2 457.7,341.8 458.0,330.9 458.4,343.7 458.7,331.9 459.0,343.8 459.4,332.6 459.7,344.1 460.0,335.1 460.4,344.9 460.7,334.8 461.0,345.0 461.4,334.6 461.7,344.5 462.0,334.8 462.4,345.5 462.7,337.6 463.0,347.5 463.4,338.1 463.7,348.0 464.0,337.8 464.4,347.9 464.7,340.9 465.0,351.0 465.4,338.5 465.7,346.0 466.0,336.3 466.4,348.1 466.7,335.1 467.0,345.3 467.4,332.6 467.7,342.8 468.0,329.1 468.4,341.3 468.7,329.0 469.0,343.1 469.4,332.8 469.7,342.9 470.0,332.5 470.4,345.3 470.7,333.9 471.0,345.8 471.4,334.8 471.7,347.4 472.0,338.1 472.4,348.3 472.7,338.1 473.0,347.3 473.4,339.6 473.7,349.7 474.0,340.6 474.4,346.5 474.7,339.9 475.0,335.0 475.4,335.6 475.7,341.1 476.0,344.4 476.4,353.8 476.7,343.7 477.0,354.1 477.4,344.1 477.7,352.8 478.0,343.1 478.4,353.7 478.7,339.7 479.0,347.7 479.4,332.4 479.7,343.6 480.0,329.4 480.4,339.6 480.7,323.5 481.0,336.5 481.4,322.6 481.7,336.0 482.0,322.6 482.4,335.9 482.7,321.3 483.0,337.2 483.4,321.2 483.7,335.3 484.0,321.9 484.4,335.8 484.7,323.0 485.0,335.6 485.4,322.6 485.7,336.6 486.0,323.3 486.4,336.6 486.7,323.5 487.0,336.5 487.4,325.6 487.7,337.0 488.0,326.5 488.4,338.0 488.7,328.6 489.0,340.1 489.4,329.1 489.7,341.5 490.0,327.9 490.4,340.3 490.7,328.3 491.0,342.2 491.4,331.0 491.7,342.0 492.0,330.5 492.4,341.8 492.7,331.1 493.0,342.9 493.4,332.4 493.7,344.1 494.0,335.1 494.4,346.1 494.7,336.4 495.0,343.4 495.4,335.2 495.7,344.4 496.0,335.4 496.4,345.8 496.7,337.9 497.0,346.7 497.4,339.1 497.7,350.4 498.0,340.4 498.4,352.1 498.7,342.8 499.0,353.1 499.4,344.0 499.7,353.8 500.0,344.5 500.4,353.6 500.7,344.0 501.0,342.9 501.4,336.1 501.7,329.4 502.0,336.1 502.4,342.9 502.7,342.9 503.0,353.1 503.4,345.4 503.7,353.7 504.0,345.5 504.4,353.8 504.7,345.6 505.0,345.1 505.4,341.2 505.7,341.9 506.0,344.1 506.4,347.1 506.7,342.6 507.0,348.5 507.4,338.7 507.7,345.4 508.0,328.3 508.4,340.4 508.7,324.4 509.0,336.3 509.4,322.8 509.7,336.0 510.0,322.8 510.4,336.6 510.7,320.7 511.0,335.9 511.4,320.7 511.7,334.8 512.0,319.7 512.4,334.3 512.7,319.5 513.0,334.5 513.4,317.0 513.7,332.1 514.0,316.0 514.4,332.0 514.7,317.7 515.0,332.8 515.4,318.8 515.7,333.0 516.0,319.1 516.4,335.3 516.7,320.9 517.0,335.6 517.4,322.5 517.7,336.4 518.0,323.2 518.4,335.0 518.7,322.2 519.0,335.4 519.4,323.0 519.7,339.1 520.0,326.6 520.4,338.6 520.7,326.5 521.0,337.6 521.4,325.3 521.7,339.5 522.0,326.2 522.4,339.8 522.7,329.8 523.0,340.2 523.4,330.0 523.7,340.4 524.0,329.5 524.4,340.8 524.7,331.5 525.0,341.6 525.4,331.0 525.7,341.4 526.0,332.1 526.4,344.4 526.7,333.9 527.0,344.3 527.4,335.6 527.7,344.9 528.0,334.7 528.4,345.2 528.7,335.7 529.0,345.3 529.4,337.0 529.7,349.1 530.0,340.4 530.4,349.4 530.7,343.3 531.0,351.4 531.4,342.9 531.7,354.2 532.0,345.4 532.4,354.3 532.7,342.9 533.0,352.5 533.4,343.2 533.7,352.9 534.0,345.0"/>
<polyline class="ln" stroke="#0000ff" points="311.7,342.9 312.0,336.8 312.4,342.4 312.7,337.9 313.0,342.3 313.4,336.2 313.7,342.7 314.0,335.5 314.4,342.3 314.7,337.3 315.0,343.1 315.4,337.5 315.7,340.5 316.0,335.8 316.4,340.3 316.7,335.6 317.0,343.2 317.4,337.1 317.7,342.7 318.0,336.7 318.4,341.1 318.7,336.1 319.0,342.5 319.4,335.4 319.7,341.5 320.0,336.3 320.4,341.8 320.7,336.3 321.0,342.9 321.4,336.5 321.7,342.5 322.0,337.4 322.4,343.4 322.7,337.6 323.0,344.1 323.4,336.2 323.7,341.4 324.0,336.5 324.4,342.1 324.7,337.9 325.0,344.7 325.4,338.9 325.7,345.1 326.0,340.8 326.4,346.2 326.7,341.2 327.0,345.6 327.4,339.3 327.7,346.1 328.0,339.2 328.4,346.1 328.7,340.7 329.0,346.4 329.4,342.5 329.7,347.7 330.0,342.0 330.4,349.3 330.7,342.9 331.0,348.9 331.4,342.8 331.7,348.2 332.0,343.4 332.4,349.4 332.7,344.6 333.0,350.0 333.4,344.5 333.7,350.1 334.0,346.8 334.4,352.8 334.7,347.1 335.0,353.7 335.4,349.0 335.7,354.5 336.0,350.1 336.4,354.6 336.7,350.3 337.0,354.1 337.4,352.1 337.7,355.2 338.0,353.9 338.4,356.0 338.7,352.8 339.0,359.2 339.4,353.4 339.7,358.6 340.0,353.6 340.4,360.5 340.7,354.8 341.0,359.6 341.4,354.3 341.7,357.0 342.0,349.8 342.4,354.8 342.7,345.5 343.0,348.5 343.4,342.0 343.7,345.9 344.0,336.7 344.4,343.3 344.7,337.2 345.0,342.9 345.4,337.0 345.7,341.9 346.0,335.9 346.4,340.6 346.7,335.0 347.0,340.3 347.4,335.1 347.7,340.8 348.0,335.1 348.4,341.1 348.7,334.5 349.0,339.3 349.4,334.0 349.7,340.0 350.0,333.6 350.4,341.1 350.7,334.9 351.0,342.0 351.4,336.1 351.7,341.2 352.0,335.7 352.4,341.8 352.7,336.0 353.0,342.8 353.4,337.8 353.7,344.7 354.0,338.5 354.4,344.7 354.7,339.0 355.0,346.7 355.4,340.6 355.7,345.9 356.0,340.9 356.4,346.8 356.7,341.5 357.0,347.1 357.4,341.7 357.7,349.5 358.0,342.4 358.4,349.0 358.7,342.2 359.0,348.3 359.4,343.8 359.7,348.9 360.0,345.8 360.4,350.2 360.7,347.0 361.0,352.3 361.4,348.0 361.7,355.4 362.0,349.8 362.4,357.1 362.7,352.2 363.0,357.7 363.4,354.0 363.7,358.2 364.0,352.7 364.4,359.0 364.7,352.3 365.0,355.7 365.4,352.4 365.7,355.7 366.0,352.6 366.4,356.0 366.7,353.3 367.0,358.4 367.4,352.4 367.7,358.0 368.0,352.1 368.4,358.2 368.7,353.6 369.0,360.3 369.4,353.4 369.7,360.4 370.0,353.8 370.4,358.8 370.7,353.0 371.0,355.3 371.4,353.1 371.7,352.5 372.0,347.9 372.4,348.9 372.7,344.4 373.0,352.6 373.4,344.9 373.7,348.0 374.0,342.4 374.4,346.6 374.7,339.4 375.0,346.3 375.4,340.6 375.7,347.3 376.0,340.5 376.4,347.2 376.7,341.3 377.0,346.6 377.4,340.5 377.7,347.9 378.0,342.3 378.4,348.3 378.7,341.3 379.0,347.8 379.4,342.0 379.7,348.1 380.0,343.2 380.4,347.8 380.7,341.0 381.0,346.4 381.4,342.0 381.7,347.8 382.0,342.9 382.4,348.7 382.7,342.8 383.0,347.8 383.4,342.7 383.7,349.4 384.0,342.8 384.4,348.2 384.7,345.2 385.0,352.3 385.4,345.0 385.7,350.9 386.0,344.6 386.4,351.9 386.7,344.9 387.0,349.4 387.4,345.1 387.7,351.1 388.0,345.6 388.4,352.3 388.7,346.9 389.0,352.7 389.4,347.2 389.7,353.5 390.0,346.9 390.4,352.8 390.7,347.4 391.0,353.5 391.4,349.2 391.7,353.2 392.0,350.9 392.4,355.4 392.7,353.4 393.0,355.4 393.4,353.1 393.7,357.4 394.0,350.9 394.4,356.3 394.7,351.9 395.0,355.6 395.4,348.2 395.7,352.2 396.0,344.6 396.4,350.5 396.7,342.6 397.0,347.7 397.4,340.2 397.7,343.7 398.0,338.5 398.4,344.0 398.7,337.9 399.0,343.9 399.4,337.3 399.7,343.0 400.0,337.1 400.4,343.2 400.7,337.0 401.0,342.6 401.4,337.2 401.7,343.1 402.0,337.6 402.4,342.8 402.7,335.0 403.0,340.2 403.4,334.0 403.7,340.7 404.0,334.9 404.4,339.7 404.7,333.8 405.0,341.2 405.4,338.0 405.7,342.4 406.0,338.4 406.4,344.8 406.7,335.5 407.0,343.2 407.4,336.4 407.7,342.6 408.0,337.5 408.4,344.4 408.7,337.9 409.0,345.0 409.4,340.8 409.7,345.9 410.0,340.2 410.4,346.6 410.7,341.0 411.0,345.9 411.4,340.6 411.7,347.2 412.0,340.7 412.4,346.3 412.7,341.6 413.0,348.9 413.4,343.0 413.7,348.2 414.0,343.3 414.4,348.8 414.7,342.6 415.0,349.7 415.4,342.7 415.7,349.5 416.0,344.3 416.4,350.2 416.7,344.0 417.0,348.4 417.4,342.9 417.7,350.3 418.0,344.0 418.4,351.9 418.7,346.5 419.0,353.7 419.4,348.0 419.7,352.0 420.0,349.7 420.4,353.5 420.7,350.9 421.0,351.0 421.4,346.1 421.7,349.6 422.0,341.5 422.4,347.2 422.7,338.2 423.0,342.4 423.4,335.4 423.7,340.4 424.0,333.8 424.4,340.6 424.7,333.3 425.0,340.7 425.4,334.4 425.7,341.2 426.0,333.2 426.4,337.3 426.7,332.1 427.0,338.4 427.4,333.6 427.7,337.8 428.0,332.7 428.4,338.7 428.7,331.6 429.0,337.5 429.4,332.1 429.7,338.9 430.0,332.5 430.4,339.2 430.7,334.0 431.0,340.3 431.4,334.2 431.7,339.9 432.0,335.2 432.4,340.3 432.7,334.3 433.0,341.4 433.4,334.9 433.7,340.1 434.0,334.7 434.4,342.5 434.7,336.6 435.0,341.5 435.4,337.5 435.7,343.3 436.0,337.7 436.4,344.2 436.7,337.5 437.0,343.7 437.4,337.8 437.7,343.5 438.0,338.9 438.4,344.8 438.7,339.3 439.0,345.4 439.4,339.9 439.7,344.8 440.0,340.1 440.4,345.0 440.7,338.9 441.0,345.9 441.4,339.9 441.7,348.2 442.0,341.1 442.4,348.0 442.7,342.6 443.0,346.2 443.4,341.9 443.7,346.7 444.0,342.0 444.4,347.9 444.7,342.8 445.0,349.4 445.4,343.9 445.7,351.9 446.0,346.8 446.4,351.1 446.7,349.3 447.0,351.9 447.4,347.6 447.7,353.4 448.0,347.8 448.4,355.2 448.7,348.9 449.0,354.6 449.4,348.1 449.7,354.4 450.0,347.7 450.4,353.2 450.7,345.7 451.0,350.6 451.4,344.1 451.7,348.6 452.0,340.5 452.4,346.3 452.7,338.5 453.0,342.3 453.4,333.3 453.7,338.7 454.0,333.2 454.4,339.3 454.7,334.5 455.0,341.2 455.4,334.3 455.7,340.5 456.0,335.9 456.4,342.9 456.7,337.0 457.0,343.5 457.4,337.2 457.7,342.1 458.0,336.5 458.4,342.6 458.7,336.9 459.0,343.9 459.4,337.1 459.7,344.7 460.0,339.2 460.4,345.7 460.7,340.3 461.0,345.1 461.4,339.5 461.7,344.1 462.0,339.0 462.4,346.8 462.7,341.6 463.0,347.3 463.4,341.6 463.7,348.0 464.0,342.3 464.4,349.7 464.7,344.2 465.0,349.9 465.4,341.9 465.7,347.4 466.0,340.0 466.4,347.2 466.7,340.6 467.0,344.6 467.4,338.9 467.7,342.9 468.0,336.1 468.4,342.6 468.7,337.0 469.0,342.7 469.4,337.5 469.7,343.1 470.0,338.3 470.4,343.5 470.7,338.3 471.0,346.0 471.4,339.3 471.7,346.0 472.0,341.5 472.4,348.5 472.7,341.7 473.0,348.1 473.4,342.6 473.7,350.6 474.0,345.5 474.4,349.4 474.7,345.0 475.0,349.3 475.4,346.9 475.7,349.8 476.0,347.2 476.4,354.1 476.7,347.1 477.0,353.6 477.4,348.2 477.7,353.7 478.0,345.9 478.4,351.0 478.7,343.4 479.0,347.0 479.4,339.7 479.7,343.8 480.0,335.3 480.4,339.7 480.7,331.1 481.0,336.0 481.4,331.4 481.7,335.7 482.0,330.7 482.4,335.8 482.7,331.0 483.0,337.0 483.4,330.6 483.7,336.4 484.0,330.5 484.4,338.0 484.7,329.6 485.0,337.1 485.4,330.3 485.7,336.3 486.0,330.7 486.4,336.1 486.7,331.8 487.0,338.7 487.4,332.4 487.7,337.3 488.0,332.7 488.4,339.0 488.7,334.9 489.0,339.8 489.4,334.3 489.7,340.0 490.0,333.6 490.4,340.3 490.7,334.4 491.0,341.6 491.4,335.9 491.7,341.2 492.0,335.9 492.4,341.5 492.7,336.0 493.0,342.8 493.4,336.5 493.7,345.3 494.0,339.1 494.4,346.0 494.7,339.6 495.0,343.4 495.4,339.0 495.7,344.6 496.0,338.7 496.4,345.7 496.7,340.1 497.0,346.4 497.4,342.0 497.7,350.0 498.0,343.7 498.4,351.8 498.7,346.9 499.0,351.8 499.4,346.5 499.7,353.1 500.0,347.3 500.4,351.9 500.7,347.2 501.0,349.6 501.4,347.5 501.7,349.6 502.0,346.7 502.4,349.6 502.7,347.0 503.0,353.9 503.4,347.3 503.7,353.2 504.0,348.2 504.4,354.6 504.7,348.7 505.0,350.7 505.4,347.5 505.7,350.2 506.0,346.6 506.4,348.4 506.7,344.8 507.0,348.7 507.4,341.7 507.7,345.0 508.0,335.1 508.4,338.4 508.7,331.7 509.0,335.6 509.4,330.8 509.7,335.9 510.0,330.2 510.4,336.1 510.7,330.6 511.0,334.6 511.4,330.2 511.7,334.9 512.0,329.4 512.4,335.1 512.7,328.6 513.0,334.2 513.4,327.8 513.7,332.7 514.0,326.6 514.4,332.7 514.7,327.2 515.0,332.5 515.4,327.2 515.7,334.8 516.0,328.2 516.4,335.7 516.7,330.0 517.0,336.1 517.4,330.7 517.7,337.8 518.0,331.5 518.4,334.9 518.7,329.8 519.0,336.6 519.4,330.5 519.7,338.0 520.0,333.2 520.4,338.2 520.7,333.3 521.0,337.3 521.4,332.7 521.7,338.7 522.0,332.3 522.4,339.5 522.7,334.7 523.0,340.7 523.4,335.4 523.7,341.2 524.0,334.6 524.4,340.8 524.7,336.5 525.0,340.9 525.4,336.3 525.7,340.9 526.0,336.6 526.4,344.0 526.7,338.4 527.0,345.1 527.4,339.3 527.7,345.1 528.0,339.0 528.4,345.0 528.7,339.3 529.0,346.8 529.4,340.6 529.7,348.4 530.0,343.6 530.4,350.7 530.7,345.5 531.0,352.8 531.4,346.8 531.7,354.2 532.0,347.5 532.4,354.5 532.7,346.1 533.0,352.3 533.4,346.0 533.7,353.0 534.0,348.7"/>
</g>
<path d="M312.7 315.6h2.4M533.3 315.6h-2.4M312.7 347.8h2.4M533.3 347.8h-2.4" fill="none" stroke="#262626" stroke-width="1"/>
<rect x="312.7" y="283.5" width="220.6" height="96.4" fill="none" stroke="#262626" stroke-width="1.1"/>
<text x="305.4" y="290.1" text-anchor="end">2.6</text>
<text x="305.4" y="322.2" text-anchor="end">2.3</text>
<text x="305.4" y="354.4" text-anchor="end">2</text>
<text x="305.4" y="386.5" text-anchor="end">1.7</text>
</svg>
</body></html>
